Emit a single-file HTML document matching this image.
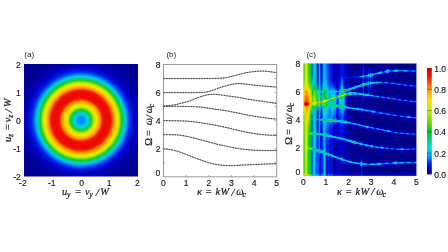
<!DOCTYPE html>
<html><head><meta charset="utf-8"><title>Figure</title>
<style>
html,body{margin:0;padding:0;background:#fff}
#f{position:relative;width:448px;height:252px;overflow:hidden;background:#fff}
#h{position:absolute;left:303px;top:63px;width:114px}
#h i{display:block;height:1px;width:114px}
</style></head><body><div id="f">
<div id="h"><i style="background:linear-gradient(90deg,#e0f9eb,#83e374,#c5ef66,#f4ef66,#e3f266,#97e76c,#7ee275,#6fe07b,#67de7e,#6694f8,#66c7fa,#66e5d9,#66e5d9,#66d2f9,#6666dc,#6666cf,#66e5da,#66a1fa,#6666d0,#666de6,#66c8fa,#66d1f9,#66cafa,#66b7fb,#66a2fa,#668bf6,#6680f4,#6677f2,#6674ee,#666ee8,#6666db,#6666d4,#6666d1,#6666cf,#6666d0,#6666d8,#6667e0,#666ce5,#6670ea,#6674ef,#666fe8,#6669e2,#6666db,#6666d2,#6666ca,#6666c4,#6666c1,#6666bf,#6666bc,#6666bb,#6666bb,#6666bb,#6666bb,#6666bb,#6666bb,#6666ba,#6666ba,#6666ba,#6666bc,#6666cd,#6666db,#6666c1,#6666ba,#6666ba,#6666ba,#6666bc,#6666ba,#6666ba,#6666ba,#6666ba,#6666ba,#6666ba,#6666ba,#6666ba,#6666b9,#6666b9,#6666b9,#6666b9,#6666b9,#6666b9,#6666b9,#6666bb,#6666be,#6666bd,#6666ba,#6666b9,#6666b9,#6666b9,#6666b9,#6666b9,#6666b9,#6666b9,#6666b9,#6666b9,#6666b8,#6666b8,#6666b8,#6666b8,#6666b8,#6666b8,#6666b8,#6666b8,#6666b8,#6666b8,#6666b8,#6666b8,#6666b8,#6666b8,#6666b8,#6666b8,#6666b8,#6666b8,#6666b8,#ffffff)"></i>
<i style="background:linear-gradient(90deg,#ccf5de,#30d116,#9fe400,#ede400,#d0ea00,#52d70a,#29cf19,#0fcb23,#02c827,#004df3,#00a1f7,#00d4c0,#00d4c0,#00b4f5,#0000c6,#0000b0,#00d4c2,#0062f6,#0000b1,#000bd5,#00a3f7,#00b3f5,#00a6f6,#0088f9,#0063f7,#003ef0,#002ced,#001de9,#0017e2,#000ed8,#0000c3,#0000b7,#0000b3,#0000af,#0000b0,#0000be,#0002cb,#000ad3,#0011dc,#0018e4,#000fd9,#0006cf,#0000c3,#0000b5,#0000a7,#00009c,#000098,#000094,#000090,#00008d,#00008d,#00008e,#00008e,#00008e,#00008d,#00008d,#00008d,#00008d,#000090,#0000b8,#0007d1,#00009d,#00008d,#00008c,#00008d,#000092,#00008d,#00008d,#00008c,#00008c,#00008b,#00008b,#00008b,#00008b,#00008b,#00008b,#00008b,#00008b,#00008b,#00008b,#00008b,#00008f,#000099,#000095,#00008e,#00008b,#00008a,#00008a,#00008a,#00008a,#00008a,#00008a,#00008c,#00008b,#000089,#000089,#000089,#000089,#000089,#000089,#000089,#000089,#000089,#000089,#000089,#000089,#000088,#000088,#000088,#000088,#000088,#000088,#000088,#ffffff)"></i>
<i style="background:linear-gradient(90deg,#ccf5de,#30d116,#9fe400,#ede400,#d0ea00,#52d70a,#29cf19,#0fcb23,#02c827,#004df3,#00a1f7,#00d4c0,#00d4c0,#00b5f5,#0000c6,#0000b0,#00d4c2,#0062f6,#0000b1,#000bd5,#00a4f7,#00b3f5,#00a6f6,#0088f9,#0063f7,#003ef0,#002ced,#001de9,#0017e2,#000ed8,#0000c3,#0000b7,#0000b3,#0000af,#0000b0,#0000be,#0002cb,#000ad3,#0011dc,#0018e4,#000fd9,#0006cf,#0000c3,#0000b5,#0000a7,#00009c,#000098,#000094,#000090,#00008d,#00008e,#00008e,#00008f,#00008f,#00008e,#00008d,#00008d,#00008d,#000090,#0000c4,#0010db,#0000a1,#00008d,#00008c,#00008f,#000097,#00008f,#00008e,#00008c,#00008c,#00008b,#00008b,#00008b,#00008b,#00008b,#00008b,#00008b,#00008b,#00008b,#00008b,#00008b,#000091,#0000a1,#00009d,#000093,#00008e,#00008b,#00008a,#00008a,#00008a,#00008a,#00008b,#000091,#00008d,#00008a,#000089,#000089,#000089,#000089,#000089,#000089,#000089,#000089,#000089,#000089,#000089,#000088,#000088,#000088,#000088,#000088,#000088,#000088,#ffffff)"></i>
<i style="background:linear-gradient(90deg,#ccf5de,#30d116,#9fe400,#ede400,#d0ea00,#52d70a,#29cf19,#0fcb23,#02c827,#004ef3,#00a1f7,#00d4c0,#00d4c0,#00b5f5,#0000c6,#0000b0,#00d4c2,#0063f6,#0000b1,#000bd5,#00a4f7,#00b3f5,#00a6f6,#0088f9,#0063f7,#003ef0,#002ced,#001de9,#0017e2,#000ed8,#0000c3,#0000b7,#0000b3,#0000af,#0000b0,#0000be,#0002cb,#000ad3,#0011dc,#0018e4,#000fd9,#0006cf,#0000c3,#0000b5,#0000a7,#00009c,#000098,#000094,#000090,#00008d,#00008e,#00008f,#000090,#000090,#00008f,#00008e,#00008d,#00008d,#000091,#0002ca,#0016e2,#0000a5,#00008d,#00008d,#000091,#0000a0,#000091,#00008f,#00008d,#00008c,#00008c,#00008b,#00008b,#00008b,#00008b,#00008b,#00008b,#00008b,#00008b,#00008b,#00008b,#000094,#0000aa,#0000aa,#0000a3,#000097,#00008e,#00008a,#00008a,#00008a,#00008a,#00008e,#00009d,#000093,#00008a,#00008a,#000089,#000089,#000089,#000089,#000089,#000089,#000089,#000089,#000089,#000089,#000088,#000088,#000088,#000088,#000088,#000088,#000088,#ffffff)"></i>
<i style="background:linear-gradient(90deg,#ccf5de,#31d116,#9fe400,#ede400,#d0e900,#53d70a,#29cf19,#0fcb22,#02c827,#004ef3,#00a2f7,#00d4bf,#00d4bf,#00b5f5,#0000c6,#0000b0,#00d4c2,#0063f6,#0000b1,#000bd5,#00a4f7,#00b3f5,#00a7f6,#0088f9,#0064f7,#003ef0,#002ced,#001de9,#0017e2,#000ed8,#0000c3,#0000b7,#0000b3,#0000af,#0000b0,#0000be,#0002cb,#000ad3,#0011dc,#0018e4,#000fd9,#0006cf,#0000c3,#0000b5,#0000a7,#00009c,#000098,#000094,#000090,#00008e,#00008f,#000091,#000093,#000093,#000091,#00008e,#00008d,#00008d,#000091,#0004cd,#001ae7,#0000a7,#00008d,#00008e,#000094,#0000ae,#000096,#000093,#00008f,#00008d,#00008c,#00008b,#00008b,#00008b,#00008b,#00008b,#00008b,#00008b,#00008b,#00008b,#00008b,#000096,#0000b3,#0000be,#0000c4,#0000ae,#000095,#00008c,#00008b,#00008b,#00008b,#000093,#0000b2,#00009e,#00008c,#00008b,#00008b,#00008b,#00008b,#00008b,#00008b,#00008b,#00008a,#00008a,#000089,#000089,#000089,#000089,#000089,#000089,#000089,#000089,#000089,#ffffff)"></i>
<i style="background:linear-gradient(90deg,#ccf5de,#31d116,#9fe400,#ede400,#d0e900,#53d70a,#29d019,#10cb22,#02c827,#004ff3,#00a2f7,#00d4bf,#00d4bf,#00b5f5,#0000c6,#0000b1,#00d4c1,#0063f7,#0000b1,#000bd5,#00a4f7,#00b4f5,#00a7f6,#0088f9,#0064f7,#003ff0,#002ced,#001de9,#0017e3,#000ed9,#0000c4,#0000b8,#0000b4,#0000af,#0000b0,#0000bf,#0003cb,#000ad4,#0011dc,#0018e4,#000fd9,#0006cf,#0000c3,#0000b5,#0000a7,#00009c,#000098,#000094,#000090,#00008e,#000090,#000094,#000098,#000098,#000094,#000090,#00008d,#00008d,#000092,#0005ce,#001de9,#0000a8,#00008e,#00008f,#000098,#0000c0,#00009b,#000099,#000092,#00008e,#00008c,#00008b,#00008b,#00008b,#00008b,#00008c,#00008e,#00008e,#00008d,#00008c,#00008c,#000099,#0000bc,#0008d2,#0018e3,#0007d1,#0000a4,#000090,#00008f,#000092,#000096,#0000a6,#0008d1,#0000b8,#000099,#000095,#000093,#000092,#000092,#000093,#000093,#000093,#000092,#000090,#00008e,#00008c,#00008c,#00008d,#00008e,#00008f,#00008e,#00008d,#00008c,#ffffff)"></i>
<i style="background:linear-gradient(90deg,#ccf5de,#31d116,#a0e400,#ede400,#d0e900,#53d70a,#2ad019,#10cb22,#03c827,#004ff3,#00a3f7,#00d4bf,#00d4bf,#00b6f5,#0000c7,#0000b1,#00d4c1,#0064f7,#0000b2,#000bd5,#00a4f7,#00b4f5,#00a7f6,#0088f9,#0064f7,#003ff0,#002ced,#001dea,#0017e3,#000ed9,#0000c4,#0000b8,#0000b4,#0000af,#0000b1,#0000bf,#0003cb,#000ad4,#0012dc,#0018e4,#000fda,#0006cf,#0000c3,#0000b5,#0000a7,#00009c,#000098,#000094,#000090,#00008e,#000091,#000097,#00009d,#00009e,#000098,#000091,#00008e,#00008d,#000092,#0006cf,#001eeb,#0000a9,#00008f,#000092,#00009e,#0006cf,#0000a2,#0000a3,#000097,#000090,#00008d,#00008b,#00008c,#00008c,#00008c,#000090,#000099,#00009f,#000097,#000090,#000090,#0000a1,#0002ca,#001de9,#007afa,#0035ef,#0000c6,#0000a7,#0000ab,#0000bf,#0009d3,#001dea,#0086f9,#0047f2,#0012dd,#0007d0,#0000c8,#0000c1,#0000c1,#0000c5,#0001c9,#0001c9,#0000c5,#0000bb,#0000ae,#0000a5,#0000a1,#0000a3,#0000a7,#0000aa,#0000a8,#0000a3,#00009e,#ffffff)"></i>
<i style="background:linear-gradient(90deg,#ccf5de,#32d116,#a0e400,#ede400,#d1e900,#54d709,#2ad019,#10cb22,#03c927,#0050f3,#00a3f7,#00d4be,#00d4be,#00b6f5,#0000c8,#0000b2,#00d4c0,#0064f7,#0000b2,#000bd5,#00a5f7,#00b4f5,#00a8f6,#0089f9,#0065f7,#003ff1,#002ded,#001dea,#0017e3,#000fd9,#0000c4,#0000b9,#0000b4,#0000b0,#0000b1,#0000bf,#0003cb,#000ad4,#0012dd,#0018e5,#000fda,#0006cf,#0000c3,#0000b5,#0000a7,#00009c,#000098,#000094,#000090,#00008f,#000093,#00009b,#0000a4,#0000a4,#00009c,#000093,#00008e,#00008d,#000092,#0006cf,#001feb,#0000a9,#000090,#000097,#0000a3,#000ed8,#0000a9,#0000b3,#00009f,#000095,#00008e,#00008d,#00008d,#00008f,#000092,#00009e,#0000bf,#0004cd,#0000b7,#0000a2,#0000a6,#0001c9,#0038ef,#00bef1,#00d1a2,#00d7df,#0073f9,#0020eb,#002bed,#0076fa,#00c3ee,#00d2ad,#00c939,#00cf82,#00d5e2,#00adf6,#007dfa,#0065f7,#0071f9,#008ff8,#00aff6,#00bdf2,#00b8f5,#0092f8,#0056f4,#001feb,#0018e5,#0023ec,#004af2,#0063f7,#005ef6,#003ff0,#001ce9,#ffffff)"></i>
<i style="background:linear-gradient(90deg,#ccf5de,#33d116,#a1e400,#ede400,#d1e900,#55d709,#2bd018,#11cb22,#04c927,#0052f4,#00a4f7,#00d4bd,#00d4bd,#00b7f5,#0000c8,#0000b3,#00d4c0,#0065f7,#0000b2,#000cd6,#00a6f6,#00b5f5,#00a8f6,#0089f9,#0065f7,#0040f1,#002dee,#001dea,#0017e3,#000fd9,#0000c5,#0000b9,#0000b5,#0000b0,#0000b1,#0000bf,#0003cb,#000ad4,#0012dd,#0019e5,#000fda,#0006cf,#0000c3,#0000b5,#0000a7,#00009c,#000098,#000094,#000090,#00008f,#000094,#00009f,#0000aa,#0000aa,#0000a0,#000094,#00008f,#00008d,#000092,#0007d0,#0021eb,#0000a9,#000093,#0000a0,#0000a8,#0014df,#0000b2,#0002ca,#0000ae,#0000a0,#000094,#000092,#000096,#00009c,#0000a8,#0002ca,#0037ef,#007bfa,#0040f1,#0019e5,#0023ec,#0083f9,#00d7dc,#00cc5e,#1acd1e,#00d093,#0095f8,#0023ec,#0019e5,#0033ef,#0071f9,#00abf6,#00d7dd,#00b9f5,#005ef6,#001eeb,#0011dc,#000cd6,#0010db,#001ce8,#0045f1,#006cf8,#0079fa,#0062f6,#0033ee,#0017e3,#0014df,#001dea,#004af2,#006ff9,#0076fa,#005df5,#0037ef,#ffffff)"></i>
<i style="background:linear-gradient(90deg,#ccf5de,#34d115,#a1e500,#ede400,#d1e900,#56d809,#2cd018,#12cb21,#04c926,#0054f4,#00a6f6,#00d4bc,#00d4bd,#00b8f5,#0001c9,#0000b4,#00d4bf,#0066f7,#0000b3,#000cd6,#00a7f6,#00b6f5,#00a9f6,#008af9,#0066f7,#0040f1,#002eee,#001dea,#0018e3,#000fda,#0000c6,#0000ba,#0000b5,#0000b0,#0000b1,#0000bf,#0003cc,#000bd5,#0013de,#001ae6,#0010da,#0006cf,#0000c4,#0000b5,#0000a7,#00009c,#000098,#000094,#000090,#00008f,#000095,#0000a2,#0000ae,#0000af,#0000a3,#000096,#00008f,#00008d,#000092,#0007d0,#0022ec,#0000aa,#000098,#0000b0,#0000b0,#001be7,#0000c6,#0016e1,#0004cc,#0000bd,#0000a9,#0000ae,#0000c6,#0012dd,#0053f4,#00baf5,#00d2ae,#00d08a,#00cce9,#006af8,#0030ee,#003af0,#0069f7,#0098f8,#00bef2,#0063f7,#0005cd,#0000a6,#00009f,#0000a3,#0000aa,#0000be,#0016e2,#0003cc,#0000a7,#00009e,#000099,#000097,#000099,#00009d,#0000a3,#0000a8,#0000ab,#0000a8,#0000a2,#00009d,#00009c,#0000a0,#0000a7,#0000ad,#0000ae,#0000ab,#0000a6,#ffffff)"></i>
<i style="background:linear-gradient(90deg,#ccf5dd,#35d215,#a2e500,#eee400,#d2e900,#57d808,#2dd017,#13cb21,#05c926,#0057f4,#00a7f6,#00d4bb,#00d4bb,#00b9f5,#0001ca,#0000b5,#00d4be,#0068f7,#0000b3,#000cd6,#00a8f6,#00b8f5,#00aaf6,#008bf9,#0067f7,#0041f1,#002eee,#001dea,#0018e4,#0010da,#0000c7,#0000bc,#0000b6,#0000b1,#0000b1,#0000bf,#0003cc,#000bd5,#0014df,#001be7,#0010db,#0007d0,#0000c4,#0000b5,#0000a7,#00009d,#000098,#000094,#000090,#000090,#000096,#0000a4,#0000b1,#0000b2,#0000a5,#000097,#000090,#00008f,#000094,#0008d2,#0027ec,#0000ae,#0000a2,#0001c9,#0000c1,#003bf0,#0018e4,#0086f9,#0059f5,#0047f2,#003bf0,#006af8,#00a3f7,#00c5ed,#00cee7,#00cce8,#00cfe6,#00bff1,#003af0,#0000c4,#0000a9,#0000ae,#0003cb,#0012dd,#0028ed,#000ad4,#0000a5,#000090,#00008e,#00008e,#00008f,#000098,#0000bf,#0000a5,#00008f,#00008d,#00008c,#00008c,#00008c,#00008d,#00008e,#00008e,#00008e,#00008d,#00008c,#00008b,#00008b,#00008c,#00008e,#00008f,#00008f,#00008f,#00008e,#ffffff)"></i>
<i style="background:linear-gradient(90deg,#ccf5dd,#37d214,#a4e500,#eee400,#d2e900,#59d808,#2fd117,#15cc20,#07c926,#005af5,#00aaf6,#00d3b9,#00d3b9,#00baf4,#0002cb,#0000b8,#00d4bc,#006af8,#0000b4,#000dd7,#00a9f6,#00b9f5,#00acf6,#008cf8,#0069f7,#0042f1,#002fee,#001eea,#0018e4,#0010db,#0000c8,#0000bd,#0000b8,#0000b2,#0000b2,#0000c0,#0004cd,#000cd6,#0016e2,#001ce9,#0011dc,#0007d1,#0000c5,#0000b7,#0000a8,#00009e,#00009a,#000096,#000092,#000092,#000099,#0000a7,#0000b5,#0000b5,#0000a8,#00009b,#000096,#000097,#00009f,#000ed8,#003bf0,#0000c1,#0000c0,#001ae6,#001dea,#00bff1,#00d2e4,#00cb4e,#00ce7c,#00d4be,#00bbf4,#0086f9,#0055f4,#0020eb,#000ed9,#0006cf,#000fd9,#0012dd,#0000c0,#00009a,#000091,#00009b,#0000b7,#0000c8,#0004cd,#0000b1,#000095,#00008c,#00008b,#00008a,#00008a,#00008f,#0000a4,#000096,#00008a,#00008a,#00008a,#00008a,#000089,#00008a,#00008a,#00008a,#00008a,#000089,#000089,#000089,#000089,#000089,#000089,#000089,#000089,#000089,#000089,#ffffff)"></i>
<i style="background:linear-gradient(90deg,#ccf5dd,#39d213,#a5e500,#efe400,#d3e900,#5cd907,#32d116,#17cc20,#08c925,#005ff6,#00adf6,#00d3b7,#00d3b7,#00bcf3,#0004cc,#0000ba,#00d3ba,#006cf8,#0000b5,#000ed8,#00acf6,#00baf4,#00aef6,#008ef8,#006bf8,#0044f1,#0030ee,#001eeb,#0019e5,#0011dc,#0001c9,#0000bf,#0000b9,#0000b3,#0000b2,#0000c0,#0004cd,#000ed8,#0019e5,#0021eb,#0012dd,#0009d2,#0001c9,#0000bb,#0000ad,#0000a4,#0000a0,#00009d,#00009a,#00009a,#0000a2,#0000b0,#0000be,#0000bf,#0000b4,#0000ad,#0000b2,#0000c4,#000bd5,#0062f6,#00b0f6,#0050f3,#0065f7,#00c3ef,#00cce9,#00ce76,#00cf7f,#00c82e,#00d4c0,#009df7,#0010db,#0000b9,#0000a9,#0000a1,#00009c,#00009c,#0000a8,#0000ad,#00009c,#00008f,#00008c,#000094,#0000ab,#0000af,#0000aa,#000099,#00008e,#00008a,#00008a,#00008a,#00008a,#00008c,#000095,#00008f,#00008a,#000089,#000089,#000089,#000089,#000089,#000089,#000089,#000089,#000089,#000089,#000089,#000088,#000088,#000088,#000088,#000088,#000088,#000088,#ffffff)"></i>
<i style="background:linear-gradient(90deg,#ccf5dc,#3cd312,#a8e600,#f0e400,#d4e900,#5fd906,#35d215,#19cd1f,#0aca24,#0065f7,#00b1f6,#00d3b4,#00d3b4,#00bdf2,#0005ce,#0000be,#00d3b7,#006ff9,#0000b7,#000fd9,#00aef6,#00bcf3,#00b1f6,#0090f8,#006df8,#0046f2,#0032ee,#001feb,#001ae6,#0012dd,#0002cb,#0000c2,#0000bc,#0000b4,#0000b3,#0000c1,#0005ce,#000fda,#001eeb,#002ded,#0015e1,#0010da,#000bd5,#0008d1,#0003cc,#0001c9,#0001c9,#0002ca,#0003cc,#0005ce,#0009d2,#000fd9,#0014df,#0013de,#0013de,#001ce9,#0058f5,#0099f7,#00bef2,#00d6d3,#00d4c3,#008ef8,#0065f7,#009ef7,#0059f5,#00a3f7,#0061f6,#00bcf3,#0060f6,#001eeb,#0000b1,#000095,#000092,#000093,#000091,#00008f,#000091,#000092,#00008e,#00008b,#00008b,#000091,#0000a1,#00009f,#000097,#00008f,#00008b,#00008a,#00008a,#00008a,#00008a,#00008a,#00008e,#00008b,#00008a,#000089,#000089,#000089,#000089,#000089,#000089,#000089,#000089,#000089,#000089,#000089,#000088,#000088,#000088,#000088,#000088,#000088,#000088,#ffffff)"></i>
<i style="background:linear-gradient(90deg,#ccf5db,#40d411,#aae600,#f1e400,#d6e900,#63da04,#39d213,#1dcd1e,#0dca23,#006cf8,#00b6f5,#00d3b0,#00d3b1,#00bff1,#0007d0,#0000c2,#00d3b4,#0074f9,#0000b8,#0010db,#00b2f6,#00bdf2,#00b4f5,#0093f8,#0070f9,#0048f2,#0033ef,#0021eb,#001be7,#0013de,#0004cc,#0000c6,#0000be,#0000b6,#0000b4,#0000c2,#0006cf,#0012dd,#002fee,#003cf0,#0019e5,#0017e3,#0016e2,#0015e0,#0011dc,#000fd9,#000fd9,#0010db,#0011dc,#0012dd,#0014e0,#0018e4,#001be7,#0017e3,#0014e0,#0019e6,#002dee,#003cf0,#0030ee,#0060f6,#007bfa,#0006cf,#0001c9,#0026ec,#0005ce,#0035ef,#000ad4,#0060f6,#0017e3,#0012dd,#0000a5,#00008d,#00008d,#000094,#000091,#00008c,#00008c,#00008c,#00008b,#00008b,#00008b,#00008f,#000099,#000096,#00008f,#00008b,#00008a,#00008a,#00008a,#00008a,#00008a,#00008a,#00008b,#00008a,#000089,#000089,#000089,#000089,#000089,#000089,#000089,#000089,#000089,#000089,#000089,#000089,#000088,#000088,#000088,#000088,#000088,#000088,#000088,#ffffff)"></i>
<i style="background:linear-gradient(90deg,#ccf4da,#44d40f,#aee700,#f2e300,#d7e800,#68db02,#3dd312,#21ce1c,#10cb22,#0075fa,#00baf4,#00d2ab,#00d2ac,#00c1ef,#0009d3,#0000c8,#00d2af,#0079fa,#0000ba,#0011dc,#00b6f5,#00c0f1,#00b8f5,#0097f8,#0074f9,#004bf3,#0036ef,#0023ec,#001ce9,#0015e0,#0005ce,#0001c9,#0000c2,#0000b8,#0000b5,#0000c3,#0007d0,#0014e0,#0044f1,#004ef3,#0018e4,#000ed8,#0006cf,#0000c8,#0000ba,#0000b1,#0000ad,#0000a9,#0000a6,#0000a5,#0000ac,#0000b9,#0000c5,#0000c3,#0000b6,#0000aa,#0000a7,#0000a5,#0000a7,#000ed8,#0031ee,#0000b2,#0000b4,#001be8,#0000c5,#001feb,#0000c6,#0039f0,#000dd7,#000fd9,#0000a2,#00008c,#00008e,#00009f,#000099,#00008c,#00008b,#00008b,#00008b,#00008b,#00008b,#00008d,#000093,#000091,#00008c,#00008b,#00008a,#00008a,#00008a,#00008a,#00008a,#00008a,#00008a,#00008a,#000089,#000089,#000089,#000089,#000089,#000089,#000089,#000089,#000089,#000089,#000089,#000089,#000088,#000088,#000088,#000088,#000088,#000088,#000088,#ffffff)"></i>
<i style="background:linear-gradient(90deg,#ccf4d9,#4ad50d,#b2e700,#f3e300,#d9e800,#6edc00,#43d410,#26cf1a,#15cc21,#007efa,#00bef2,#00d2a4,#00d2a6,#00c4ed,#000cd6,#0003cb,#00d2aa,#007dfa,#0000bd,#0013df,#00baf4,#00c2ef,#00bbf4,#009bf7,#0079fa,#004ff3,#0039ef,#0025ec,#001eeb,#0017e3,#0007d1,#0003cc,#0000c6,#0000ba,#0000b7,#0000c4,#0009d2,#0017e3,#0058f5,#0060f6,#001ae6,#000cd6,#0002ca,#0000bb,#0000ac,#0000a1,#00009c,#000098,#000094,#000093,#00009b,#0000a9,#0000b7,#0000b7,#0000a9,#00009b,#000094,#000092,#000096,#0008d2,#0025ec,#0000ac,#0000b1,#001be7,#0000c3,#001dea,#0000c2,#0033ef,#000cd6,#000fd9,#0000a3,#00008e,#000093,#0000b4,#0000a8,#00008f,#00008e,#00008e,#00008d,#00008c,#00008c,#00008e,#000091,#000090,#00008c,#00008b,#00008b,#00008b,#00008b,#00008b,#00008a,#00008a,#00008a,#00008a,#00008a,#000089,#000089,#000089,#000089,#000089,#000089,#000089,#000089,#000089,#000089,#000089,#000088,#000088,#000088,#000088,#000088,#000088,#000088,#ffffff)"></i>
<i style="background:linear-gradient(90deg,#ccf4d7,#51d70b,#b7e800,#f5e300,#dce700,#74dd00,#4bd60d,#2cd018,#1acd1f,#0088f9,#00c2ef,#00d19c,#00d19e,#00c8eb,#0010db,#0006cf,#00d1a3,#0083f9,#0000c0,#0016e1,#00bdf2,#00c6ed,#00bef2,#00a0f7,#007dfa,#0054f4,#003cf0,#0029ed,#0024ec,#0019e5,#000ad4,#0006cf,#0001ca,#0000bd,#0000b8,#0000c6,#000ad4,#001ae6,#0069f8,#0071f9,#001ce9,#000dd7,#0002ca,#0000b9,#0000aa,#00009e,#00009a,#000095,#000091,#000090,#000098,#0000a6,#0000b5,#0000b5,#0000a7,#000098,#000090,#00008e,#000093,#0008d1,#0027ec,#0000ac,#0000b1,#001ce8,#0000c7,#0021eb,#0000c7,#003af0,#000ed9,#0011dc,#0000ad,#000099,#0000a0,#0005ce,#0000c2,#00009c,#00009b,#00009a,#000095,#000092,#000091,#000094,#000098,#000097,#000092,#00008f,#00008e,#00008f,#00008f,#00008f,#00008d,#00008c,#00008b,#00008b,#00008a,#00008a,#00008a,#000089,#000089,#000089,#000089,#000089,#000089,#000089,#000089,#000089,#000088,#000088,#000088,#000088,#000088,#000088,#000088,#ffffff)"></i>
<i style="background:linear-gradient(90deg,#ccf4d6,#59d807,#bee900,#f8e200,#dfe700,#7cde00,#53d70a,#34d115,#20ce1d,#0094f8,#00c7ec,#00d092,#00d094,#00cde8,#0014e0,#000bd4,#00d19a,#0089f9,#0000c4,#0018e4,#00c1f0,#00caea,#00c1f0,#00a7f6,#0082f9,#005af5,#0040f1,#002ced,#002bed,#001ce9,#000dd7,#000ad3,#0004cd,#0000c1,#0000ba,#0000c8,#000cd6,#001dea,#0078fa,#007dfa,#0020eb,#000ed9,#0003cb,#0000ba,#0000aa,#00009e,#000099,#000095,#000090,#000090,#000097,#0000a6,#0000b4,#0000b5,#0000a7,#000098,#000090,#00008e,#000096,#000dd7,#003cf0,#0000b6,#0000ba,#0027ed,#0008d1,#003ef0,#000ad3,#005df6,#001dea,#0030ee,#0010da,#000bd5,#0010db,#0051f3,#0036ef,#0014df,#0015e1,#0010da,#0003cc,#0000b6,#0000b3,#0000c3,#0003cc,#0001c9,#0000b7,#0000a6,#0000a2,#0000a4,#0000a5,#0000a1,#00009a,#000094,#000091,#000090,#00008f,#00008e,#00008d,#00008b,#00008a,#00008a,#00008a,#00008a,#000089,#000089,#000089,#000089,#000089,#000089,#000088,#000088,#000088,#000088,#000088,#ffffff)"></i>
<i style="background:linear-gradient(90deg,#ccf4d4,#63da04,#c5eb00,#fae200,#e2e600,#85e000,#5ed906,#3dd312,#27cf1a,#00a2f7,#00cde8,#00cf86,#00cf89,#00d2e5,#0019e6,#0010da,#00d08f,#0091f8,#0000c8,#001ce8,#00c5ed,#00cee7,#00c5ed,#00aef6,#0088f9,#0060f6,#0045f2,#0031ee,#0034ef,#0023ec,#0011dc,#000ed8,#0007d0,#0000c5,#0000bd,#0001c9,#000fd9,#0025ec,#0082f9,#0087f9,#002aed,#0011db,#0004cc,#0000bb,#0000aa,#00009e,#00009a,#000095,#000090,#000090,#000097,#0000a6,#0000b5,#0000b5,#0000a8,#000099,#000093,#000095,#0000a6,#001feb,#007efa,#0008d1,#000cd6,#0083f9,#0079fa,#00c9eb,#00a0f7,#00d6d9,#00cfe6,#00d5ce,#00d7dc,#00d3e4,#00cde7,#00d5c8,#00d7e0,#00c8eb,#00cce8,#00bff1,#007dfa,#0025ec,#0021ec,#006ef8,#00a6f6,#00a3f7,#0068f7,#001feb,#0019e5,#002eee,#0043f1,#002ced,#0011dc,#0001c9,#0000b4,#0000ab,#0000a7,#0000a2,#00009b,#000093,#00008f,#00008e,#00008f,#00008f,#00008d,#00008b,#00008a,#00008a,#00008a,#00008a,#00008a,#000089,#000089,#000089,#000089,#ffffff)"></i>
<i style="background:linear-gradient(90deg,#cef4d3,#6fdc00,#cbea00,#fde100,#e7e500,#8fe200,#6adb02,#47d50e,#2fd117,#00b2f6,#00d4e3,#00ce78,#00ce7c,#00d7e0,#0022ec,#0015e1,#00cf83,#009af7,#0003cb,#0022ec,#00caea,#00d4e3,#00caea,#00b7f5,#0090f8,#0068f7,#004bf2,#0036ef,#003ef0,#002fee,#0015e1,#0012dd,#000bd5,#0001c9,#0000c0,#0002cb,#0011dc,#002fee,#008cf8,#0092f8,#0035ef,#0013de,#0005ce,#0000bc,#0000ab,#00009f,#00009a,#000095,#000090,#000090,#000097,#0000a7,#0000b7,#0000b9,#0000ac,#0000a0,#0000a1,#0000af,#0008d1,#009df7,#00d6d2,#009ff7,#00d2e4,#00c82b,#00c92f,#05c926,#00d4be,#00d2a9,#00cce9,#00bff1,#008ef8,#0062f6,#0045f1,#007efa,#0055f4,#001be7,#001be7,#0016e2,#000ad4,#0000c6,#0000c8,#000ed9,#001eeb,#002aed,#001ae6,#0010da,#0012dd,#0034ef,#007bfa,#0097f8,#008df8,#0068f7,#0048f2,#0045f1,#0049f2,#0035ef,#0015e0,#0001c9,#0000af,#0000a8,#0000aa,#0000a8,#00009f,#000095,#00008f,#00008e,#000090,#000092,#000090,#00008e,#00008c,#00008c,#00008c,#ffffff)"></i>
<i style="background:linear-gradient(90deg,#d1f5d2,#7ade00,#d1e900,#ffde00,#ebe500,#9be300,#76dd00,#53d70a,#38d213,#00bff1,#00d6d8,#00cd68,#00cd6d,#00d6d3,#0036ef,#001ce9,#00ce74,#00a5f7,#0005ce,#002fee,#00cfe6,#00d7dc,#00cfe6,#00bcf3,#0098f8,#0071f9,#0051f4,#003cf0,#0049f2,#003cf0,#001ae7,#0018e4,#000fda,#0003cc,#0000c3,#0004cc,#0014e0,#003bf0,#0096f8,#009df7,#0041f1,#0016e1,#0007d0,#0000be,#0000ac,#0000a0,#00009b,#000096,#000091,#000091,#00009b,#0000ae,#0000c2,#0000c8,#0000c0,#0000c3,#0011db,#007bfa,#00d6d7,#0ecb23,#4cd60c,#00d08f,#00d2ac,#00d091,#00c3ee,#00bbf3,#002aed,#0076fa,#0017e3,#0008d2,#0000b6,#0000a7,#0000a8,#0008d1,#0000c6,#00009f,#00009d,#00009c,#000098,#000094,#000094,#000099,#00009f,#0000a0,#00009d,#00009a,#00009c,#0000a6,#0000b5,#0000c5,#0004cd,#0008d2,#000fd9,#001eeb,#0062f6,#008ef8,#0089f9,#004ff3,#001be7,#001be8,#0043f1,#0053f4,#0023ec,#0007d0,#0000b3,#0000ae,#0000b9,#0000be,#0000b7,#0000a9,#00009e,#00009b,#00009c,#ffffff)"></i>
<i style="background:linear-gradient(90deg,#d3f5d1,#86e000,#d8e800,#ffd900,#f1e400,#a8e600,#83df00,#60da05,#43d410,#00c8eb,#00d5c7,#00cc56,#00cc5c,#00d4c5,#004df3,#002fee,#00cd65,#00b1f6,#0008d2,#003ef0,#00d6e2,#00d5cf,#00d5e2,#00c2ef,#00a1f7,#007afa,#0059f5,#0043f1,#0056f4,#004cf3,#0025ec,#001eeb,#0014df,#0006cf,#0000c7,#0005ce,#0018e4,#0048f2,#00a1f7,#00a9f6,#004ef3,#0019e5,#0008d2,#0000c0,#0000ae,#0000a1,#00009d,#000099,#000096,#00009a,#0000aa,#0000c8,#0013de,#0031ee,#0061f6,#00a8f6,#00d3b6,#00c93b,#00ca3c,#00cb4c,#00cf7e,#0076fa,#0016e2,#0023ec,#000ad3,#0038ef,#0003cb,#0036ef,#0006cf,#0000af,#000098,#000091,#000094,#0000b5,#0000a9,#000090,#00008f,#00008e,#00008d,#00008d,#00008d,#00008e,#00008f,#00008f,#00008e,#00008d,#00008e,#00008f,#000092,#000094,#000095,#000096,#000099,#0000a0,#0000ae,#0000be,#0001c9,#0000c8,#0000c5,#0008d1,#0023ec,#0070f9,#007bfa,#003bf0,#0012dd,#0016e1,#004ff3,#0085f9,#007dfa,#0043f1,#0018e5,#0014e0,#001ae6,#ffffff)"></i>
<i style="background:linear-gradient(90deg,#d6f6d0,#93e200,#e0e700,#ffd300,#f7e200,#b8e800,#91e200,#6fdc00,#4fd60b,#00d3e4,#00d3b5,#00ca42,#00cb49,#00d3b5,#0067f7,#0048f2,#00cb53,#00bbf4,#000cd6,#004ef3,#00d6d6,#00d4c1,#00d6d7,#00c7eb,#00abf6,#0082f9,#0061f6,#004bf2,#0065f7,#005ef6,#0038ef,#0033ee,#001ae6,#000ad3,#0001c9,#0007d0,#001ce9,#0057f4,#00adf6,#00b7f5,#005ef6,#001de9,#000bd4,#0000c3,#0000b2,#0000a7,#0000a7,#0000a7,#0000ab,#0000be,#0016e1,#0098f8,#00d4bd,#00cf88,#00d3ba,#00d1e5,#00c0f0,#008df8,#0036ef,#0072f9,#009ff7,#0009d2,#0000af,#0002cb,#0000bc,#001feb,#0000c1,#0024ec,#0001c9,#00009e,#000090,#00008c,#00008e,#0000a0,#000099,#00008c,#00008b,#00008b,#00008b,#00008b,#00008b,#00008b,#00008b,#00008b,#00008b,#00008b,#00008b,#00008b,#00008b,#00008c,#00008c,#00008c,#00008d,#00008e,#000090,#000093,#000094,#000093,#000092,#000096,#0000a1,#0000b0,#0000b9,#0000b5,#0000ae,#0000b9,#000ad3,#001ce8,#002eee,#001feb,#0018e4,#001ce8,#0045f2,#ffffff)"></i>
<i style="background:linear-gradient(90deg,#daf6cf,#a2e500,#e8e500,#ffcc00,#fee100,#c8eb00,#a1e400,#7cde00,#5cd907,#00d6d3,#00d19f,#00c82d,#00c934,#00d1a3,#0080f9,#0063f7,#00ca40,#00c2ef,#000fda,#0060f6,#00d5c8,#00d3b1,#00d5ca,#00cee7,#00b7f5,#008bf9,#006af8,#0054f4,#0076fa,#0072f9,#004df3,#004af2,#0023ec,#000dd7,#0003cc,#0009d3,#0025ec,#0067f7,#00baf4,#00bff1,#0071f9,#0029ed,#000fd9,#0002cb,#0000c1,#0000bf,#0003cc,#0011db,#0040f1,#00b8f5,#00d093,#07c926,#00cb4c,#00d2e4,#004df3,#000bd5,#0000c2,#0000b1,#0000ad,#0015e0,#004ff3,#0000b9,#00009b,#0000b1,#0000b1,#001ce9,#0000bd,#001be7,#0000c3,#000096,#00008e,#00008b,#00008c,#000094,#000091,#00008b,#00008b,#00008b,#00008b,#00008b,#00008b,#00008b,#00008a,#00008a,#00008a,#00008a,#00008a,#00008a,#00008a,#00008a,#00008a,#00008a,#00008a,#00008a,#00008b,#00008b,#00008b,#00008b,#00008b,#00008c,#00008e,#000090,#000091,#000090,#00008e,#000090,#000096,#00009c,#0000a0,#00009f,#00009e,#0000a1,#0000aa,#ffffff)"></i>
<i style="background:linear-gradient(90deg,#ddf7ce,#b3e700,#f1e300,#ffc400,#ffd800,#d3e900,#b2e700,#8be100,#6adb01,#00d4bb,#00cf86,#10cb22,#09ca25,#00d08d,#0096f8,#007ff9,#00c82a,#00c9ea,#0014df,#0076fa,#00d3b7,#00d19c,#00d3ba,#00d5e2,#00bef2,#0096f8,#0077fa,#005ff6,#0084f9,#0084f9,#0066f7,#0065f7,#0039f0,#0012dd,#0006cf,#000cd6,#0035ef,#007afa,#00c2ef,#00caea,#0089f9,#0046f2,#0019e5,#0012dc,#001be8,#0072f9,#00cce8,#00d2aa,#00d092,#00d2a4,#00d6d6,#00abf6,#0043f1,#000ed8,#0000be,#0000a5,#00009a,#000095,#000098,#000ad3,#002bed,#0000ad,#000095,#0000a2,#0000ad,#001ce9,#0000bb,#0014df,#0000bb,#000091,#00008d,#00008b,#00008c,#00008e,#00008d,#00008b,#00008b,#00008b,#00008b,#00008b,#00008b,#00008b,#00008a,#00008a,#00008a,#00008a,#00008a,#00008a,#00008a,#00008a,#00008a,#00008a,#00008a,#00008a,#00008a,#00008a,#00008a,#000089,#000089,#000089,#00008a,#00008a,#00008a,#00008a,#00008a,#00008a,#00008b,#00008c,#00008d,#00008d,#00008c,#00008d,#00008e,#ffffff)"></i>
<i style="background:linear-gradient(90deg,#e1f8cc,#c6eb00,#fce200,#ffbb00,#ffcc00,#e0e700,#c7eb00,#9ce400,#79de00,#00d19f,#00cd69,#27cf1a,#1fce1d,#00ce72,#00b0f6,#0098f8,#14cc21,#00d3e4,#001be7,#008cf8,#00d19f,#00cf80,#00d1a3,#00d6d1,#00c7ec,#00a8f6,#0086f9,#0073f9,#0099f7,#009af7,#0083f9,#0084f9,#0058f5,#0019e6,#000bd5,#0011dc,#004cf3,#0091f8,#00d2e5,#00d6d1,#00bff1,#00a1f7,#00a2f7,#00cce8,#00cf89,#00c931,#00ca45,#00d4c4,#0084f9,#0019e5,#0007d0,#0002ca,#0001c9,#0000c0,#0000ac,#00009a,#000091,#00008e,#000093,#0007d0,#0023ec,#0000aa,#000096,#00009d,#0000ab,#001ce8,#0000b8,#000bd4,#0000b1,#00008f,#00008c,#00008b,#00008b,#00008c,#00008c,#00008b,#00008b,#00008b,#00008b,#00008b,#00008b,#00008b,#00008a,#00008a,#00008a,#00008a,#00008a,#00008a,#00008a,#00008a,#00008a,#00008a,#00008a,#00008a,#000089,#000089,#000089,#000089,#000089,#000089,#000089,#000089,#000089,#000089,#000089,#000089,#000089,#000089,#000089,#000089,#000089,#000089,#000089,#ffffff)"></i>
<i style="background:linear-gradient(90deg,#e7f9cc,#d9e800,#ffcd00,#ffa900,#ffb800,#f4e300,#dbe800,#bae900,#94e200,#00cd6d,#00ca3c,#4ad60d,#43d40f,#00ca44,#00cbe9,#00c0f0,#3ed312,#00d4c0,#0057f5,#00c2ef,#00cc58,#00c938,#00cc62,#00d19c,#00d5cd,#00cce8,#00bdf3,#00aff6,#00c6ec,#00c6ed,#00bbf4,#00bef2,#00a3f7,#0064f7,#002eee,#0037ef,#008ff8,#00cbe9,#00cd68,#27cf1a,#1ccd1e,#00c829,#00ca43,#00cc5f,#00d1a3,#00c1f0,#006df8,#001ae6,#0000bd,#0000aa,#0000ab,#0000b6,#0000bf,#0000bb,#0000aa,#00009a,#000092,#00008f,#000093,#0007d0,#0022ec,#0000ab,#00009d,#00009f,#0000aa,#001be7,#0000b4,#0000c8,#0000a6,#00008d,#00008c,#00008b,#00008b,#00008b,#00008b,#00008b,#00008b,#00008b,#00008b,#00008b,#00008b,#00008b,#00008a,#00008a,#00008a,#00008a,#00008a,#00008a,#00008a,#00008a,#00008a,#00008a,#00008a,#00008a,#000089,#000089,#000089,#000089,#000089,#000089,#000089,#000089,#000089,#000089,#000089,#000089,#000088,#000088,#000088,#000088,#000088,#000088,#000088,#ffffff)"></i>
<i style="background:linear-gradient(90deg,#effacc,#f3e300,#ffab00,#ff8800,#ff9900,#ffcc00,#f6e300,#dbe800,#bee900,#01c828,#25cf1b,#7bde00,#77de00,#25cf1b,#00d3b8,#00d5ce,#7cde00,#00ce74,#00b9f5,#00d2a7,#40d411,#5ad807,#2fd117,#00c932,#00cd6a,#00d096,#00d3b3,#00d4c4,#00d2a4,#00d2ac,#00d4c0,#00d3b1,#00d5c7,#00c8eb,#00a2f7,#0099f7,#00caea,#00d2a5,#3ed311,#92e200,#43d410,#00cf7e,#00c8eb,#0074f9,#0021ec,#0010da,#001be7,#001ae6,#0000c7,#0000bd,#0000c5,#0005cd,#0008d1,#0003cc,#0000b8,#0000a5,#00009c,#000098,#00009a,#0009d2,#0026ec,#0000b0,#0000ae,#0000ac,#0000ab,#001ae6,#0000b1,#0000b4,#00009d,#00008d,#00008c,#00008b,#00008b,#00008b,#00008b,#00008b,#00008b,#00008b,#00008b,#00008b,#00008b,#00008b,#00008a,#00008a,#00008a,#00008a,#00008a,#00008a,#00008a,#00008a,#00008a,#00008a,#00008a,#00008a,#000089,#000089,#000089,#000089,#000089,#000089,#000089,#000089,#000089,#000089,#000089,#000089,#000088,#000088,#000088,#000088,#000088,#000088,#000088,#ffffff)"></i>
<i style="background:linear-gradient(90deg,#edfacc,#efe400,#ffb200,#ff9800,#ffa100,#ffce00,#f3e300,#d3e900,#ace600,#00c932,#1dcd1d,#73dd00,#6bdc01,#10cb22,#00d5d0,#00d5e2,#63da04,#00d1a3,#0071f9,#00d0e6,#00c930,#17cc1f,#00c93b,#00ce7b,#00d3b5,#00d6e2,#00c4ee,#00bbf3,#00d4e3,#00d6e2,#00cde8,#00d1e5,#00bef1,#007dfa,#003af0,#003ff1,#009af7,#00cbe9,#00d096,#00ce72,#00d6d4,#00aef6,#0062f6,#002ced,#002dee,#0057f4,#00bbf4,#00cce9,#009ef7,#0092f8,#00a5f7,#00baf5,#00aaf6,#006cf8,#001be8,#000bd5,#0005ce,#0000c5,#0000b9,#0011dc,#0038ef,#0000bf,#0003cc,#0000c7,#0000b3,#001ae6,#0000b1,#0000a7,#000099,#00008e,#00008d,#00008c,#00008c,#00008c,#00008c,#00008b,#00008b,#00008b,#00008b,#00008b,#00008b,#00008b,#00008a,#00008a,#00008a,#00008a,#00008a,#00008a,#00008a,#00008a,#00008a,#00008a,#00008a,#00008a,#000089,#000089,#000089,#000089,#000089,#000089,#000089,#000089,#000089,#000089,#000089,#000089,#000088,#000088,#000088,#000088,#000088,#000088,#000088,#ffffff)"></i>
<i style="background:linear-gradient(90deg,#eefacc,#f2e300,#ffaf00,#ff9a00,#ff9f00,#ffc600,#f7e200,#d3e900,#a9e600,#00c82b,#24cf1b,#78de00,#6ddc00,#0fcb23,#00d6d3,#00d3e3,#5ed906,#00d3b1,#0047f2,#00c0f0,#00cb50,#00c829,#00cc57,#00d198,#00d5d0,#00c5ed,#00a6f6,#0093f8,#00c6ed,#00cce9,#00c3ee,#00c6ec,#00a4f7,#0048f2,#0017e2,#001dea,#008ef8,#00c4ee,#00d3b3,#00d08c,#00d5cd,#00d1e5,#00cde8,#00d6db,#00d08c,#14cc21,#8fe100,#96e300,#1bcd1e,#00cb4d,#00c932,#28cf19,#1bcd1e,#00ce79,#00d5e2,#00c6ec,#00d0e5,#00cae9,#009ef7,#0095f8,#00a7f6,#0034ef,#0057f4,#002fee,#0009d3,#0029ed,#0000c0,#0000ac,#0000a2,#000098,#000093,#000090,#000090,#00008f,#00008f,#00008d,#00008c,#00008c,#00008c,#00008b,#00008b,#00008b,#00008b,#00008a,#00008a,#00008a,#00008a,#00008a,#00008a,#00008a,#00008a,#00008a,#00008a,#00008a,#000089,#000089,#000089,#000089,#000089,#000089,#000089,#000089,#000089,#000089,#000089,#000089,#000088,#000088,#000088,#000088,#000088,#000088,#000088,#ffffff)"></i>
<i style="background:linear-gradient(90deg,#f1facc,#fbe200,#ffa400,#ff9200,#ff9500,#ffb700,#ffde00,#dbe800,#b1e700,#11cb22,#36d214,#85e000,#7ade00,#1dcd1d,#00d4c5,#00d6da,#6bdb01,#00d2a9,#004bf3,#00c4ee,#00ca45,#0aca24,#00cb4d,#00d08f,#00d5cb,#00c6ec,#00a7f6,#0094f8,#00c9ea,#00d1e5,#00caea,#00cee7,#00b1f6,#0055f4,#001ce9,#003bf0,#00b4f5,#00d6d5,#00cc59,#42d410,#6cdc01,#8ae100,#6cdc01,#1acd1f,#00cb52,#00cf7d,#00ce71,#00d2a7,#00b1f6,#0080f9,#0088f9,#00a7f6,#00b4f5,#0097f8,#006cf8,#007afa,#00bcf3,#00d6db,#00d6d8,#00d4c4,#00d096,#00d3b3,#00cc5b,#00cf81,#00cce9,#00c1f0,#0054f4,#0020eb,#0013de,#0004cd,#0000b4,#0000a4,#0000a0,#0000a0,#00009c,#000096,#000090,#00008f,#000090,#000090,#00008e,#00008d,#00008c,#00008b,#00008b,#00008b,#00008b,#00008a,#00008a,#00008a,#00008a,#00008a,#00008a,#00008a,#000089,#000089,#000089,#000089,#000089,#000089,#000089,#000089,#000089,#000089,#000089,#000089,#000088,#000088,#000088,#000088,#000088,#000088,#000088,#ffffff)"></i>
<i style="background:linear-gradient(90deg,#f3fbcc,#ffdb00,#ff9900,#ff8800,#ff8700,#ffa700,#ffcf00,#e2e600,#bae900,#24ce1b,#47d50e,#92e200,#86e000,#2cd018,#00d3b6,#00d5cc,#77de00,#00d19d,#0054f4,#00c9ea,#00c936,#18cc1f,#00ca3e,#00cf83,#00d4c2,#00caea,#00adf6,#009bf7,#00d1e5,#00d6d9,#00d6e2,#00d6d8,#00c4ee,#0086f9,#007afa,#00c6ec,#00cc56,#53d70a,#cbea00,#fbe200,#d3e900,#4ed60c,#00d2ac,#0094f8,#0032ee,#0013de,#001eeb,#001be7,#0000bf,#0000b1,#0000b9,#0001c9,#0007d0,#0004cd,#0000c0,#0000b6,#0000bf,#0004cd,#000bd5,#0045f2,#009df7,#007efa,#00d0e6,#00d6d2,#00c9eb,#00d6e2,#00c2ef,#00cce8,#00d4e3,#00c1f0,#0079fa,#0029ed,#001dea,#0020eb,#0014e0,#0001c9,#0000aa,#0000a1,#0000a3,#0000a2,#00009c,#000094,#000091,#000091,#000091,#000090,#00008e,#00008c,#00008c,#00008b,#00008b,#00008b,#00008a,#00008a,#00008a,#00008a,#000089,#000089,#000089,#000089,#000089,#000089,#000089,#000089,#000089,#000089,#000088,#000088,#000088,#000088,#000088,#000088,#000088,#ffffff)"></i>
<i style="background:linear-gradient(90deg,#f5fbcc,#ffd000,#ff8c00,#fe7e00,#fe7900,#ff9900,#ffc100,#e9e500,#c2ea00,#34d115,#56d809,#9de400,#91e200,#39d213,#00d2a9,#00d4bf,#81df00,#00d092,#005df6,#00cee7,#00c828,#25cf1a,#00c930,#00ce76,#00d3b9,#00cfe6,#00b7f5,#00a8f6,#00d6d6,#00d3b7,#00d3b0,#00d08b,#00d197,#00d090,#04c927,#74dd00,#a2e500,#7bde00,#63da04,#3ad313,#00cf80,#00c9ea,#0065f7,#0013de,#0003cc,#0000ba,#0002ca,#0000c8,#00009c,#000095,#00009b,#0000aa,#0000b7,#0000b7,#0000a9,#00009c,#000098,#00009a,#0000a0,#000bd5,#002fee,#0000c7,#0011dc,#0012dc,#0003cc,#0015e1,#000cd6,#0017e2,#003ff1,#005ff6,#0052f4,#0043f1,#0077fa,#00baf4,#00c4ee,#008df8,#0022ec,#0017e3,#0030ee,#0037ef,#0015e0,#0000c8,#0000b0,#0000ac,#0000ab,#0000a4,#00009c,#000095,#000093,#000092,#000091,#00008f,#00008d,#00008c,#00008b,#00008b,#00008b,#00008a,#00008a,#000089,#000089,#000089,#000089,#000089,#000089,#000089,#000089,#000088,#000088,#000088,#000088,#000088,#000088,#ffffff)"></i>
<i style="background:linear-gradient(90deg,#f6fbcc,#ffc600,#fe8000,#fe7600,#fe6e00,#ff8800,#ffb500,#efe400,#c8eb00,#41d410,#62da04,#a6e500,#99e300,#43d410,#00d19e,#00d3b5,#89e000,#00d08a,#0065f7,#00d3e4,#0bca24,#31d116,#05c926,#00cd68,#00d2ab,#00d7e0,#00c3ef,#00c2ef,#00cf88,#1ccd1e,#73dd00,#9ee400,#77dd00,#32d116,#00ca3c,#00d090,#00d1a3,#00d3b2,#00d095,#00cf81,#00d6d5,#00a9f6,#003ef0,#000bd5,#0000c3,#0000ae,#0000b4,#0000af,#000095,#000090,#000096,#0000a2,#0000af,#0000af,#0000a3,#000097,#000090,#00008f,#000094,#0005ce,#001ce8,#0000b0,#0000bd,#0000b9,#0000a0,#0000b8,#0000a1,#00009e,#0000a4,#0000a8,#0000a9,#0000ab,#0000bb,#0009d3,#0017e3,#0017e3,#000ed8,#0014df,#0063f7,#00aef6,#00a7f6,#0062f6,#002fee,#0043f1,#005df5,#0043f1,#0016e1,#0004cd,#0000be,#0000b7,#0000b1,#0000a6,#00009a,#000093,#000092,#000093,#000092,#00008f,#00008c,#00008b,#00008c,#00008c,#00008b,#00008a,#000089,#000089,#000089,#000089,#000089,#000089,#000088,#000088,#000088,#ffffff)"></i>
<i style="background:linear-gradient(90deg,#f7facc,#ffbf00,#fe7600,#fe6f00,#fe6300,#fe7800,#ffab00,#f3e300,#cbeb00,#49d50d,#6adb01,#ace600,#9fe400,#4ad60d,#00d095,#00d2ae,#8fe100,#00cf83,#006df8,#00d7e1,#16cc20,#3fd311,#14cc21,#00cb4f,#00cf87,#00d2ac,#00d2ac,#00cc5a,#a2e500,#eee400,#d2e900,#71dd00,#00cc5b,#00cbe9,#007afa,#006df8,#00c0f1,#00d5e2,#00d3b9,#00d199,#00d7de,#00a3f7,#0039ef,#000ad3,#0000c1,#0000ac,#0000a9,#0000a2,#000093,#00008f,#000094,#00009f,#0000aa,#0000aa,#0000a0,#000095,#00008f,#00008d,#000091,#0002ca,#0016e2,#0000a8,#0000a4,#0000a1,#000094,#0000a2,#000094,#000090,#000091,#000092,#000091,#000091,#000094,#000099,#00009d,#00009d,#00009a,#00009e,#0000b2,#0003cb,#0009d3,#0008d1,#0009d3,#001be8,#006bf8,#0094f8,#0088f9,#0064f7,#0057f5,#006ef8,#0076fa,#0049f2,#0013de,#0000c8,#0000bf,#0000c2,#0000bc,#0000a9,#000098,#000093,#000095,#000097,#000094,#000090,#00008d,#00008d,#00008d,#00008d,#00008c,#00008b,#00008a,#00008a,#00008a,#ffffff)"></i>
<i style="background:linear-gradient(90deg,#f8facc,#ffba00,#fe6f00,#fe6a00,#fd5b00,#fe6c00,#ffa300,#f6e300,#ccea00,#4ed60c,#6edc00,#b0e700,#a3e500,#4fd60b,#00d08f,#00d2a8,#94e200,#00ce7a,#007bfa,#00d6d3,#29cf19,#59d808,#40d411,#34d215,#51d70a,#75dd00,#6cdc01,#4cd60c,#75dd00,#3bd313,#00cb53,#00cf84,#00d6d6,#008df8,#002eee,#0041f1,#00b8f5,#00d1e5,#00d4c0,#00d19e,#00d7dc,#00a5f7,#003af0,#000ad4,#0000c1,#0000ac,#0000a5,#00009d,#000092,#00008f,#000093,#00009b,#0000a4,#0000a4,#00009c,#000093,#00008e,#00008d,#000090,#0000c4,#0010db,#0000a3,#000097,#000095,#00008f,#000097,#00008f,#00008c,#00008c,#00008c,#00008c,#00008c,#00008d,#00008e,#00008f,#00008f,#00008e,#00008f,#000092,#000096,#000098,#000097,#000098,#00009f,#0000af,#0000bf,#0000c8,#0003cb,#000bd4,#001dea,#005ef6,#007bfa,#0059f5,#002aed,#003af0,#007cfa,#008bf9,#0047f2,#000bd4,#0000c6,#0007d0,#000cd6,#0004cd,#0000b2,#0000a1,#00009f,#0000a2,#0000a0,#00009a,#000094,#000091,#000091,#000091,#ffffff)"></i>
<i style="background:linear-gradient(90deg,#f8facc,#ffb700,#fe6a00,#fe6400,#fd5400,#fe6200,#ff9d00,#f7e200,#cdea00,#4fd60b,#70dc00,#b2e700,#a7e500,#56d809,#00cf85,#00d19d,#9fe400,#00cd63,#00a0f7,#00d19d,#7bde00,#cbeb00,#e2e600,#f8e200,#ece400,#89e100,#00cb55,#00d5c6,#00d08f,#00d08c,#00d2a7,#00d2a6,#00d6e1,#0082f9,#001feb,#0039f0,#00b6f5,#00d1e5,#00d4c3,#00d19f,#00d6da,#00a8f6,#003cf0,#000ad4,#0000c2,#0000ac,#0000a3,#00009a,#000092,#00008e,#000091,#000097,#00009d,#00009e,#000098,#000091,#00008e,#00008d,#000090,#0000b8,#0007d1,#00009e,#000090,#00008f,#00008e,#000092,#00008d,#00008c,#00008c,#00008c,#00008c,#00008b,#00008b,#00008c,#00008c,#00008c,#00008b,#00008b,#00008c,#00008d,#00008d,#00008d,#00008d,#00008f,#000091,#000094,#000094,#000095,#000097,#00009f,#0000aa,#0000b4,#0000b7,#0000b7,#0000c9,#0014e0,#0039f0,#0032ee,#0011dc,#000dd7,#003ef0,#0094f8,#0091f8,#0043f1,#0015e0,#0018e4,#0030ee,#002eee,#0015e1,#0006cf,#0000c4,#0000c1,#0000c0,#ffffff)"></i>
<i style="background:linear-gradient(90deg,#f8facc,#ffb400,#fd5a00,#fd4c00,#fd4200,#fd5a00,#ff9900,#f8e200,#cdea00,#4ed60c,#71dd00,#b9e800,#b5e800,#73dd00,#00cb53,#00cc58,#d9e800,#50d70b,#00cd63,#84e000,#ffd000,#ffbc00,#f3e300,#a9e600,#23ce1b,#00d19a,#00cee7,#00bff1,#00d3b8,#00d2a4,#00d3b4,#00d2ad,#00d5e2,#0080f9,#001dea,#0039f0,#00b6f5,#00d1e5,#00d5c6,#00d1a2,#00d6da,#00a8f6,#003cf0,#000ad4,#0000c2,#0000ac,#0000a2,#000099,#000092,#00008e,#000090,#000094,#000098,#000098,#000094,#000090,#00008d,#00008d,#00008f,#0000ac,#0000c4,#000098,#00008e,#00008d,#00008d,#00008f,#00008d,#00008c,#00008c,#00008c,#00008b,#00008b,#00008b,#00008b,#00008b,#00008b,#00008b,#00008b,#00008b,#00008b,#00008b,#00008b,#00008b,#00008b,#00008b,#00008c,#00008c,#00008c,#00008d,#00008e,#000090,#000092,#000091,#000091,#000093,#00009b,#0000a2,#0000a3,#00009e,#00009f,#0000b6,#0009d2,#0012dd,#000dd7,#0009d2,#0016e1,#0055f4,#0086f9,#007efa,#0057f4,#0048f2,#0066f7,#0085f9,#ffffff)"></i>
<i style="background:linear-gradient(90deg,#f8facc,#ffa100,#f41800,#e90600,#ee0c00,#fd4100,#ff8f00,#ffe100,#dce700,#71dd00,#9ce400,#ece500,#ffda00,#f0e400,#97e300,#90e200,#ff9800,#d5e900,#30d117,#65da03,#b3e800,#96e300,#49d50d,#00c933,#00d08c,#00d6d4,#00c2ef,#00b8f5,#00d4c0,#00d2ab,#00d3b8,#00d3b1,#00d5e2,#0080f9,#001dea,#003bf0,#00b3f5,#00cfe7,#00d5cc,#00d2aa,#00d7de,#00a5f7,#003af0,#000ad3,#0000c1,#0000ac,#0000a2,#000099,#000092,#00008e,#00008f,#000091,#000093,#000094,#000093,#00008f,#00008d,#00008d,#00008f,#0000a1,#0000b0,#000094,#00008d,#00008c,#00008c,#00008d,#00008c,#00008c,#00008c,#00008c,#00008b,#00008b,#00008b,#00008b,#00008b,#00008b,#00008b,#00008b,#00008b,#00008b,#00008b,#00008b,#00008a,#00008a,#00008a,#00008a,#00008a,#00008a,#00008a,#00008b,#00008b,#00008b,#00008b,#00008b,#00008b,#00008d,#00008e,#00008e,#00008d,#00008d,#000090,#000096,#000099,#000097,#000096,#00009d,#0000ac,#0000bb,#0000c1,#0000c2,#0001c9,#000bd5,#0019e5,#ffffff)"></i>
<i style="background:linear-gradient(90deg,#f9facc,#fe7a00,#be0000,#be0000,#be0000,#f21200,#fd5500,#ffa200,#ffc100,#c9eb00,#dce700,#ffc300,#ffb900,#e8e500,#4bd60d,#0cca24,#d7e800,#0dca23,#00c4ee,#00d3b1,#2cd018,#45d40f,#17cc20,#00cb54,#00d19d,#00d6da,#00c1f0,#00baf5,#00d4be,#00d2a8,#00d3b7,#00d3b2,#00d6e2,#0083f9,#0021ec,#0041f1,#00b2f6,#00cce8,#00d6d3,#00d3b3,#00d5e2,#00a1f7,#0037ef,#0009d3,#0000c1,#0000ab,#0000a2,#000099,#000091,#00008d,#00008e,#00008f,#000090,#000093,#000096,#00008f,#00008d,#00008d,#000091,#00009a,#0000a1,#000091,#00008c,#00008c,#00008c,#00008d,#00008c,#00008c,#00008c,#00008c,#00008b,#00008b,#00008b,#00008b,#00008b,#00008b,#00008b,#00008b,#00008b,#00008b,#00008b,#00008b,#00008a,#00008a,#00008a,#00008a,#00008a,#00008a,#00008a,#00008a,#00008a,#00008a,#00008a,#00008a,#00008a,#00008a,#00008a,#00008a,#00008a,#00008a,#00008a,#00008c,#00008c,#00008c,#00008b,#00008c,#00008f,#000091,#000092,#000091,#000092,#000096,#00009b,#ffffff)"></i>
<i style="background:linear-gradient(90deg,#fafacc,#fe7400,#be0000,#be0000,#be0000,#f31700,#fd5d00,#ffb900,#f9e200,#7edf00,#95e200,#d3e900,#caeb00,#79de00,#00cc5f,#00ce78,#b6e800,#00c93b,#00c3ee,#00d1a1,#49d50e,#6fdc00,#51d70b,#1ccd1e,#00cb52,#00d1a1,#00d6d7,#00d5e2,#00cf82,#00cd68,#00cf82,#00d08a,#00d5c6,#00a3f7,#0048f2,#0064f7,#00bcf3,#00cfe6,#00d6d4,#00d3b8,#00d4e3,#009ff7,#0038ef,#000ad4,#0000c3,#0000ad,#0000a2,#000099,#000092,#00008e,#00008e,#00008f,#00008f,#000095,#00009f,#000091,#00008d,#00008e,#000096,#000097,#000098,#00008f,#00008c,#00008c,#00008c,#00008c,#00008c,#00008c,#00008c,#00008d,#00008c,#00008b,#00008b,#00008b,#00008b,#00008b,#00008b,#00008b,#00008b,#00008b,#00008b,#00008b,#00008a,#00008a,#00008a,#00008a,#00008a,#00008a,#00008a,#00008a,#00008a,#00008a,#00008a,#00008a,#000089,#000089,#000089,#000089,#000089,#000089,#000089,#000089,#000089,#000089,#000089,#000089,#00008a,#00008a,#00008a,#00008a,#00008a,#00008b,#00008c,#ffffff)"></i>
<i style="background:linear-gradient(90deg,#f6fbcc,#ffbb00,#fc3b00,#ee0c00,#f41a00,#fd5f00,#ff9e00,#f2e300,#d2e900,#36d214,#65da03,#b0e700,#a5e500,#55d709,#00cf80,#00d091,#a7e500,#00cb49,#00c2ef,#00d2a6,#43d410,#6bdc01,#53d70a,#24cf1b,#00ca41,#00cf87,#00d3b5,#00d2ae,#09ca25,#40d411,#3ed311,#38d213,#02c827,#00d199,#00d6da,#00d5cb,#00d198,#00d094,#00d198,#00d093,#00d5d0,#00b4f5,#0052f4,#0012dd,#0004cc,#0000b7,#0000a9,#00009e,#000097,#000093,#000092,#000091,#000090,#00009c,#0000b1,#000097,#00008e,#000091,#0000a3,#00009b,#000093,#00008e,#00008c,#00008c,#00008c,#00008c,#00008c,#00008c,#00008d,#00008f,#00008c,#00008b,#00008b,#00008b,#00008b,#00008b,#00008b,#00008b,#00008b,#00008b,#00008b,#00008b,#00008a,#00008a,#00008a,#00008a,#00008a,#00008a,#00008a,#00008a,#00008a,#00008a,#00008a,#00008a,#000089,#000089,#000089,#000089,#000089,#000089,#000089,#000089,#000089,#000089,#000089,#000089,#000089,#000089,#000088,#000088,#000088,#000088,#000088,#ffffff)"></i>
<i style="background:linear-gradient(90deg,#eefacc,#f1e300,#ffa600,#fe7700,#fe7300,#ff9e00,#ffc900,#cdea00,#93e200,#00cd69,#00c934,#51d70a,#47d50e,#00ca44,#00cbe9,#00c0f0,#3cd312,#00d5c6,#0053f4,#00c2ef,#00cb53,#00c92f,#00cb52,#00cf89,#00d4be,#00d1e5,#00bff1,#00bef1,#00d2ae,#00cf81,#00cf7d,#00cd6a,#00cf82,#00d5c7,#00d7dd,#00d094,#0bca24,#37d214,#43d410,#41d410,#01c828,#00cf89,#00d5e2,#009cf7,#004df3,#0013df,#0003cc,#0000ba,#0000af,#0000a8,#0000a4,#00009e,#000099,#0000ab,#0003cc,#0000a2,#000092,#000099,#0000bb,#0000a4,#000092,#00008e,#00008d,#00008d,#00008c,#00008c,#00008c,#00008c,#00008f,#000095,#00008e,#00008b,#00008b,#00008b,#00008b,#00008b,#00008b,#00008b,#00008b,#00008b,#00008b,#00008b,#00008a,#00008a,#00008a,#00008a,#00008a,#00008a,#00008a,#00008a,#00008a,#00008a,#00008a,#00008a,#000089,#000089,#000089,#000089,#000089,#000089,#000089,#000089,#000089,#000089,#000089,#000089,#000088,#000088,#000088,#000088,#000088,#000088,#000088,#ffffff)"></i>
<i style="background:linear-gradient(90deg,#e9f9cc,#dee700,#ffc400,#ff9800,#ff9300,#ffb500,#ffdf00,#b2e700,#75dd00,#00d2a8,#00ce71,#21ce1c,#18cc1f,#00ce7a,#00a8f6,#0091f8,#0eca23,#00d1e5,#0027ec,#00a7f6,#00cf7f,#00cc60,#00cf82,#00d3b4,#00d7e0,#00c1f0,#00a4f7,#009cf7,#00d5e2,#00d6d5,#00d4e3,#00d5e2,#00c7ec,#007dfa,#0035ef,#0076fa,#00c6ec,#00d5c9,#00d094,#00cc5b,#00cc60,#00ce75,#00cf87,#00d096,#00d3b3,#00d0e6,#00a6f6,#007bfa,#0066f7,#0057f4,#0034ef,#0014df,#0005ce,#0009d3,#001eeb,#0000c7,#0000ab,#0000b0,#000bd5,#0000b9,#000098,#000094,#000092,#000091,#00008f,#00008e,#00008d,#00008d,#000095,#0000a3,#000091,#00008c,#00008b,#00008b,#00008b,#00008b,#00008b,#00008b,#00008b,#00008b,#00008b,#00008b,#00008a,#00008a,#00008a,#00008a,#00008a,#00008a,#00008a,#00008a,#00008a,#00008a,#00008a,#00008a,#000089,#000089,#000089,#000089,#000089,#000089,#000089,#000089,#000089,#000089,#000089,#000089,#000088,#000088,#000088,#000088,#000088,#000088,#000088,#ffffff)"></i>
<i style="background:linear-gradient(90deg,#e5f9cc,#d1e900,#ffd500,#ffa200,#ffa000,#ffc600,#f4e300,#9ee400,#5fd905,#00d5cd,#00d199,#01c828,#00c92f,#00d19e,#0085f9,#006bf8,#00c93a,#00c5ed,#001ae6,#0091f8,#00d19b,#00cf7f,#00d19d,#00d5c7,#00cfe6,#00baf4,#0098f8,#0090f8,#00cbe9,#00d1e5,#00c5ed,#00c5ed,#00b6f5,#0053f4,#0014e0,#002fee,#0086f9,#00abf6,#00c2ef,#00d1e5,#00c4ed,#00a0f7,#0075f9,#0061f6,#0071f9,#0077fa,#0079fa,#0086f9,#00aff6,#00cee7,#00d7dc,#00cfe6,#00baf4,#00bcf3,#00d5e2,#00a5f7,#0073f9,#0059f5,#0084f9,#001eeb,#0001c9,#0000b4,#0000aa,#0000a3,#00009d,#000097,#000093,#000091,#0000a0,#0000bb,#000098,#00008d,#00008c,#00008c,#00008b,#00008b,#00008b,#00008b,#00008b,#00008b,#00008b,#00008b,#00008a,#00008a,#00008a,#00008a,#00008a,#00008a,#00008a,#00008a,#00008a,#00008a,#00008a,#00008a,#000089,#000089,#000089,#000089,#000089,#000089,#000089,#000089,#000089,#000089,#000089,#000089,#000088,#000088,#000088,#000088,#000088,#000088,#000088,#ffffff)"></i>
<i style="background:linear-gradient(90deg,#e2f8cc,#c3ea00,#fde100,#ffaa00,#ffaa00,#ffd500,#eae500,#8ce100,#4cd60c,#00d1e5,#00d3b9,#00ca47,#00cb4d,#00d3b9,#0061f6,#0042f1,#00cc57,#00bbf4,#0015e0,#0080f9,#00d3b0,#00d198,#00d3b1,#00d6d7,#00c8eb,#00b0f6,#008ff8,#0088f9,#00c5ed,#00c9ea,#00bcf3,#00bbf4,#00a5f7,#0041f1,#000fda,#001eeb,#006df8,#0090f8,#00acf6,#00bff1,#00a8f6,#006bf8,#001ce9,#000ad4,#0003cb,#0000c1,#0000bc,#0000bd,#0000c9,#000bd5,#0019e5,#002eee,#0045f2,#0089f9,#00cfe7,#00c5ed,#00d0e5,#00d5c6,#00cf87,#00d7dc,#00a0f7,#0078fa,#0056f4,#0030ee,#0013de,#0002cb,#0000b1,#0000a3,#0000b8,#000bd5,#0000a9,#000095,#000091,#00008e,#00008d,#00008d,#00008d,#00008c,#00008c,#00008b,#00008b,#00008b,#00008b,#00008a,#00008a,#00008a,#00008a,#00008a,#00008a,#00008a,#00008a,#00008a,#00008a,#00008a,#000089,#000089,#000089,#000089,#000089,#000089,#000089,#000089,#000089,#000089,#000089,#000089,#000089,#000088,#000088,#000088,#000088,#000088,#000088,#ffffff)"></i>
<i style="background:linear-gradient(90deg,#def7cd,#b2e700,#f4e300,#ffb100,#ffb300,#fee100,#e0e700,#7cde00,#3cd312,#00c2ef,#00d6d2,#00cc62,#00cd67,#00d5cf,#003ef0,#0020eb,#00cd6f,#00acf6,#0011db,#006ef8,#00d4c1,#00d2ad,#00d4c1,#00d5e2,#00c2ef,#00a6f6,#0088f9,#0082f9,#00c0f0,#00c3ee,#00b1f6,#00abf6,#0098f8,#0036ef,#000dd7,#001be8,#005cf5,#0080f9,#009af7,#00b2f6,#0096f8,#0054f4,#0015e1,#0003cb,#0000ba,#0000ab,#0000a3,#00009d,#00009a,#00009c,#0000a0,#0000a3,#0000a6,#0000c6,#0019e6,#0007d0,#000ad4,#0022ec,#0096f8,#0071f9,#0048f2,#0066f7,#0095f8,#00bbf4,#00c0f1,#00a4f7,#0064f7,#002aed,#0043f1,#007ff9,#0017e2,#0000c7,#0000aa,#00009a,#000094,#000093,#000094,#000093,#000091,#00008e,#00008d,#00008c,#00008c,#00008c,#00008b,#00008b,#00008a,#00008a,#00008a,#00008a,#00008a,#00008a,#00008a,#00008a,#000089,#000089,#000089,#000089,#000089,#000089,#000089,#000089,#000089,#000089,#000089,#00008a,#000089,#000088,#000088,#000088,#000088,#000088,#000088,#ffffff)"></i>
<i style="background:linear-gradient(90deg,#dbf7ce,#a3e500,#ebe500,#ffb700,#ffbb00,#f4e300,#d7e800,#6edc00,#2ed017,#00b1f6,#00d3e3,#00ce7a,#00cf7d,#00d7e1,#0020eb,#0015e0,#00cf84,#009cf7,#000dd7,#005cf5,#00d5cf,#00d4bd,#00d5cf,#00cfe6,#00bdf2,#009df7,#0082f9,#007dfa,#00bbf4,#00bdf2,#00a3f7,#009cf7,#008df8,#002ced,#000bd5,#001ae6,#0050f3,#0074f9,#008df8,#00a3f7,#008af9,#0047f2,#0012dd,#0000c8,#0000b5,#0000a5,#00009d,#000096,#000092,#000090,#000091,#000091,#000092,#0000a5,#0001c9,#0000a3,#00009a,#0000aa,#000cd6,#0000c2,#0000a7,#0000ae,#0000bf,#0008d1,#0017e3,#0030ee,#004af2,#006ef8,#00bff1,#00d2ad,#00d7e1,#00aff6,#004af2,#000cd6,#0000c4,#0000be,#0000bd,#0000b4,#0000a8,#00009d,#000096,#000093,#000092,#000091,#000090,#00008e,#00008d,#00008c,#00008b,#00008b,#00008b,#00008a,#00008a,#00008a,#00008a,#000089,#000089,#000089,#000089,#000089,#000089,#000089,#000089,#000089,#00008a,#00008d,#00008a,#000088,#000088,#000088,#000088,#000088,#000088,#ffffff)"></i>
<i style="background:linear-gradient(90deg,#d8f6d0,#96e300,#e4e600,#ffbd00,#ffc300,#ece400,#cfea00,#60da05,#23ce1b,#009af7,#00caea,#00d08d,#00d08f,#00cfe7,#0017e2,#000dd7,#00d095,#0090f8,#000ad3,#004df3,#00d6db,#00d5ca,#00d6da,#00caea,#00b8f5,#0096f8,#007dfa,#0078fa,#00b4f5,#00b7f5,#0097f8,#008ff8,#0082f9,#0024ec,#0009d3,#0018e4,#0045f1,#0066f7,#0082f9,#0097f8,#0080f9,#003ef0,#0010db,#0000c7,#0000b3,#0000a4,#00009c,#000095,#000090,#00008d,#00008e,#00008e,#00008e,#000099,#0000ac,#000096,#00008f,#000098,#0000bb,#0000a5,#000092,#000093,#000095,#000099,#00009e,#0000a4,#0000ab,#0000bb,#0015e0,#0080f9,#0065f7,#0073f9,#0066f7,#0036ef,#0022ec,#004af2,#0080f9,#0084f9,#0051f4,#0016e2,#0004cd,#0000be,#0000b5,#0000ae,#0000a7,#00009e,#000097,#000093,#000090,#000090,#00008f,#00008e,#00008d,#00008b,#00008a,#00008a,#00008a,#00008a,#00008a,#000089,#000089,#000089,#000089,#000089,#00008c,#000096,#00008d,#000089,#000088,#000088,#000088,#000088,#000088,#ffffff)"></i>
<i style="background:linear-gradient(90deg,#d6f6d0,#8be100,#dee700,#ffc200,#ffc900,#e5e600,#c8eb00,#55d709,#1acd1f,#0088f9,#00c2ef,#00d19c,#00d19e,#00c8eb,#0010db,#0007d0,#00d1a3,#0085f9,#0007d1,#0040f1,#00d5e3,#00d6d6,#00d5e2,#00c5ed,#00b0f6,#0090f8,#0078fa,#0073f9,#00acf6,#00acf6,#008cf8,#0083f9,#0079fa,#001eeb,#0008d1,#0017e2,#003cf0,#005bf5,#0078fa,#008cf8,#0077fa,#0035ef,#000fd9,#0000c5,#0000b2,#0000a3,#00009b,#000094,#000090,#00008d,#00008d,#00008d,#00008d,#000092,#00009b,#000090,#00008d,#000091,#0000a3,#000097,#00008e,#00008d,#00008e,#00008f,#000090,#000091,#000091,#000093,#0000b1,#000bd5,#0000b4,#0000ac,#0000b1,#0000b2,#0000b9,#0007d1,#0026ec,#0074f9,#008cf8,#007dfa,#005cf5,#0054f4,#0063f7,#0069f8,#004ff3,#001dea,#000ad3,#0000be,#0000ad,#0000a8,#0000a5,#0000a0,#000099,#000092,#00008e,#00008d,#00008e,#00008e,#00008e,#00008c,#00008b,#00008a,#00008a,#00008a,#000091,#0000a6,#000093,#000089,#000089,#000088,#000088,#000088,#000088,#ffffff)"></i>
<i style="background:linear-gradient(90deg,#d4f5d1,#82df00,#d9e800,#ffc700,#ffd000,#dee700,#bde900,#4bd60d,#12cb21,#007afa,#00bcf3,#00d2a8,#00d2a9,#00c3ee,#000bd5,#0002ca,#00d2ae,#007dfa,#0005ce,#0036ef,#00d0e6,#00d7df,#00d1e5,#00c1f0,#00a9f6,#008af9,#0073f9,#0070f9,#00a5f7,#00a3f7,#0081f9,#0078fa,#006ef8,#001ce8,#0007d0,#0015e1,#0033ef,#0051f3,#006df8,#0083f9,#006cf8,#002dee,#000ed8,#0000c4,#0000b1,#0000a3,#00009b,#000094,#000090,#00008d,#00008d,#00008d,#00008d,#00008f,#000092,#00008e,#00008d,#00008e,#000096,#000091,#00008d,#00008c,#00008c,#00008c,#00008c,#00008d,#00008d,#00008d,#00009f,#0000bb,#00009a,#000092,#000092,#000092,#000092,#000097,#0000a1,#0000af,#0000bb,#0000c3,#0002ca,#000bd4,#001de9,#0062f6,#0092f8,#009cf7,#0083f9,#0053f4,#0036ef,#003af0,#0040f1,#0027ed,#000ed9,#0000bd,#0000a4,#00009e,#0000a1,#0000a2,#00009f,#000098,#000092,#00008f,#00008f,#00008f,#00009c,#0000c2,#00009f,#00008c,#00008a,#00008a,#00008a,#00008a,#000089,#ffffff)"></i>
<i style="background:linear-gradient(90deg,#d2f5d2,#7bde00,#d5e900,#ffcb00,#ffd500,#d8e800,#b4e800,#43d410,#0dca23,#006df8,#00b7f5,#00d3b0,#00d3b1,#00bff1,#0008d1,#0000c4,#00d3b5,#0077fa,#0004cd,#002eee,#00cce8,#00d4e3,#00cde7,#00bef2,#00a3f7,#0085f9,#0070f9,#0073f9,#00a0f7,#009af7,#0078fa,#006af8,#0065f7,#001be7,#0006cf,#0014df,#002bed,#0048f2,#0063f6,#007bfa,#0062f6,#0027ec,#000dd7,#0000c3,#0000b0,#0000a2,#00009a,#000094,#000090,#00008d,#00008d,#00008d,#00008d,#00008d,#00008e,#00008d,#00008d,#00008d,#000090,#00008e,#00008c,#00008c,#00008c,#00008c,#00008c,#00008c,#00008c,#00008c,#000095,#0000a3,#000091,#00008d,#00008d,#00008c,#00008d,#00008e,#000090,#000092,#000094,#000094,#000095,#000098,#00009f,#0000ac,#0000bd,#0002ca,#0007d0,#000ad3,#0010db,#002bed,#0079fa,#00a1f7,#0091f8,#0046f2,#0012dd,#000fd9,#001de9,#0037ef,#0024ec,#000ed9,#0000c2,#0000af,#0000ab,#0000ac,#0000bf,#0013df,#0000bb,#000098,#000093,#000091,#000091,#000091,#00008f,#ffffff)"></i>
<i style="background:linear-gradient(90deg,#d1f5d2,#74dd00,#d2e900,#ffce00,#ffdb00,#d2e900,#abe600,#3dd312,#09ca25,#0062f6,#00b0f6,#00d3b5,#00d3b6,#00bcf3,#0006cf,#0000c0,#00d3ba,#0072f9,#0003cc,#0029ed,#00c9ea,#00d1e5,#00cbe9,#00bbf4,#009ef7,#0081f9,#0071f9,#007efa,#009df7,#0092f8,#006bf8,#005ef6,#0060f6,#001ce9,#0005ce,#0012de,#0024ec,#003ff1,#005af5,#0072f9,#0059f5,#0020eb,#000cd6,#0000c5,#0000b0,#0000a2,#00009a,#000094,#000090,#00008d,#00008d,#00008d,#00008d,#00008d,#00008d,#00008d,#00008d,#00008d,#00008d,#00008d,#00008c,#00008c,#00008c,#00008c,#00008c,#00008c,#00008c,#00008c,#00008f,#000095,#00008e,#00008b,#00008b,#00008b,#00008b,#00008b,#00008c,#00008c,#00008c,#00008d,#00008d,#00008d,#00008f,#000091,#000093,#000095,#000096,#000097,#00009a,#0000a3,#0000b5,#0001c9,#0007d0,#0005ce,#0000c8,#0006cf,#0020eb,#007bfa,#009cf7,#0085f9,#0047f2,#0022ec,#0036ef,#0066f7,#0097f8,#00c4ee,#0069f8,#0013de,#0004cc,#0000c1,#0000bc,#0000b8,#0000b0,#ffffff)"></i>
<i style="background:linear-gradient(90deg,#d0f5d3,#6fdc00,#cfea00,#ffd100,#ffdf00,#cdea00,#a2e500,#38d214,#08c925,#005df5,#00adf6,#00d3b8,#00d3b9,#00bbf4,#0006cf,#0000c3,#00d3b8,#0077fa,#0006cf,#002ded,#00caea,#00d2e4,#00cbe9,#00bbf4,#009df7,#0081f9,#0079fa,#0092f8,#00a1f7,#008df8,#0062f6,#0054f4,#0063f6,#0029ed,#0006cf,#0011dc,#001eeb,#0038ef,#0052f4,#0069f8,#0051f3,#001dea,#000dd8,#0001c9,#0000b0,#0000a1,#00009a,#000094,#000090,#00008d,#00008d,#00008d,#00008d,#00008d,#00008d,#00008d,#00008d,#00008d,#00008d,#00008c,#00008c,#00008c,#00008c,#00008c,#00008c,#00008c,#00008c,#00008c,#00008d,#00008f,#00008c,#00008b,#00008b,#00008b,#00008b,#00008b,#00008b,#00008b,#00008b,#00008b,#00008b,#00008b,#00008b,#00008b,#00008c,#00008c,#00008d,#00008d,#00008d,#00008f,#000092,#000095,#000096,#000095,#000093,#000096,#0000a2,#0000b6,#0000c8,#0003cb,#0002ca,#0004cc,#0013de,#0055f4,#00baf4,#00d4bb,#00c7ec,#008af9,#0061f6,#005df6,#0077fa,#0085f9,#0077fa,#ffffff)"></i>
<i style="background:linear-gradient(90deg,#d0f5d3,#6fdc00,#cfea00,#ffd000,#ffdf00,#cbea00,#9fe400,#3ad313,#0dca23,#0064f7,#00b4f5,#00d3b3,#00d3b4,#00c1ef,#0012dd,#000ed9,#00d091,#00a3f7,#001ae6,#0060f6,#00d7dd,#00d5cd,#00d6db,#00c6ec,#00aef6,#0091f8,#0090f8,#00baf4,#00b3f5,#0092f8,#0064f7,#0055f4,#0074f9,#004af2,#0009d3,#0012dd,#001eeb,#0035ef,#004ef3,#0064f7,#004bf2,#001ce8,#0011dc,#0007d0,#0000b1,#0000a1,#00009a,#000094,#000090,#00008d,#00008d,#00008d,#00008d,#00008d,#00008d,#00008d,#00008d,#00008d,#00008c,#00008c,#00008c,#00008c,#00008c,#00008c,#00008c,#00008c,#00008c,#00008c,#00008c,#00008d,#00008c,#00008b,#00008b,#00008b,#00008b,#00008b,#00008b,#00008b,#00008b,#00008b,#00008b,#00008b,#00008a,#00008a,#00008a,#00008a,#00008a,#00008a,#00008a,#00008b,#00008b,#00008c,#00008c,#00008c,#00008b,#00008c,#00008e,#000091,#000094,#000094,#000093,#000094,#00009a,#0000a8,#0003cc,#0035ef,#000fda,#0001ca,#0002ca,#0009d2,#0017e2,#0037ef,#004df3,#ffffff)"></i>
<i style="background:linear-gradient(90deg,#d1f5d2,#74dd00,#d3e900,#ffc900,#ffd800,#ceea00,#a4e500,#46d50e,#1dcd1d,#0080f9,#00c2ef,#00d19d,#00d19c,#00d7df,#0067f7,#0088f9,#20ce1c,#00d2a6,#00c0f0,#00d6db,#00ca44,#0aca24,#00c82a,#00cd6f,#00d3b2,#00d5d0,#00d4c0,#00cf83,#00d2ae,#00d0e6,#00a7f6,#0090f8,#00b0f6,#0098f8,#001be8,#001dea,#0031ee,#0043f1,#0058f5,#006bf8,#0050f3,#001dea,#0018e4,#0010db,#0000b6,#0000a4,#00009c,#000095,#000090,#00008e,#00008d,#00008d,#00008d,#00008d,#00008d,#00008d,#00008d,#00008d,#00008c,#00008c,#00008c,#00008c,#00008c,#00008c,#00008c,#00008c,#00008c,#00008c,#00008c,#00008c,#00008b,#00008b,#00008b,#00008b,#00008b,#00008b,#00008b,#00008b,#00008b,#00008b,#00008b,#00008b,#00008a,#00008a,#00008a,#00008a,#00008a,#00008a,#00008a,#00008a,#00008a,#00008a,#00008a,#00008a,#00008a,#00008a,#00008a,#00008b,#00008b,#00008b,#00008b,#00008b,#00008c,#00008e,#0000a0,#0004cd,#0000a9,#000093,#000093,#000095,#00009a,#0000a1,#0000a5,#ffffff)"></i>
<i style="background:linear-gradient(90deg,#cef4d3,#64da04,#caeb00,#ffd700,#fae200,#bce900,#8fe200,#34d115,#0dca23,#0065f7,#00b7f5,#00d3b2,#00d3b2,#00c6ed,#001ce9,#0022ec,#00cd67,#00c8eb,#006bf8,#00b1f6,#00d08b,#00cb54,#00cb4a,#00ce74,#00d19d,#00d19f,#00cc58,#3fd311,#2ad019,#00cb49,#00d093,#00d198,#00cb50,#00cb53,#00d6d6,#00c8eb,#00bcf3,#00b3f5,#00b4f5,#00b5f5,#008ff8,#004ef3,#0043f1,#002ced,#0001c9,#0000b1,#0000a4,#00009a,#000094,#000090,#000090,#00008f,#00008e,#00008e,#00008d,#00008d,#00008d,#00008d,#00008c,#00008c,#00008c,#00008c,#00008c,#00008d,#00008e,#00008c,#00008c,#00008c,#00008c,#00008c,#00008b,#00008b,#00008b,#00008b,#00008b,#00008b,#00008b,#00008b,#00008b,#00008b,#00008b,#00008b,#00008a,#00008a,#00008a,#00008a,#00008a,#00008a,#00008a,#00008a,#00008a,#00008a,#00008a,#00008a,#000089,#000089,#000089,#000089,#000089,#000089,#000089,#000089,#000089,#00008a,#000093,#0000af,#000098,#00008b,#00008a,#00008b,#00008c,#00008d,#00008e,#ffffff)"></i>
<i style="background:linear-gradient(90deg,#ccf4d4,#59d808,#c3ea00,#ffe000,#f1e300,#abe600,#7fdf00,#27cf1a,#03c827,#0050f3,#00a7f6,#00d4c0,#00d4c2,#00b4f5,#0007d0,#0000c8,#00d4c0,#0073f9,#0008d2,#002dee,#00c7ec,#00d3e4,#00d0e6,#00bff1,#00aaf6,#009df7,#00b7f5,#00d6d9,#00d7e1,#00c7ec,#00baf4,#00c6ed,#00d2ae,#00cf87,#00d6d2,#00d6d1,#00d5c7,#00d3b4,#00d08c,#00cd6a,#00cf86,#00d5c7,#00d6db,#00caea,#0069f7,#001ce8,#0007d0,#0000b6,#0000a3,#00009d,#00009b,#000098,#000094,#000091,#000090,#00008f,#00008e,#00008d,#00008d,#00008d,#00008c,#00008c,#00008c,#00008f,#000092,#00008d,#00008c,#00008c,#00008c,#00008c,#00008b,#00008b,#00008b,#00008b,#00008b,#00008b,#00008b,#00008b,#00008b,#00008b,#00008b,#00008b,#00008a,#00008a,#00008a,#00008a,#00008a,#00008a,#00008a,#00008a,#00008a,#00008a,#00008a,#00008a,#000089,#000089,#000089,#000089,#000089,#000089,#000089,#000089,#000089,#000089,#00008d,#00009b,#00008f,#000089,#000089,#000089,#000089,#000089,#000089,#ffffff)"></i>
<i style="background:linear-gradient(90deg,#ccf4d6,#53d70a,#bfe900,#fde100,#ede400,#a1e400,#76dd00,#22ce1c,#01c828,#004df3,#00a5f7,#00d4c3,#00d4c5,#00adf6,#0004cd,#0000bf,#00d5cd,#005df5,#0001ca,#001be7,#00bcf3,#00c6ec,#00c1f0,#00a2f7,#0085f9,#006ef8,#0072f9,#0098f8,#008ef8,#006ef8,#003bf0,#0036ef,#0075f9,#0078fa,#001ae6,#002aed,#0051f3,#007afa,#00a5f7,#00c8eb,#00d2e4,#00d6e2,#00d3b5,#00d199,#00d5c7,#00d6d6,#00c1f0,#006ef8,#001ce9,#0011dc,#000bd4,#0001c9,#0000b2,#0000a2,#00009a,#000097,#000095,#000093,#000090,#00008f,#00008e,#00008d,#00008d,#000093,#00009b,#00008f,#00008c,#00008c,#00008c,#00008c,#00008b,#00008b,#00008b,#00008b,#00008b,#00008b,#00008b,#00008b,#00008b,#00008b,#00008b,#00008b,#00008a,#00008a,#00008a,#00008a,#00008a,#00008a,#00008a,#00008a,#00008a,#00008a,#00008a,#00008a,#000089,#000089,#000089,#000089,#000089,#000089,#000089,#000089,#000089,#000089,#00008a,#000090,#00008b,#000088,#000088,#000088,#000088,#000088,#000088,#ffffff)"></i>
<i style="background:linear-gradient(90deg,#ccf4d7,#4ed60c,#bbe900,#fae200,#e9e500,#98e300,#6ddc00,#1ece1d,#00c828,#004bf3,#00a5f7,#00d4c5,#00d5c7,#00abf6,#0004cd,#0000bf,#00d6d3,#0055f4,#0000c8,#0018e4,#00b7f5,#00c2ef,#00bcf3,#0097f8,#007bfa,#0061f6,#0059f5,#006df8,#0070f9,#0050f3,#001dea,#0019e5,#0032ee,#0024ec,#0005ce,#000cd7,#0016e2,#001eeb,#0038ef,#0054f4,#0047f2,#002fee,#0059f5,#006ff9,#0039f0,#0065f7,#0088f9,#0085f9,#007efa,#009bf7,#00bff1,#00bcf3,#0081f9,#0022ec,#000bd5,#0000c8,#0000b7,#0000a9,#00009e,#000097,#000093,#000092,#000091,#00009d,#0000ae,#000093,#00008c,#00008c,#00008c,#00008c,#00008b,#00008b,#00008b,#00008b,#00008b,#00008b,#00008b,#00008b,#00008b,#00008b,#00008b,#00008b,#00008a,#00008a,#00008b,#00008a,#00008a,#00008a,#00008a,#00008a,#00008a,#00008a,#00008a,#00008a,#000089,#000089,#000089,#000089,#000089,#000089,#000089,#000089,#000089,#000089,#000089,#00008b,#000089,#000088,#000088,#000088,#000088,#000088,#000088,#ffffff)"></i>
<i style="background:linear-gradient(90deg,#ccf4d8,#4ad50d,#b8e800,#f7e200,#e6e600,#8fe200,#62da04,#1bcd1e,#00c829,#004af2,#00a5f7,#00d5c6,#00d5c9,#00a8f6,#0005ce,#0000c1,#00d6d6,#0052f4,#0000c7,#0017e3,#00b1f6,#00c0f0,#00baf4,#0090f8,#0074f9,#005af5,#004cf3,#0049f2,#005af5,#0042f1,#0018e4,#0013de,#0019e5,#0011dc,#0000c8,#0008d1,#0010db,#0017e3,#0020eb,#0034ef,#001eeb,#0013de,#0017e2,#0015e0,#0000c0,#0000b8,#0000bb,#0000bd,#0000c4,#000bd5,#0032ee,#0084f9,#00a5f7,#00a2f7,#009bf7,#009df7,#008ff8,#0058f5,#0016e2,#0002ca,#0000b1,#0000a6,#0000a1,#0000b4,#0002cb,#00009c,#00008f,#00008e,#00008e,#00008d,#00008c,#00008c,#00008b,#00008b,#00008b,#00008b,#00008b,#00008b,#00008b,#00008b,#00008b,#00008b,#00008a,#00008b,#00008c,#00008b,#00008a,#00008a,#00008a,#00008a,#00008a,#00008a,#00008a,#00008a,#000089,#000089,#000089,#000089,#000089,#000089,#000089,#000089,#000089,#000089,#000089,#000089,#000089,#000088,#000088,#000088,#000088,#000088,#000088,#ffffff)"></i>
<i style="background:linear-gradient(90deg,#ccf4d9,#45d50f,#b5e800,#f5e300,#e2e600,#87e000,#59d808,#18cc1f,#00c82a,#004af2,#00a5f7,#00d5c7,#00d5ca,#00a7f6,#0006cf,#0000c3,#00d6d9,#004ef3,#0000c7,#0016e2,#00adf6,#00bef1,#00b9f5,#008bf9,#006ef8,#0056f4,#0044f1,#0033ee,#004bf2,#0037ef,#0014e0,#000fda,#0011dc,#0008d1,#0000c3,#0006ce,#000ed8,#0014e0,#001be7,#0027ec,#0019e6,#000ed8,#000cd6,#0007d0,#0000b0,#0000a3,#00009f,#00009b,#000099,#00009b,#0000a4,#0000b1,#0000c1,#0004cd,#0012dc,#0042f1,#0097f8,#00c1f0,#00bff1,#009af7,#0067f7,#003ff0,#001eeb,#001eeb,#0028ed,#0000ba,#00009e,#00009a,#000098,#000094,#000090,#00008e,#00008d,#00008d,#00008c,#00008c,#00008b,#00008b,#00008b,#00008b,#00008b,#00008b,#00008a,#00008b,#000090,#00008d,#00008a,#00008a,#00008a,#00008a,#00008a,#00008a,#00008a,#00008a,#000089,#000089,#000089,#000089,#000089,#000089,#000089,#000089,#000089,#000089,#000089,#000089,#000088,#000088,#000088,#000088,#000088,#000088,#000088,#ffffff)"></i>
<i style="background:linear-gradient(90deg,#ccf4da,#41d410,#b2e700,#f2e300,#dfe700,#7fdf00,#50d60b,#14cc21,#00c82a,#0049f2,#00a6f6,#00d5c8,#00d5cc,#00a5f7,#0007d0,#0000c6,#00d7dc,#004bf3,#0000c8,#0016e1,#00a9f6,#00bdf2,#00b5f5,#0086f9,#0067f7,#0051f4,#003ef0,#0025ec,#0040f1,#002eee,#0011dc,#000cd6,#000cd6,#0002cb,#0000c0,#0004cd,#000cd6,#0012dd,#0018e5,#001feb,#0017e2,#000cd5,#0005ce,#0000c5,#0000aa,#00009e,#000099,#000095,#000091,#000090,#000092,#000094,#000097,#000099,#00009d,#0000a7,#0000ba,#0007d0,#0015e1,#002aed,#0059f5,#009af7,#00cbe9,#00d4c3,#00d5c7,#0075fa,#0017e3,#000cd6,#0005cd,#0000ba,#0000a4,#000097,#000094,#000094,#000093,#000091,#00008e,#00008d,#00008c,#00008c,#00008b,#00008b,#00008b,#00008d,#000099,#000092,#00008b,#00008a,#00008a,#00008a,#00008a,#00008a,#00008a,#00008a,#000089,#000089,#000089,#000089,#000089,#000089,#000089,#000089,#000089,#000089,#000089,#000089,#000088,#000088,#000088,#000088,#000088,#000088,#000088,#ffffff)"></i>
<i style="background:linear-gradient(90deg,#ccf5db,#3dd312,#b0e700,#f0e400,#dce700,#78de00,#47d50e,#11cb22,#00c82b,#0048f2,#00a7f6,#00d5c9,#00d5cd,#00a3f7,#0008d1,#0000c8,#00d7e0,#0048f2,#0000c8,#0015e1,#00a5f7,#00bbf3,#00b3f5,#0081f9,#0061f6,#004df3,#003af0,#001dea,#0037ef,#0026ec,#000ed8,#0009d2,#0008d1,#0000c6,#0000be,#0003cc,#000ad4,#0010db,#0016e2,#001ce9,#0014e0,#000ad3,#0001c9,#0000ba,#0000a8,#00009d,#000098,#000094,#000090,#00008e,#00008e,#00008e,#00008f,#00008f,#000090,#000092,#000095,#00009a,#00009e,#0000a3,#0000af,#0002cb,#001ce8,#0098f8,#00cfe7,#008bf9,#0063f7,#008af9,#00aff6,#0092f8,#002dee,#0006cf,#0000c0,#0000bc,#0000b3,#0000a6,#00009b,#000095,#000092,#000092,#000090,#00008e,#00008d,#000091,#0000aa,#00009c,#00008c,#00008a,#00008a,#00008a,#00008a,#00008a,#00008a,#00008a,#000089,#000089,#000089,#000089,#000089,#000089,#000089,#000089,#000089,#000089,#000089,#000089,#000088,#000088,#000088,#000088,#000088,#000088,#000088,#ffffff)"></i>
<i style="background:linear-gradient(90deg,#ccf5db,#39d213,#ade700,#eee400,#d9e800,#71dd00,#3fd311,#0ecb23,#00c82b,#0048f2,#00a7f6,#00d5ca,#00d5cf,#00a0f7,#0009d3,#0001ca,#00d6e2,#0044f1,#0001c9,#0015e0,#00a1f7,#00baf4,#00b0f6,#007cfa,#005bf5,#004af2,#0037ef,#001be8,#0030ee,#001eeb,#000bd5,#0006cf,#0004cd,#0000c0,#0000bd,#0002ca,#0009d2,#000fd9,#0014e0,#001ae6,#0012dd,#0008d1,#0000c5,#0000b5,#0000a6,#00009d,#000098,#000093,#00008f,#00008d,#00008d,#00008d,#00008d,#00008d,#00008d,#00008e,#00008e,#00008f,#000090,#000091,#000093,#000097,#0000a1,#0002cb,#0019e5,#0000c3,#0000bb,#000ad4,#0037ef,#0078fa,#006cf8,#003af0,#003ef0,#0075fa,#0081f9,#0048f2,#0011dc,#0000c7,#0000b6,#0000ae,#0000a6,#00009d,#000096,#00009a,#0000c6,#0000ad,#000090,#00008d,#00008b,#00008b,#00008a,#00008a,#00008a,#00008a,#00008a,#000089,#000089,#000089,#000089,#000089,#000089,#000089,#000089,#000089,#000089,#000089,#000088,#000088,#000088,#000088,#000088,#000088,#000088,#ffffff)"></i>
<i style="background:linear-gradient(90deg,#ccf5dc,#36d214,#abe600,#ece400,#d7e800,#6bdb01,#37d214,#0bca24,#00c82c,#0048f2,#00a8f6,#00d5cb,#00d5d0,#009ff7,#000ad4,#0003cb,#00d4e3,#0041f1,#0001c9,#0015e0,#009df7,#00b9f5,#00aef6,#0077fa,#0056f4,#0046f2,#0034ef,#0019e6,#002aed,#001ce8,#0009d2,#0003cc,#0002ca,#0000bc,#0000bc,#0001c9,#0007d0,#000dd7,#0013de,#0018e4,#0010db,#0007d0,#0000c2,#0000b3,#0000a6,#00009c,#000098,#000093,#00008f,#00008d,#00008d,#00008d,#00008d,#00008d,#00008d,#00008d,#00008d,#00008d,#00008d,#00008d,#00008d,#00008e,#000090,#0000aa,#0001c9,#00009d,#000094,#000099,#0000a4,#0000b0,#0000b7,#0000ba,#0003cc,#001eea,#007cfa,#009af7,#0085f9,#0060f6,#005cf5,#0062f6,#0047f2,#0018e4,#0004cd,#0000c4,#0016e2,#0005ce,#0000a5,#000099,#000092,#00008e,#00008d,#00008e,#00008d,#00008c,#00008b,#00008a,#00008a,#00008a,#00008a,#00008a,#000089,#000089,#000089,#000089,#000089,#000089,#000089,#000088,#000088,#000088,#000088,#000088,#000088,#ffffff)"></i>
<i style="background:linear-gradient(90deg,#ccf5dd,#33d115,#aae600,#eae500,#d4e900,#64da04,#31d116,#0aca24,#00c82b,#004af2,#00abf6,#00d5ca,#00d5d0,#009ef7,#000cd6,#0005cd,#00d2e4,#003ef0,#0002ca,#0015e0,#009af7,#00b7f5,#00abf6,#0071f9,#0050f3,#0043f1,#0031ee,#0018e4,#0024ec,#001ae6,#0006d0,#0001c9,#0000c7,#0000b9,#0000bb,#0000c8,#0006cf,#000bd5,#0011dc,#0016e1,#000ed9,#0005ce,#0000c0,#0000b1,#0000a5,#00009c,#000097,#000093,#00008f,#00008d,#00008d,#00008d,#00008d,#00008d,#00008d,#00008d,#00008d,#00008d,#00008c,#00008c,#00008c,#00008c,#00008d,#00009b,#0000ad,#000093,#00008d,#00008e,#000091,#000093,#000093,#000093,#000096,#0000a0,#0000b2,#0000c3,#0003cb,#0009d2,#0018e4,#005cf5,#009af7,#00a9f6,#0092f8,#0088f9,#00c3ef,#00a3f7,#0044f1,#0010da,#0000b8,#0000a0,#00009c,#00009e,#00009b,#000095,#00008f,#00008d,#00008e,#00008f,#00008e,#00008d,#00008b,#00008b,#00008b,#00008a,#00008a,#00008a,#000089,#000089,#000089,#000089,#000089,#000089,#000088,#ffffff)"></i>
<i style="background:linear-gradient(90deg,#ccf5dd,#31d116,#a9e600,#e9e500,#d3e900,#60d905,#2cd018,#0cca24,#04c927,#0058f5,#00b6f5,#00d4c2,#00d5ca,#00a3f7,#0010db,#0009d2,#00d3e4,#0041f1,#0004cc,#0016e1,#0098f8,#00b7f5,#00abf6,#006bf8,#004cf3,#0041f1,#002fee,#0016e2,#001feb,#0018e4,#0004cd,#0000c5,#0000c2,#0000b6,#0000bb,#0000c7,#0005ce,#000ad4,#000fda,#0014df,#000dd7,#0004cc,#0000be,#0000b0,#0000a4,#00009c,#000097,#000093,#00008f,#00008d,#00008d,#00008d,#00008d,#00008d,#00008d,#00008d,#00008d,#00008d,#00008c,#00008c,#00008c,#00008c,#00008c,#000093,#00009b,#00008f,#00008c,#00008c,#00008c,#00008d,#00008d,#00008d,#00008e,#000090,#000093,#000095,#000096,#000098,#00009e,#0000ac,#0000c4,#000ad4,#0016e2,#0043f1,#00bff1,#00c5ed,#00bdf2,#009ff7,#0040f1,#0010da,#0012dd,#001be7,#0015e1,#0003cb,#0000ab,#00009f,#0000a1,#0000a4,#0000a1,#00009a,#000094,#000092,#000092,#000092,#000091,#00008f,#00008d,#00008c,#00008d,#00008e,#00008d,#00008c,#00008a,#ffffff)"></i>
<i style="background:linear-gradient(90deg,#ccf5dc,#36d214,#aee700,#ebe500,#d5e900,#63da04,#31d116,#26cf1a,#2fd117,#00a3f7,#00d7df,#00cf84,#00d198,#00c2ef,#0025ec,#0018e4,#00d6d6,#005cf5,#000bd5,#001be7,#009ef7,#00bbf4,#00aff6,#006bf8,#004af2,#0041f1,#002fee,#0015e1,#001dea,#0017e3,#0003cb,#0000c1,#0000be,#0000b4,#0000ba,#0000c6,#0004cd,#0009d2,#000ed8,#0012dd,#000bd5,#0003cb,#0000bc,#0000af,#0000a4,#00009b,#000097,#000093,#00008f,#00008d,#00008d,#00008d,#00008d,#00008d,#00008d,#00008d,#00008d,#00008c,#00008c,#00008c,#00008c,#00008c,#00008c,#00008f,#000092,#00008d,#00008c,#00008c,#00008c,#00008c,#00008c,#00008c,#00008c,#00008c,#00008c,#00008d,#00008d,#00008e,#00008f,#000091,#000095,#000098,#00009c,#0000ad,#0015e0,#000ed8,#0007d0,#000dd7,#000ad3,#0006cf,#0017e2,#0075f9,#00a5f7,#007ff9,#001dea,#0010da,#001ce8,#0040f1,#0034ef,#0014e0,#0005cd,#0000c3,#0000c1,#0000bf,#0000b7,#0000ab,#0000a2,#00009e,#0000a1,#0000a4,#0000a2,#00009a,#000093,#ffffff)"></i>
<i style="background:linear-gradient(90deg,#ccf4d9,#44d40f,#bae900,#f1e400,#dbe700,#72dd00,#46d50f,#6adb01,#92e200,#00d198,#00c930,#5bd907,#49d50e,#00cd6a,#00caea,#00c3ef,#00ca3c,#00d4e3,#0077fa,#0075fa,#00c4ed,#00cee7,#00c2ef,#007dfa,#0056f4,#004cf3,#0039ef,#0017e2,#001feb,#0017e3,#0002cb,#0000bf,#0000bb,#0000b2,#0000ba,#0000c5,#0003cc,#0008d1,#000cd7,#0011db,#000ad3,#0002ca,#0000bb,#0000ae,#0000a3,#00009b,#000097,#000093,#000090,#00008d,#00008d,#00008d,#00008d,#00008d,#00008d,#00008d,#00008d,#00008c,#00008c,#00008c,#00008c,#00008c,#00008c,#00008d,#00008e,#00008c,#00008c,#00008c,#00008c,#00008c,#00008b,#00008b,#00008b,#00008b,#00008b,#00008b,#00008b,#00008b,#00008b,#00008c,#00008d,#00008d,#00008e,#000097,#0000c5,#0000b0,#000098,#000098,#000097,#000097,#0000a1,#0000bb,#0008d2,#000dd7,#0006cf,#0005ce,#0019e5,#0066f7,#008cf8,#007afa,#004ff3,#0048f2,#006cf8,#0087f9,#0081f9,#0054f4,#001feb,#0018e4,#0024ec,#0045f1,#003cf0,#0015e1,#0003cb,#ffffff)"></i>
<i style="background:linear-gradient(90deg,#ccf5dd,#32d116,#ade600,#e8e500,#d2e900,#5cd907,#2ad019,#2bd018,#3dd312,#00bcf3,#00d4be,#00cb4f,#00cb4a,#00d3b5,#00bbf4,#00c4ed,#11cb22,#00d19a,#00d2e4,#00d7de,#00cd6d,#00c93a,#00cd6b,#00d3e4,#00abf6,#0091f8,#0075fa,#002eee,#0036ef,#001ce8,#0005ce,#0000c4,#0000bf,#0000b5,#0000bd,#0000c6,#0003cc,#0007d0,#000bd5,#000fda,#0008d2,#0001c9,#0000b9,#0000ad,#0000a3,#00009b,#000097,#000093,#000090,#00008e,#00008d,#00008d,#00008d,#00008d,#00008d,#00008d,#00008d,#00008c,#00008c,#00008c,#00008c,#00008c,#00008c,#00008c,#00008c,#00008c,#00008c,#00008c,#00008c,#00008c,#00008b,#00008b,#00008b,#00008b,#00008b,#00008b,#00008b,#00008b,#00008b,#00008b,#00008b,#00008b,#00008b,#000090,#0000aa,#00009d,#00008d,#00008d,#00008d,#00008c,#00008e,#000092,#000097,#000098,#000095,#000096,#00009f,#0000af,#0000bd,#0000c1,#0000c1,#0001c9,#000ed8,#001eea,#0039ef,#002eee,#001ae6,#0018e4,#0032ee,#0067f7,#006ff8,#0036ef,#000fda,#ffffff)"></i>
<i style="background:linear-gradient(90deg,#ccf5df,#28cf19,#a5e500,#e3e600,#ccea00,#4ed60c,#19cc1f,#04c927,#04c927,#005bf5,#00bcf3,#00d4c1,#00d5c8,#00a9f6,#001feb,#001ce9,#00d6d5,#007dfa,#0032ee,#0077fa,#00d6d5,#00ce71,#00cb49,#00d090,#00d3b1,#00d2a6,#00d2a8,#00d3e3,#00bff1,#0083f9,#001feb,#0010da,#0007d1,#0000c6,#0000c8,#0002cb,#0005ce,#0009d2,#000cd6,#000fd9,#0008d1,#0000c8,#0000b8,#0000ad,#0000a2,#00009b,#000097,#000093,#000092,#00008f,#00008d,#00008e,#00008d,#00008d,#00008d,#00008d,#00008d,#00008c,#00008c,#00008c,#00008c,#00008c,#00008c,#00008c,#00008c,#00008c,#00008c,#00008c,#00008c,#00008c,#00008b,#00008b,#00008b,#00008b,#00008b,#00008b,#00008b,#00008b,#00008b,#00008b,#00008b,#00008b,#00008a,#00008d,#000099,#000092,#00008b,#00008a,#00008a,#00008a,#00008b,#00008b,#00008c,#00008d,#00008c,#00008c,#00008d,#000090,#000092,#000092,#000092,#000093,#000097,#00009d,#0000a2,#0000a1,#00009e,#00009e,#0000a4,#0000ad,#0000b0,#0000a8,#00009e,#ffffff)"></i>
<i style="background:linear-gradient(90deg,#ccf5e0,#25cf1a,#a4e500,#e1e600,#caeb00,#49d50d,#13cb21,#00c82c,#00c82e,#0048f2,#00b1f6,#00d5d0,#00d6d9,#0093f8,#0015e1,#0010db,#00c8eb,#0034ef,#000bd5,#001ce9,#009bf7,#00c3ee,#00c6ec,#009bf7,#009bf7,#00c1f0,#00d6d8,#00d5c7,#00d2a6,#00d4bb,#00d4e3,#00c8eb,#00acf6,#0060f6,#0025ec,#0016e1,#0012dd,#0011dc,#0011db,#0011dc,#0009d2,#0001c9,#0000bb,#0000ae,#0000a3,#00009c,#000098,#000095,#000098,#000092,#00008e,#000090,#00008e,#00008d,#00008d,#00008d,#00008d,#00008c,#00008c,#00008c,#00008c,#00008c,#00008c,#00008c,#00008c,#00008c,#00008c,#00008c,#00008c,#00008c,#00008b,#00008b,#00008b,#00008b,#00008b,#00008b,#00008b,#00008b,#00008b,#00008b,#00008b,#00008b,#00008a,#00008b,#000090,#00008d,#00008a,#00008a,#00008a,#00008a,#00008a,#00008a,#00008a,#00008a,#00008a,#00008a,#00008a,#00008a,#00008b,#00008b,#00008b,#00008b,#00008c,#00008d,#00008e,#00008d,#00008d,#00008c,#00008e,#00008f,#00008f,#00008e,#00008c,#ffffff)"></i>
<i style="background:linear-gradient(90deg,#ccf5e0,#23ce1b,#a3e500,#dfe700,#c9eb00,#46d50f,#0fcb23,#00c92f,#00c931,#0043f1,#00aff6,#00d6d5,#00d7df,#008cf8,#0015e0,#000fda,#00c3ef,#0024ec,#0008d1,#0018e3,#0089f9,#00b3f5,#00abf6,#0058f5,#0043f1,#0051f3,#0055f4,#0038ef,#0078fa,#0086f9,#0087f9,#00bbf4,#00d6e2,#00d7dc,#00d3e4,#00c7eb,#00bff1,#00a2f7,#0069f7,#0030ee,#0014df,#0009d3,#0000c8,#0000b7,#0000ab,#0000a8,#0000a2,#00009a,#0000a4,#000099,#000090,#000096,#000091,#00008d,#00008d,#00008d,#00008d,#00008d,#00008c,#00008c,#00008c,#00008c,#00008c,#00008c,#00008c,#00008c,#00008c,#00008c,#00008c,#00008c,#00008b,#00008b,#00008b,#00008b,#00008b,#00008b,#00008b,#00008b,#00008b,#00008b,#00008b,#00008b,#00008a,#00008b,#00008c,#00008b,#00008a,#00008a,#00008a,#00008a,#00008a,#00008a,#00008a,#00008a,#000089,#000089,#000089,#000089,#000089,#000089,#000089,#000089,#000089,#000089,#000089,#000089,#000089,#000089,#000089,#000089,#000089,#000089,#000089,#ffffff)"></i>
<i style="background:linear-gradient(90deg,#ccf5e0,#22ce1c,#a3e500,#dee700,#c8eb00,#44d40f,#0cca24,#00c932,#00c932,#0042f1,#00aff6,#00d6d7,#00d7e1,#0088f9,#0016e1,#0010db,#00bff1,#001eeb,#0008d1,#0017e3,#0083f9,#00adf6,#00a2f7,#0047f2,#0030ee,#0039ef,#002eee,#0011dc,#001feb,#001ae6,#0008d1,#0008d2,#0013de,#0020eb,#0064f7,#00a1f7,#00d3e4,#00d3b0,#00d3b5,#00d1e5,#00acf6,#0083f9,#003ef0,#000fd9,#0002ca,#0006cf,#0001c9,#0000ac,#0000bd,#0000a7,#000096,#0000a5,#000097,#00008e,#00008d,#00008d,#00008d,#00008d,#00008c,#00008c,#00008c,#00008c,#00008c,#00008c,#00008c,#00008c,#00008c,#00008c,#00008c,#00008c,#00008b,#00008b,#00008b,#00008b,#00008b,#00008b,#00008b,#00008b,#00008b,#00008b,#00008b,#00008b,#00008a,#00008a,#00008b,#00008a,#00008a,#00008a,#00008a,#00008a,#00008a,#00008a,#00008a,#00008a,#000089,#000089,#000089,#000089,#000089,#000089,#000089,#000089,#000089,#000089,#000089,#000089,#000088,#000088,#000088,#000088,#000088,#000088,#000088,#ffffff)"></i>
<i style="background:linear-gradient(90deg,#ccf5e0,#20ce1c,#a3e500,#dde700,#c7eb00,#41d410,#09ca25,#00c934,#00c932,#0041f1,#00b0f6,#00d6d8,#00d6e2,#0086f9,#0017e3,#0012dd,#00bdf2,#001ce9,#0009d2,#0017e3,#0080f9,#00abf6,#00a0f7,#003ff1,#0028ed,#0032ee,#0025ec,#000cd6,#0019e6,#0013df,#0000c3,#0000b8,#0000b9,#0000ba,#0004cc,#000bd5,#0019e5,#004cf3,#0086f9,#00a6f6,#00bcf3,#00d7de,#00d4bf,#00cde8,#008ef8,#0087f9,#0052f4,#000cd6,#0010db,#0000c4,#0000ad,#0002ca,#0000aa,#000091,#00008e,#00008e,#00008d,#00008d,#00008d,#00008c,#00008c,#00008c,#00008c,#00008c,#00008c,#00008c,#00008c,#00008c,#00008d,#00008c,#00008b,#00008b,#00008b,#00008b,#00008b,#00008b,#00008b,#00008b,#00008b,#00008b,#00008b,#00008b,#00008a,#00008a,#00008a,#00008a,#00008a,#00008a,#00008a,#00008a,#00008a,#00008a,#00008a,#00008a,#000089,#000089,#000089,#000089,#000089,#000089,#000089,#000089,#000089,#000089,#000089,#000089,#000088,#000088,#000088,#000088,#000088,#000088,#000088,#ffffff)"></i>
<i style="background:linear-gradient(90deg,#ccf5e1,#1fce1d,#a2e500,#dce700,#c5eb00,#3fd411,#06c926,#00c936,#00c933,#0040f1,#00b1f6,#00d6d9,#00d5e3,#0083f9,#0018e4,#0013df,#00baf4,#001be7,#000ad3,#0018e4,#007dfa,#00aaf6,#009ff7,#003af0,#0024ec,#0030ee,#0022ec,#000ad4,#0018e4,#0012dd,#0000be,#0000af,#0000ae,#0000ac,#0000c0,#0000c8,#0004cd,#000ad3,#000fda,#0014df,#0015e0,#0026ec,#0078fa,#00b1f6,#00c7ec,#00d4bb,#00d2ae,#00cfe7,#00bff1,#004ff3,#001ae6,#0048f2,#0007d0,#0000a0,#000096,#000093,#000092,#000093,#000090,#00008e,#00008d,#00008c,#00008c,#00008c,#00008c,#00008c,#00008c,#00008c,#00008f,#00008e,#00008c,#00008b,#00008b,#00008b,#00008b,#00008b,#00008b,#00008b,#00008c,#00008b,#00008b,#00008b,#00008a,#00008a,#00008a,#00008a,#00008a,#00008a,#00008a,#00008a,#00008a,#00008a,#00008a,#00008a,#000089,#000089,#000089,#000089,#000089,#000089,#000089,#000089,#000089,#000089,#000089,#000089,#000088,#000088,#000088,#000088,#000088,#000088,#000088,#ffffff)"></i>
<i style="background:linear-gradient(90deg,#ccf5e1,#1ecd1d,#a2e500,#dbe800,#c4ea00,#3dd312,#04c927,#00c938,#00c934,#0040f1,#00b2f6,#00d6db,#00d4e3,#0080f9,#001ae6,#0015e0,#00b7f5,#001ae6,#000bd4,#0019e5,#007bfa,#00a9f6,#009ff7,#0035ef,#0020eb,#002fee,#0021ec,#0009d3,#0018e4,#0012dd,#0000bc,#0000ad,#0000ab,#0000a8,#0000bc,#0000c2,#0000c8,#0003cc,#0007d0,#0009d3,#0005cd,#0001ca,#0001ca,#0005ce,#0015e1,#007bfa,#00c2ef,#00d4c1,#00cb51,#00d096,#00d4bb,#00d197,#00a3f7,#0013de,#0000c0,#0000aa,#0000a9,#0000af,#0000a3,#000094,#00008f,#00008e,#00008e,#00008d,#00008d,#00008c,#00008c,#00008d,#000096,#000093,#00008c,#00008b,#00008b,#00008b,#00008b,#00008b,#00008b,#00008c,#00008e,#00008c,#00008b,#00008b,#00008a,#00008a,#00008a,#00008a,#00008a,#00008a,#00008a,#00008a,#00008a,#00008a,#00008a,#00008a,#000089,#000089,#000089,#000089,#000089,#000089,#000089,#000089,#000089,#000089,#000089,#000089,#000088,#000088,#000088,#000088,#000088,#000088,#000088,#ffffff)"></i>
<i style="background:linear-gradient(90deg,#ccf5e1,#1dcd1e,#a2e500,#dae800,#c3ea00,#3cd312,#01c828,#00c93a,#00c935,#003ff0,#00b2f6,#00d7dc,#00d2e4,#007efa,#001be8,#0017e2,#00b2f6,#0018e4,#000cd5,#0019e5,#0079fa,#00a9f6,#009ef7,#0030ee,#001eea,#002eee,#0020eb,#0008d1,#0018e4,#0012dc,#0000bb,#0000ab,#0000a9,#0000a7,#0000bc,#0000c1,#0000c6,#0002ca,#0004cd,#0006cf,#0001c9,#0000be,#0000b6,#0000b1,#0000b6,#0003cb,#0009d3,#0017e3,#009bf7,#00bbf4,#00d3ba,#20ce1d,#00cb55,#00d5cb,#00acf6,#0050f3,#002fee,#002fee,#000cd6,#0000ae,#00009b,#000096,#000095,#000094,#000091,#00008f,#00008e,#000090,#0000a3,#00009d,#00008d,#00008c,#00008b,#00008b,#00008b,#00008b,#00008b,#00008d,#000094,#00008d,#00008b,#00008b,#00008a,#00008a,#00008a,#00008a,#00008a,#00008a,#00008a,#00008a,#00008a,#00008a,#00008a,#00008a,#000089,#000089,#000089,#00008a,#00008b,#000089,#000089,#000089,#000089,#000089,#000089,#000089,#000088,#000088,#000088,#000088,#000088,#000088,#000088,#ffffff)"></i>
<i style="background:linear-gradient(90deg,#ccf5e1,#1ccd1e,#a2e500,#d9e800,#c2ea00,#3ad313,#00c829,#00c93b,#00c935,#003ef0,#00b3f5,#00d7de,#00d1e5,#007bfa,#001ce9,#0018e4,#00acf6,#0017e3,#000dd7,#001ae6,#0076fa,#00a9f6,#009ef7,#002bed,#001ce9,#002dee,#0020eb,#0007d0,#0018e3,#0012dd,#0000ba,#0000aa,#0000a9,#0000a6,#0000bc,#0000c1,#0000c5,#0001c9,#0003cc,#0005ce,#0000c7,#0000ba,#0000b0,#0000a9,#0000a4,#0000a4,#0000a4,#0000ad,#000fda,#000dd8,#0031ee,#00bdf2,#0095f8,#008bf9,#00a5f7,#00baf4,#00d7dd,#00d1a3,#00d1e5,#0059f5,#000cd6,#0000c6,#0000bd,#0000b8,#0000ae,#0000a1,#000097,#000099,#0000bc,#0000b0,#000090,#00008d,#00008d,#00008c,#00008c,#00008b,#00008b,#000091,#0000a0,#000091,#00008b,#00008b,#00008a,#00008a,#00008a,#00008a,#00008a,#00008a,#00008a,#00008a,#00008a,#00008a,#00008a,#00008a,#000089,#000089,#000089,#00008b,#00008e,#00008a,#000089,#000089,#000089,#000089,#000089,#000089,#000088,#000088,#000088,#000088,#000088,#000088,#000088,#ffffff)"></i>
<i style="background:linear-gradient(90deg,#ccf5e1,#1bcd1e,#a2e500,#d8e800,#c1ea00,#39d213,#00c82c,#00ca3d,#00c936,#003ef0,#00b4f5,#00d7df,#00d0e5,#0078fa,#001eeb,#001ae6,#00a7f6,#0016e2,#000ed8,#001be7,#0073f9,#00a9f6,#009ef7,#0027ec,#001be8,#002ced,#001feb,#0006cf,#0017e3,#0012dd,#0000b9,#0000aa,#0000a8,#0000a6,#0000bd,#0000c1,#0000c5,#0001c9,#0002cb,#0004cd,#0000c5,#0000b8,#0000ae,#0000a6,#00009f,#00009b,#000098,#00009c,#0000bf,#0000b1,#0000bb,#0018e4,#0003cb,#0000b1,#0000bc,#0007d0,#004bf2,#00c5ed,#00d4e3,#00c2ef,#009af7,#0093f8,#00acf6,#00a7f6,#006bf8,#0015e1,#0000c8,#0000c1,#0011dc,#0005ce,#00009b,#000094,#000093,#000092,#000090,#00008e,#00008e,#00009a,#0000b7,#00009a,#00008c,#00008b,#00008b,#00008b,#00008b,#00008b,#00008a,#00008a,#00008a,#00008a,#00008a,#00008a,#00008a,#00008a,#00008a,#000089,#00008a,#00008f,#000096,#00008c,#000089,#000089,#000089,#000089,#000089,#000089,#000088,#000088,#000088,#000088,#000088,#000088,#000088,#ffffff)"></i>
<i style="background:linear-gradient(90deg,#ccf5e1,#1acd1e,#a3e500,#d7e800,#c0ea00,#3ad213,#00c82c,#00ca3c,#00c934,#003ff1,#00b6f5,#00d7e0,#00cfe6,#0075fa,#0022ec,#001be8,#00a3f7,#0016e2,#000fda,#001be8,#0070f9,#00abf6,#009ff7,#0022ec,#001ae6,#002bed,#001eeb,#0005ce,#0017e3,#0012dd,#0000b9,#0000a9,#0000a7,#0000a5,#0000bd,#0000c1,#0000c4,#0000c8,#0002ca,#0003cc,#0000c3,#0000b7,#0000ad,#0000a5,#00009e,#00009a,#000097,#000096,#0000a6,#00009c,#00009d,#0000c3,#0000a7,#000095,#000096,#00009c,#0000b8,#000bd5,#000bd5,#0009d3,#0010db,#0038ef,#00b8f5,#00d3b8,#00d3ba,#00bcf3,#008df8,#00b0f6,#00d0e6,#0090f8,#000ed8,#0000c2,#0000b7,#0000ae,#0000a4,#00009b,#000098,#0000ac,#0009d2,#0000aa,#000092,#00008f,#00008f,#000090,#00008f,#00008d,#00008c,#00008c,#00008c,#00008c,#00008b,#00008a,#00008a,#00008a,#00008a,#00008a,#00008a,#000096,#0000a6,#00008f,#00008a,#000089,#000089,#000089,#000089,#000089,#000089,#000089,#000089,#000089,#000089,#000089,#000089,#ffffff)"></i>
<i style="background:linear-gradient(90deg,#ccf5e0,#1ecd1d,#a7e500,#d9e800,#c2ea00,#41d411,#05c926,#00c932,#00c82b,#0049f2,#00bbf4,#00d7de,#00cfe6,#0073f9,#0027ec,#001dea,#009ff7,#0018e4,#0012dd,#001ce9,#006ef8,#00aef6,#00a0f7,#001eeb,#0019e5,#002bed,#001eeb,#0004cc,#0017e3,#0012dd,#0000b8,#0000a8,#0000a6,#0000a5,#0000be,#0000c1,#0000c4,#0000c7,#0001c9,#0002ca,#0000c1,#0000b6,#0000ac,#0000a5,#00009e,#00009b,#000099,#000094,#000099,#000093,#000093,#0000a6,#000098,#00008e,#00008e,#000090,#000098,#0000a3,#0000a0,#00009b,#00009c,#0000a7,#0001c9,#001be8,#0047f2,#0033ef,#004af2,#00bff1,#00ce7a,#00d2a8,#00a7f6,#007cfa,#0086f9,#007bfa,#003df0,#0014e0,#000dd7,#001ae6,#0066f7,#0011dc,#0000b9,#0000a7,#0000a3,#0000a4,#00009f,#000097,#000091,#000092,#000095,#000095,#000090,#00008d,#00008e,#00008f,#00008f,#00008e,#00008e,#0000a4,#0000c1,#000098,#00008d,#00008c,#00008c,#00008c,#00008d,#00008d,#00008b,#00008b,#00008d,#00008f,#00008e,#00008c,#00008b,#ffffff)"></i>
<i style="background:linear-gradient(90deg,#ccf5dd,#2ed017,#b7e800,#e2e600,#cfea00,#72dd00,#46d50f,#3bd313,#2ed017,#007ff9,#00c8eb,#00d5d0,#00d3e4,#0078fa,#0031ee,#0024ec,#009ff7,#001eeb,#0016e2,#001dea,#006cf8,#00b4f5,#00a4f7,#001ce9,#0018e4,#002aed,#001eeb,#0003cb,#0017e3,#0012dd,#0000b8,#0000a7,#0000a6,#0000a4,#0000bf,#0000c1,#0000c3,#0000c6,#0000c8,#0001c9,#0000c0,#0000b4,#0000ab,#0000a4,#00009e,#00009d,#00009b,#000094,#000093,#00008f,#00008f,#000098,#000092,#00008d,#00008d,#00008d,#00008e,#000090,#000090,#00008f,#000090,#000092,#000099,#0000a4,#0000aa,#0000a7,#0000aa,#0001ca,#004cf3,#004bf2,#0014e0,#001dea,#0075f9,#00adf6,#00abf6,#0090f8,#0098f8,#00cfe7,#00d094,#00d0e5,#007efa,#002fee,#002dee,#0041f1,#0023ec,#0008d2,#0000b8,#0000c0,#0004cd,#0001c9,#0000af,#00009f,#0000a1,#0000a8,#0000a8,#0000a1,#00009e,#0000c2,#0012dd,#0000b4,#0000a0,#00009a,#000098,#00009b,#00009e,#00009c,#000097,#000096,#00009f,#0000aa,#0000aa,#00009f,#00009b,#ffffff)"></i>
<i style="background:linear-gradient(90deg,#ccf5df,#25cf1b,#b2e700,#e0e700,#cfea00,#85e000,#85e000,#b0e700,#bae900,#00d2a8,#00cd65,#00cd64,#00d3b2,#0097f8,#004ef3,#003af0,#00a7f6,#0040f1,#001dea,#0020eb,#006cf8,#00bbf4,#00a9f6,#001be8,#0017e2,#0029ed,#001eea,#0002ca,#0017e3,#0012dd,#0000b7,#0000a7,#0000a5,#0000a4,#0000bf,#0000c1,#0000c3,#0000c5,#0000c7,#0000c8,#0000be,#0000b3,#0000aa,#0000a4,#00009f,#0000a1,#00009f,#000094,#000090,#00008e,#00008e,#000091,#00008f,#00008d,#00008d,#00008d,#00008d,#00008d,#00008d,#00008d,#00008d,#00008d,#00008e,#000090,#000090,#000090,#000091,#00009b,#0004cc,#0000c6,#00009e,#0000a0,#0000af,#0000c2,#0001c9,#0003cb,#000ad4,#0039f0,#00b0f6,#007bfa,#0038ef,#0021ec,#004ef3,#0093f8,#009af7,#004ef3,#0016e2,#003cf0,#0099f7,#009df7,#0043f1,#0010db,#001ae6,#0053f4,#005df5,#0033ee,#001eea,#0070f9,#00bef2,#007bfa,#0034ef,#0014e0,#0010da,#0018e4,#0025ec,#001be7,#000cd6,#0009d2,#001eea,#0064f7,#0056f4,#0015e1,#000bd5,#ffffff)"></i>
<i style="background:linear-gradient(90deg,#ccf5e2,#18cc1f,#a5e500,#d5e900,#c0ea00,#46d50f,#1ccd1e,#39d213,#6adb01,#00d5cc,#00c932,#3dd312,#16cc20,#00d3b8,#00c2ef,#009bf7,#00c8eb,#0084f9,#0045f2,#0030ee,#0072f9,#00c2ef,#00b2f6,#001ae6,#0016e1,#0028ed,#001dea,#0001c9,#0017e3,#0012dd,#0000b7,#0000a6,#0000a5,#0000a3,#0000c0,#0000c1,#0000c2,#0000c4,#0000c6,#0000c7,#0000bc,#0000b2,#0000a9,#0000a3,#00009f,#0000a5,#0000a4,#000096,#00008f,#00008d,#00008d,#00008e,#00008d,#00008d,#00008d,#00008d,#00008d,#00008d,#00008d,#00008d,#00008c,#00008c,#00008c,#00008c,#00008c,#00008c,#00008c,#000091,#0000af,#0000a8,#000090,#000090,#000092,#000095,#000096,#000096,#000097,#0000b1,#000fda,#0000bb,#0000a3,#0000a2,#0000ac,#0000be,#0000c8,#0000bc,#0000b1,#0000c8,#0015e1,#0020eb,#0013de,#0007d0,#0016e2,#0064f7,#0087f9,#006cf8,#005cf5,#00b0f6,#00d5c8,#00c5ed,#0095f8,#0059f5,#004cf3,#007dfa,#0099f7,#007bfa,#0021ec,#0014e0,#0039ef,#006bf8,#0041f1,#000cd6,#0001c9,#ffffff)"></i>
<i style="background:linear-gradient(90deg,#ccf5e2,#15cc20,#a3e500,#d3e900,#bce900,#35d215,#00c932,#00c938,#04c927,#006af8,#00d2e4,#00d19f,#00d08d,#00d5cf,#00d4c2,#00d19c,#00c935,#00d090,#00c9ea,#0084f9,#008ef8,#00cfe7,#00bdf2,#001be7,#0016e1,#0029ed,#001dea,#0000c8,#0018e3,#0012dd,#0000b6,#0000a5,#0000a4,#0000a3,#0000c0,#0000c1,#0000c2,#0000c3,#0000c5,#0000c5,#0000bb,#0000b1,#0000a8,#0000a2,#0000a0,#0000aa,#0000aa,#000097,#00008f,#00008d,#00008d,#00008d,#00008d,#00008d,#00008d,#00008d,#00008d,#00008d,#00008d,#00008d,#00008c,#00008c,#00008c,#00008c,#00008c,#00008c,#00008c,#00008e,#00009c,#000099,#00008d,#00008c,#00008c,#00008d,#00008d,#00008d,#00008e,#00009c,#0000be,#00009e,#000090,#00008f,#000091,#000094,#000095,#000092,#000090,#000094,#00009b,#00009f,#00009b,#000097,#00009e,#0000ad,#0000b5,#0000b1,#0000b0,#0009d3,#002fee,#0007d1,#0000bf,#0000b4,#0000b3,#0000bd,#0000c5,#0000ba,#0000a7,#0000a0,#0000a6,#0000ac,#0000a4,#000097,#000093,#ffffff)"></i>
<i style="background:linear-gradient(90deg,#ccf5e2,#14cc21,#a3e500,#d2e900,#bae900,#31d116,#00c93b,#00ca46,#00c936,#0043f1,#00bef2,#00d7dc,#00d2e4,#0088f9,#008bf9,#00c0f0,#00cc62,#00c82d,#00ca45,#00d2a8,#00d6d9,#00d3b1,#00cfe6,#0028ed,#0019e6,#0031ee,#0020eb,#0000c8,#0018e4,#0013de,#0000b6,#0000a5,#0000a4,#0000a3,#0000c1,#0000c1,#0000c2,#0000c3,#0000c4,#0000c3,#0000b9,#0000b0,#0000a7,#0000a2,#0000a0,#0000af,#0000b0,#000098,#00008f,#00008d,#00008d,#00008d,#00008d,#00008d,#00008d,#00008d,#00008d,#00008d,#00008e,#00008d,#00008c,#00008c,#00008c,#00008c,#00008c,#00008c,#00008c,#00008c,#000092,#000091,#00008c,#00008b,#00008b,#00008b,#00008b,#00008b,#00008b,#000093,#0000a4,#000093,#00008c,#00008b,#00008c,#00008c,#00008c,#00008c,#00008b,#00008c,#00008d,#00008e,#00008d,#00008c,#00008d,#000090,#000091,#000090,#000090,#0000ab,#0003cc,#00009f,#000092,#000090,#000090,#000092,#000093,#000091,#00008e,#00008d,#00008e,#00008f,#00008e,#00008b,#00008a,#ffffff)"></i>
<i style="background:linear-gradient(90deg,#ccf5e2,#13cb21,#a3e500,#d1e900,#b9e800,#2fd117,#00ca3e,#00cb4a,#00c93b,#003af0,#00bbf4,#00d4e3,#00caea,#0066f7,#004df3,#0055f4,#00baf4,#00aef6,#00c2ef,#00d7e0,#00d095,#15cc20,#00cc5d,#00a7f6,#005bf5,#0055f4,#0032ee,#0002cb,#001ae6,#0014df,#0000b7,#0000a5,#0000a4,#0000a2,#0000c1,#0000c1,#0000c1,#0000c2,#0000c4,#0000c3,#0000b8,#0000ae,#0000a6,#0000a1,#0000a0,#0000b2,#0000b4,#000099,#00008f,#00008d,#00008d,#00008d,#00008d,#00008d,#00008d,#00008d,#00008d,#00008d,#00008f,#00008e,#00008c,#00008c,#00008c,#00008c,#00008c,#00008c,#00008c,#00008c,#00008e,#00008d,#00008c,#00008b,#00008b,#00008b,#00008b,#00008b,#00008b,#00008e,#000096,#00008e,#00008b,#00008b,#00008b,#00008b,#00008a,#00008a,#00008a,#00008a,#00008a,#00008a,#00008a,#00008a,#00008a,#00008b,#00008b,#00008b,#00008b,#00009b,#0000af,#000092,#00008b,#00008a,#00008a,#00008a,#00008b,#00008a,#000089,#000089,#000089,#000089,#000089,#000088,#000088,#ffffff)"></i>
<i style="background:linear-gradient(90deg,#ccf5e2,#12cb21,#a3e500,#d0ea00,#b8e800,#2ed017,#00ca41,#00cb4c,#00ca3c,#0038ef,#00baf4,#00d2e4,#00c7eb,#005bf5,#0043f1,#0040f1,#008ef8,#0042f1,#0046f2,#0058f5,#00adf6,#00ce72,#00ca46,#00d2a6,#00d3b6,#00d6e2,#0096f8,#0012dd,#0029ed,#0018e4,#0000bd,#0000a8,#0000a5,#0000a3,#0000c2,#0000c1,#0000c1,#0000c2,#0000c6,#0000c4,#0000b7,#0000ad,#0000a6,#0000a1,#0000a1,#0000b4,#0000b6,#00009a,#00008f,#00008d,#00008d,#00008d,#00008d,#00008d,#00008d,#00008d,#00008d,#00008e,#000092,#00008f,#00008c,#00008c,#00008c,#00008c,#00008c,#00008c,#00008c,#00008c,#00008c,#00008c,#00008b,#00008b,#00008b,#00008b,#00008b,#00008b,#00008b,#00008c,#00008f,#00008c,#00008b,#00008b,#00008a,#00008a,#00008a,#00008a,#00008a,#00008a,#00008a,#00008a,#00008a,#00008a,#00008a,#00008a,#00008a,#000089,#00008a,#000091,#00009b,#00008d,#000089,#000089,#000089,#000089,#000089,#000089,#000089,#000088,#000088,#000088,#000088,#000088,#000088,#ffffff)"></i>
<i style="background:linear-gradient(90deg,#ccf5e3,#11cb22,#a3e500,#cfea00,#b7e800,#2dd017,#00ca43,#00cb4e,#00ca3d,#0037ef,#00baf4,#00d1e5,#00c6ec,#0056f4,#0044f1,#003ff1,#007efa,#0019e6,#0024ec,#0032ee,#0074f9,#00d5d0,#00d7e0,#008df8,#00cee7,#00d08c,#00d092,#00bef2,#00a7f6,#0056f4,#0007d0,#0000b7,#0000ae,#0000a8,#0000c5,#0000c3,#0000c1,#0000c2,#0002cb,#0000c8,#0000b6,#0000ac,#0000a5,#0000a0,#0000a0,#0000b5,#0000b8,#00009a,#00008f,#00008d,#00008d,#00008d,#00008d,#00008d,#00008d,#00008d,#00008d,#00008f,#000097,#000092,#00008d,#00008c,#00008c,#00008c,#00008c,#00008c,#00008c,#00008c,#00008c,#00008c,#00008b,#00008b,#00008b,#00008b,#00008b,#00008b,#00008b,#00008b,#00008c,#00008b,#00008b,#00008b,#00008a,#00008a,#00008a,#00008a,#00008a,#00008a,#00008a,#00008a,#00008a,#00008a,#00008a,#00008a,#000089,#000089,#000089,#00008c,#000090,#00008a,#000089,#000089,#000089,#000089,#000089,#000089,#000088,#000088,#000088,#000088,#000088,#000088,#000088,#ffffff)"></i>
<i style="background:linear-gradient(90deg,#ccf5e3,#10cb22,#a4e500,#cfea00,#b7e800,#2cd018,#00ca45,#00cb4f,#00ca3d,#0037ef,#00bbf4,#00d1e5,#00c5ed,#0053f4,#0047f2,#0042f1,#0074f9,#000fda,#001ce8,#002bed,#0065f7,#00d7dd,#00c6ec,#001be7,#0027ed,#008bf9,#00c0f0,#00c2ef,#00d3b2,#00d5ca,#0099f7,#0027ec,#0008d2,#0000bd,#0004cc,#0000c9,#0000c5,#0000c6,#0009d3,#0005cd,#0000b5,#0000ab,#0000a4,#0000a0,#0000a0,#0000b6,#0000b8,#00009a,#00008f,#00008d,#00008d,#00008d,#00008d,#00008d,#00008d,#00008d,#00008d,#000091,#0000a0,#000096,#00008d,#00008c,#00008c,#00008c,#00008c,#00008c,#00008c,#00008c,#00008c,#00008c,#00008b,#00008b,#00008b,#00008b,#00008b,#00008b,#00008b,#00008b,#00008b,#00008b,#00008b,#00008b,#00008a,#00008a,#00008a,#00008a,#00008a,#00008a,#00008a,#00008a,#00008a,#00008a,#00008a,#00008a,#000089,#000089,#000089,#00008a,#00008b,#000089,#000089,#000089,#000089,#000089,#000089,#000089,#000088,#000088,#000088,#000088,#000088,#000088,#000088,#ffffff)"></i>
<i style="background:linear-gradient(90deg,#ccf5e3,#10cb22,#a4e500,#ceea00,#b6e800,#2cd018,#00ca46,#00cb50,#00ca3e,#0036ef,#00bbf4,#00d0e6,#00c4ed,#0050f3,#004bf2,#0046f2,#006bf8,#0009d3,#001ae7,#002aed,#0060f6,#00d7e0,#00c3ee,#0013de,#0012dd,#0038ef,#003cf0,#0011dc,#008bf9,#00c5ed,#00d2e4,#00d6da,#00c2ef,#0066f7,#0026ec,#000dd8,#0005ce,#0004cd,#0016e1,#000dd7,#0000b8,#0000ac,#0000a4,#0000a0,#0000a0,#0000b6,#0000b9,#00009a,#00008f,#00008d,#00008d,#00008d,#00008d,#00008d,#00008d,#00008d,#00008d,#000094,#0000ad,#00009d,#00008d,#00008c,#00008c,#00008c,#00008c,#00008c,#00008c,#00008c,#00008c,#00008c,#00008b,#00008b,#00008b,#00008b,#00008b,#00008b,#00008b,#00008b,#00008b,#00008b,#00008b,#00008b,#00008a,#00008a,#00008a,#00008a,#00008a,#00008a,#00008a,#00008a,#00008a,#00008a,#00008a,#00008a,#000089,#000089,#000089,#000089,#00008a,#000089,#000089,#000089,#000089,#000089,#000089,#000089,#000088,#000088,#000088,#000088,#000088,#000088,#000088,#ffffff)"></i>
<i style="background:linear-gradient(90deg,#ccf5e3,#0fcb23,#a4e500,#cdea00,#b5e800,#2bd018,#00ca48,#00cb52,#00ca3e,#0036ef,#00bbf3,#00cfe6,#00c3ee,#004ef3,#004ef3,#004af2,#0064f7,#0006cf,#001ae6,#002ced,#005df6,#00d7e0,#00c2ef,#0010db,#000ed9,#0027ed,#0020eb,#0000c5,#0022ec,#002ced,#0019e5,#0066f7,#00c1f0,#00d6e2,#00d4e3,#00a5f7,#0059f5,#002bed,#0059f5,#0022ec,#0000c9,#0000b4,#0000a8,#0000a1,#0000a1,#0000b7,#0000b9,#00009a,#00008f,#00008d,#00008d,#00008d,#00008d,#00008d,#00008d,#00008d,#00008d,#000099,#0000bf,#0000a7,#00008e,#00008c,#00008c,#00008c,#00008c,#00008c,#00008c,#00008c,#00008c,#00008c,#00008b,#00008b,#00008b,#00008b,#00008b,#00008b,#00008b,#00008b,#00008b,#00008b,#00008b,#00008b,#00008a,#00008a,#00008a,#00008a,#00008a,#00008a,#00008a,#00008a,#00008a,#00008b,#00008b,#00008b,#00008a,#000089,#000089,#000089,#000089,#000089,#000089,#000089,#000089,#000089,#000089,#000089,#000088,#000088,#000088,#000088,#000088,#000088,#000088,#ffffff)"></i>
<i style="background:linear-gradient(90deg,#ccf5e3,#0ecb23,#a4e500,#ccea00,#b4e800,#2ad019,#00cb4a,#00cb53,#00ca3f,#0035ef,#00bcf3,#00cfe6,#00c3ef,#004bf2,#0051f3,#004df3,#005ef6,#0004cd,#001ae7,#002ded,#005bf5,#00d7e1,#00c2ef,#000fd9,#000dd7,#0023ec,#001ce9,#0000ba,#0019e6,#0017e2,#0000c2,#0000bd,#0007d0,#001ce8,#008bf9,#00bbf3,#00d0e6,#00d5cb,#00d19c,#00cee7,#0041f1,#0009d3,#0000b9,#0000aa,#0000a7,#0000bb,#0000bc,#00009c,#000090,#00008e,#00008d,#00008d,#00008d,#00008d,#00008d,#00008d,#00008d,#00009e,#0005ce,#0000b1,#00008f,#00008c,#00008c,#00008c,#00008c,#00008c,#00008c,#00008c,#00008c,#00008c,#00008b,#00008b,#00008b,#00008b,#00008b,#00008c,#00008b,#00008b,#00008b,#00008b,#00008b,#00008b,#00008a,#00008a,#00008a,#00008a,#00008a,#00008a,#00008a,#00008a,#00008b,#00008f,#000092,#00008f,#00008b,#00008a,#000089,#000089,#000089,#000089,#000089,#000089,#000089,#000089,#000089,#000089,#000089,#000089,#000088,#000088,#000088,#000088,#000088,#ffffff)"></i>
<i style="background:linear-gradient(90deg,#ccf5e3,#0eca23,#a4e500,#ccea00,#b4e800,#29cf19,#00cb4b,#00cb54,#00ca3f,#0035ef,#00bcf3,#00cee7,#00c2ef,#0048f2,#0053f4,#0050f3,#0059f5,#0003cc,#001be8,#002eee,#0059f5,#00d7e1,#00c2ef,#000ed8,#000cd6,#0022ec,#001ce8,#0000b7,#0018e4,#0014df,#0000b6,#0000a7,#0000ac,#0000b2,#000bd5,#0014df,#003ef0,#00b0f6,#00cf81,#00cc5d,#00d4c3,#00a4f7,#002bed,#0009d2,#0000c3,#0002cb,#0000c8,#0000a4,#000096,#000092,#000090,#00008f,#00008e,#00008e,#00008e,#00008d,#00008f,#0000a8,#000fda,#0000bd,#000090,#00008c,#00008c,#00008c,#00008c,#00008c,#00008c,#00008c,#00008c,#00008c,#00008b,#00008b,#00008b,#00008b,#00008d,#00008f,#00008d,#00008b,#00008b,#00008b,#00008b,#00008b,#00008b,#00008b,#00008b,#00008b,#00008b,#00008b,#00008b,#00008b,#00008f,#00009d,#0000a9,#00009c,#00008e,#00008b,#00008b,#00008b,#00008b,#00008b,#00008b,#00008a,#00008a,#00008b,#00008b,#00008c,#00008b,#00008b,#00008a,#00008a,#00008a,#00008b,#00008c,#ffffff)"></i>
<i style="background:linear-gradient(90deg,#ccf5e3,#0dca23,#a4e500,#cbea00,#b3e800,#28cf19,#00cb4d,#00cb55,#00ca40,#0034ef,#00bcf3,#00cee7,#00c1f0,#0046f2,#0056f4,#0053f4,#0054f4,#0002cb,#001ce8,#0030ee,#0057f5,#00d7e1,#00c2ef,#000dd7,#000bd5,#0021ec,#001ce8,#0000b5,#0018e4,#0014df,#0000b3,#0000a2,#0000a2,#0000a4,#0001c9,#0001ca,#0003cc,#000dd7,#0061f6,#008cf8,#00a3f7,#00c0f0,#00bff1,#00abf6,#0085f9,#0061f6,#0022ec,#0003cc,#0000b0,#0000a2,#00009b,#000098,#000096,#000094,#000093,#000092,#000096,#0000bf,#0020eb,#0002ca,#000092,#00008e,#00008d,#00008d,#00008d,#00008c,#00008c,#00008c,#00008c,#00008c,#00008c,#00008c,#00008c,#00008d,#000094,#00009e,#000098,#00008f,#00008d,#00008c,#00008c,#00008d,#00008e,#00008f,#00008f,#00008e,#00008d,#00008d,#00008f,#000092,#00009d,#0000c1,#0009d2,#0000bd,#00009a,#000092,#000093,#000095,#000096,#000095,#000093,#000091,#000091,#000093,#000096,#000098,#000097,#000094,#000090,#00008f,#000092,#000097,#00009a,#ffffff)"></i>
<i style="background:linear-gradient(90deg,#ccf5e3,#0cca24,#a4e500,#cbeb00,#b3e700,#28cf1a,#00cb4e,#00cc56,#00ca40,#0034ef,#00bcf3,#00cde7,#00c1f0,#0044f1,#0059f5,#0056f4,#0050f3,#0002ca,#001ce9,#0031ee,#0056f4,#00d7e1,#00c2ef,#000cd6,#000bd4,#0021eb,#001be8,#0000b4,#0018e4,#0014df,#0000b2,#0000a0,#0000a0,#0000a0,#0000c6,#0000c3,#0000c2,#0000c8,#0012dd,#000fd9,#0005ce,#000bd5,#001ae6,#005df5,#00b7f5,#00d5ce,#00d4c5,#00c1f0,#0078fa,#0021ec,#000cd6,#0001c9,#0000bb,#0000b2,#0000aa,#0000a4,#0000af,#0015e1,#0078fa,#000ed8,#00009c,#000096,#000094,#000092,#000091,#000090,#000090,#000091,#000092,#000092,#000091,#000091,#000091,#000095,#0000ac,#0002ca,#0000b9,#00009c,#000094,#000093,#000093,#000096,#00009c,#0000a1,#0000a2,#00009f,#00009a,#00009b,#0000a3,#0000b1,#0002ca,#0022ec,#0062f6,#001ae7,#0000c4,#0000b9,#0000c1,#0002ca,#0004cd,#0003cc,#0000c5,#0000bb,#0000b9,#0000c6,#0008d1,#000ed8,#000cd6,#0004cc,#0000bb,#0000b6,#0000c8,#000dd8,#0017e3,#ffffff)"></i>
<i style="background:linear-gradient(90deg,#ccf5e3,#0cca24,#a4e500,#caeb00,#b2e700,#27cf1a,#00cb50,#00cc57,#00ca41,#0034ef,#00bdf3,#00cde8,#00c0f0,#0042f1,#005bf5,#0059f5,#004cf3,#0001c9,#001dea,#0032ee,#0054f4,#00d7e1,#00c1ef,#000bd5,#000ad4,#0020eb,#001be8,#0000b2,#0018e4,#0014df,#0000b2,#0000a0,#00009f,#00009f,#0000c5,#0000c2,#0000bf,#0000bf,#0005ce,#0001c9,#0000b5,#0000b1,#0000b0,#0000b9,#0007d1,#0046f2,#00a4f7,#00c0f0,#00c9ea,#00c7ec,#00c0f1,#00b5f5,#00a4f7,#008ef8,#0067f7,#002dee,#0020eb,#0099f7,#00d2e5,#0044f1,#0000c7,#0000be,#0000b7,#0000ac,#0000a3,#00009f,#0000a1,#0000a5,#0000a8,#0000aa,#0000a8,#0000a7,#0000a7,#0000b1,#000ed8,#0051f3,#0020eb,#0004cd,#0000c2,#0000bd,#0000c0,#0006cf,#0015e1,#002fee,#0039f0,#001dea,#0010db,#0010da,#002bed,#0080f9,#00bef2,#00d4c4,#00d19d,#00cce8,#0087f9,#0084f9,#00a6f6,#00c1f0,#00c7ec,#00bef1,#0098f8,#0068f7,#0059f5,#0087f9,#00bef2,#00d0e6,#00c7ec,#0092f8,#003df0,#0024ec,#0065f7,#00b6f5,#00d0e6,#ffffff)"></i>
<i style="background:linear-gradient(90deg,#ccf5e3,#0bca24,#a4e500,#caeb00,#b2e700,#26cf1a,#00cb51,#00cc58,#00ca41,#0033ef,#00bdf2,#00cde8,#00bff1,#0040f1,#005df5,#005bf5,#0048f2,#0000c8,#001dea,#0033ef,#0052f4,#00d7e1,#00c1ef,#000ad4,#0009d3,#0020eb,#001be8,#0000b1,#0018e4,#0014df,#0000b2,#00009f,#00009f,#00009f,#0000c5,#0000c2,#0000be,#0000bc,#0000c2,#0000bb,#0000ad,#0000a7,#0000a3,#0000a2,#0000aa,#0001c9,#0008d1,#0003cb,#0008d1,#0013de,#002bed,#0068f7,#00a2f7,#00c6ec,#00d4e3,#00d3e4,#00d4e3,#00cf7e,#00c828,#00d6d2,#00b8f5,#00b9f5,#009ff7,#0068f7,#002aed,#001be7,#0026ec,#0049f2,#0065f7,#006df8,#0061f6,#0050f3,#004df3,#006ef8,#00c4ee,#00d095,#00d4bb,#00c0f0,#0094f8,#0069f7,#005ef6,#008bf9,#00bff1,#00cfe6,#00c2ef,#0085f9,#002aed,#0019e5,#0039f0,#007dfa,#00b0f6,#00d7de,#00d4be,#00baf4,#0050f3,#003cf0,#0053f4,#0069f7,#006af8,#004ff3,#0021ec,#0012dd,#000dd8,#0015e0,#0026ec,#0039f0,#0026ec,#0011dc,#0002ca,#0000c2,#0005ce,#0012dd,#001ae6,#ffffff)"></i>
<i style="background:linear-gradient(90deg,#ccf5e3,#0bca24,#a4e500,#c9eb00,#b1e700,#26cf1a,#00cb52,#00cc59,#00ca41,#0033ee,#00bdf2,#00cce8,#00bff1,#003ef0,#005ff6,#005ef6,#0045f1,#0000c7,#001eeb,#0034ef,#0051f4,#00d7e1,#00c1ef,#0009d3,#0009d2,#001feb,#001be8,#0000b0,#0018e4,#0014df,#0000b2,#00009f,#00009f,#00009f,#0000c6,#0000c2,#0000be,#0000ba,#0000ba,#0000b4,#0000aa,#0000a4,#00009f,#00009d,#0000a1,#0000b9,#0000bf,#0000a4,#00009c,#00009e,#0000a3,#0000ac,#0000ba,#0003cb,#000dd7,#0017e2,#004ff3,#00d6e2,#00ce79,#00c6ec,#0095f8,#00aef6,#00adf6,#008cf8,#0063f7,#005ef6,#0089f9,#00bbf3,#00cbe9,#00c9ea,#00baf4,#0097f8,#0084f9,#008ff8,#00cce8,#00d199,#00d6d9,#0089f9,#0034ef,#0012dd,#000ad4,#000cd7,#0011dc,#0011db,#0008d1,#0000bf,#0000a9,#0000a2,#0000a7,#0000b0,#0000c6,#001ae7,#0051f3,#0014df,#0000b3,#0000a4,#0000a5,#0000a7,#0000a7,#0000a4,#00009e,#000099,#000097,#00009a,#00009e,#0000a0,#00009e,#000098,#000093,#000091,#000094,#000098,#00009b,#ffffff)"></i>
<i style="background:linear-gradient(90deg,#ccf5e3,#0aca24,#a4e500,#c9eb00,#b1e700,#25cf1a,#00cb53,#00cc5a,#00ca41,#0033ee,#00bdf2,#00cce8,#00bef1,#003df0,#0061f6,#0060f6,#0042f1,#0000c5,#001feb,#0035ef,#0050f3,#00d6e1,#00c1f0,#0009d2,#0008d2,#001feb,#001be8,#0000af,#0018e4,#0014df,#0000b1,#00009f,#00009f,#00009f,#0000c6,#0000c2,#0000be,#0000ba,#0000b6,#0000b1,#0000a9,#0000a3,#00009e,#00009c,#00009e,#0000b5,#0000b8,#00009b,#000092,#000091,#000092,#000093,#000096,#000099,#00009c,#0000a0,#0000bd,#004af2,#00baf4,#0021ec,#0000ba,#0000ba,#0000bc,#0000b8,#0000b2,#0000b4,#0000c0,#0003cc,#0007d0,#0005ce,#0000c9,#0000be,#0000b7,#0000bd,#0011db,#004ff3,#0019e5,#0000ba,#0000a3,#00009b,#000098,#000098,#00009a,#00009a,#000098,#000093,#000090,#00008e,#00008f,#000092,#00009c,#0000bf,#0008d1,#0000bb,#000098,#00008f,#00008f,#00008f,#00008f,#00008e,#00008d,#00008c,#00008c,#00008c,#00008d,#00008d,#00008d,#00008c,#00008a,#00008a,#00008a,#00008b,#00008c,#ffffff)"></i>
<i style="background:linear-gradient(90deg,#ccf5e3,#0aca24,#a4e500,#c9eb00,#b1e700,#25cf1b,#00cb54,#00cc5a,#00ca42,#0032ee,#00bdf2,#00cce9,#00bef2,#003bf0,#0062f6,#0061f6,#003ff1,#0000c4,#0020eb,#0036ef,#004ff3,#00d6e1,#00c1f0,#0008d2,#0008d1,#001feb,#001be8,#0000ae,#0018e4,#0014df,#0000b1,#00009f,#00009e,#00009e,#0000c6,#0000c2,#0000be,#0000b9,#0000b4,#0000af,#0000a9,#0000a3,#00009e,#00009b,#00009e,#0000b3,#0000b5,#000099,#00008f,#00008e,#00008e,#00008e,#00008e,#00008f,#000090,#000091,#00009e,#000ad3,#005ff6,#000bd5,#000099,#000095,#000095,#000094,#000093,#000093,#000095,#000097,#000099,#000098,#000096,#000094,#000093,#000096,#0000ad,#0002ca,#0000b7,#000098,#000090,#00008e,#00008d,#00008d,#00008e,#00008e,#00008d,#00008c,#00008b,#00008b,#00008b,#00008b,#00008f,#00009d,#0000a8,#00009c,#00008e,#00008a,#00008a,#00008a,#00008a,#00008a,#00008a,#000089,#000089,#000089,#000089,#000089,#000089,#000089,#000089,#000088,#000088,#000088,#000088,#ffffff)"></i>
<i style="background:linear-gradient(90deg,#ccf5e4,#0aca24,#a5e500,#c8eb00,#b0e700,#25cf1b,#00cb54,#00cc5b,#00ca42,#0032ee,#00bdf2,#00cbe9,#00bef2,#003af0,#0063f7,#0063f6,#003df0,#0000c3,#0021ec,#0036ef,#004ef3,#00d6e2,#00c1f0,#0008d1,#0007d1,#001feb,#001be7,#0000ae,#0018e4,#0014df,#0000b1,#00009e,#00009e,#00009e,#0000c6,#0000c2,#0000bd,#0000b9,#0000b4,#0000ae,#0000a8,#0000a2,#00009e,#00009b,#00009d,#0000b1,#0000b3,#000098,#00008f,#00008d,#00008d,#00008d,#00008d,#00008d,#00008d,#00008d,#000092,#0000b8,#0028ed,#0004cd,#000092,#00008e,#00008e,#00008d,#00008d,#00008d,#00008d,#00008e,#00008e,#00008e,#00008d,#00008d,#00008d,#00008e,#000094,#00009e,#000097,#00008e,#00008c,#00008b,#00008b,#00008b,#00008b,#00008b,#00008b,#00008a,#00008a,#00008a,#00008a,#00008a,#00008b,#00008f,#000092,#00008f,#00008b,#000089,#000089,#000089,#000089,#000089,#000089,#000089,#000089,#000089,#000089,#000089,#000088,#000088,#000088,#000088,#000088,#000088,#000088,#ffffff)"></i>
<i style="background:linear-gradient(90deg,#ccf5e4,#0aca25,#a5e500,#c8eb00,#b0e700,#24cf1b,#00cb55,#00cc5b,#00ca42,#0032ee,#00bdf2,#00cbe9,#00bdf2,#0039f0,#0064f7,#0064f7,#003bf0,#0000c2,#0022ec,#0037ef,#004df3,#00d6e2,#00c1f0,#0007d1,#0007d0,#001eeb,#001be7,#0000ad,#0018e4,#0014df,#0000b1,#00009e,#00009e,#00009e,#0000c6,#0000c2,#0000bd,#0000b9,#0000b3,#0000ae,#0000a8,#0000a2,#00009d,#00009b,#00009c,#0000ad,#0000ae,#000097,#00008f,#00008d,#00008d,#00008d,#00008d,#00008d,#00008d,#00008d,#00008e,#0000ac,#001ce8,#0002ca,#000091,#00008c,#00008c,#00008c,#00008c,#00008c,#00008c,#00008c,#00008c,#00008c,#00008c,#00008c,#00008b,#00008c,#00008d,#00008f,#00008d,#00008b,#00008b,#00008b,#00008b,#00008b,#00008a,#00008a,#00008a,#00008a,#00008a,#00008a,#00008a,#00008a,#00008a,#00008b,#00008b,#00008b,#00008a,#000089,#000089,#000089,#000089,#000089,#000089,#000089,#000089,#000089,#000089,#000089,#000088,#000088,#000088,#000088,#000088,#000088,#000088,#ffffff)"></i>
<i style="background:linear-gradient(90deg,#ccf5e4,#09ca25,#a5e500,#c8eb00,#b0e700,#24cf1b,#00cb55,#00cc5b,#00ca42,#0032ee,#00bef2,#00cbe9,#00bdf2,#0039ef,#0065f7,#0065f7,#003af0,#0000c2,#0023ec,#0037ef,#004df3,#00d6e2,#00c1f0,#0007d0,#0007d0,#001eeb,#001be7,#0000ac,#0018e4,#0014df,#0000b1,#00009e,#00009e,#00009e,#0000c6,#0000c2,#0000bd,#0000b8,#0000b3,#0000ad,#0000a8,#0000a2,#00009d,#00009b,#00009c,#0000a8,#0000a9,#000096,#00008f,#00008d,#00008d,#00008d,#00008d,#00008d,#00008d,#00008d,#00008e,#0000aa,#001ae6,#0001c9,#000090,#00008c,#00008c,#00008c,#00008c,#00008c,#00008c,#00008c,#00008c,#00008c,#00008b,#00008b,#00008b,#00008b,#00008b,#00008c,#00008b,#00008b,#00008b,#00008b,#00008b,#00008b,#00008a,#00008a,#00008a,#00008a,#00008a,#00008a,#00008a,#00008a,#00008a,#00008a,#00008a,#00008a,#000089,#000089,#000089,#000089,#000089,#000089,#000089,#000089,#000089,#000089,#000089,#000089,#000088,#000088,#000088,#000088,#000088,#000088,#000088,#ffffff)"></i>
<i style="background:linear-gradient(90deg,#ccf5e4,#09ca25,#a5e500,#c8eb00,#b0e700,#24cf1b,#00cc56,#00cc5c,#00ca42,#0032ee,#00bef2,#00cbe9,#00bdf2,#0038ef,#0066f7,#0066f7,#0039ef,#0000c1,#0023ec,#0037ef,#004cf3,#00d5e2,#00c0f0,#0007d0,#0007d0,#001eeb,#001be7,#0000ac,#0018e4,#0014df,#0000b1,#00009e,#00009e,#00009e,#0000c7,#0000c2,#0000bd,#0000b8,#0000b3,#0000ad,#0000a7,#0000a2,#00009d,#00009b,#00009b,#0000a3,#0000a3,#000095,#00008f,#00008d,#00008d,#00008d,#00008d,#00008d,#00008d,#00008d,#00008d,#0000a9,#0019e5,#0001c9,#000090,#00008c,#00008c,#00008c,#00008c,#00008c,#00008c,#00008c,#00008c,#00008c,#00008b,#00008b,#00008b,#00008b,#00008b,#00008b,#00008b,#00008b,#00008b,#00008b,#00008b,#00008b,#00008a,#00008a,#00008a,#00008a,#00008a,#00008a,#00008a,#00008a,#00008a,#00008a,#00008a,#00008a,#000089,#000089,#000089,#000089,#000089,#000089,#000089,#000089,#000089,#000089,#000089,#000089,#000088,#000088,#000088,#000088,#000088,#000088,#000088,#ffffff)"></i>
<i style="background:linear-gradient(90deg,#ccf5e4,#09ca25,#a5e500,#c8eb00,#b0e700,#24cf1b,#00cc56,#00cc5c,#00ca42,#0032ee,#00bef2,#00cbe9,#00bdf2,#0038ef,#0066f7,#0066f7,#0038ef,#0000c1,#0023ec,#0038ef,#004cf3,#00d4e3,#00c0f0,#0007d0,#0007d0,#001eeb,#001be7,#0000ac,#0018e4,#0014df,#0000b1,#00009e,#00009e,#00009e,#0000c7,#0000c2,#0000bd,#0000b8,#0000b3,#0000ad,#0000a7,#0000a2,#00009d,#00009b,#00009a,#00009e,#00009d,#000093,#00008f,#00008d,#00008d,#00008d,#00008d,#00008d,#00008d,#00008d,#00008d,#0000a8,#0018e4,#0000c8,#000090,#00008c,#00008c,#00008c,#00008c,#00008c,#00008c,#00008c,#00008c,#00008c,#00008b,#00008b,#00008b,#00008b,#00008b,#00008b,#00008b,#00008b,#00008b,#00008b,#00008b,#00008b,#00008a,#00008a,#00008a,#00008a,#00008a,#00008a,#00008a,#00008a,#00008a,#00008a,#00008a,#00008a,#000089,#000089,#000089,#000089,#000089,#000089,#000089,#000089,#000089,#000089,#000089,#000089,#000088,#000088,#000088,#000088,#000088,#000088,#000088,#ffffff)"></i>
<i style="background:linear-gradient(90deg,#ccf5e3,#0aca24,#a5e500,#c8eb00,#b0e700,#25cf1b,#00cb55,#00cc5b,#00ca42,#0032ee,#00bef2,#00cbe9,#00bdf2,#0038ef,#0066f7,#0066f7,#0038ef,#0000c1,#0024ec,#0038ef,#004bf3,#00d3e4,#00bff1,#0007d0,#0007d0,#001eeb,#001be7,#0000ac,#0018e4,#0014e0,#0000b1,#00009e,#00009e,#00009e,#0000c7,#0000c2,#0000bd,#0000b8,#0000b3,#0000ad,#0000a8,#0000a2,#00009d,#00009b,#000099,#00009b,#00009a,#000093,#00008f,#00008d,#00008d,#00008d,#00008d,#00008d,#00008d,#00008d,#00008e,#0000a7,#0016e2,#0000c6,#000090,#00008c,#00008c,#00008c,#00008c,#00008c,#00008c,#00008c,#00008c,#00008c,#00008c,#00008c,#00008c,#00008b,#00008b,#00008b,#00008b,#00008b,#00008b,#00008b,#00008b,#00008b,#00008b,#00008b,#00008b,#00008a,#00008a,#00008a,#00008a,#00008a,#00008a,#00008a,#00008a,#00008a,#00008a,#00008a,#00008a,#000089,#000089,#000089,#000089,#000089,#000089,#000089,#000089,#000089,#000089,#000089,#000089,#000088,#000088,#000088,#000088,#ffffff)"></i>
<i style="background:linear-gradient(90deg,#ccf5df,#1ecd1d,#b6e800,#d2e900,#c1ea00,#39d213,#00ca3d,#00ca43,#00c82a,#003df0,#00c1ef,#00cfe6,#00c1f0,#0043f1,#0071f9,#0071f9,#0043f1,#0001c9,#002eee,#0043f1,#0055f4,#00d3e4,#00c1f0,#000ad4,#000bd4,#0029ed,#0020eb,#0000b5,#001ce8,#0018e4,#0000ba,#0000a7,#0000a7,#0000a7,#0003cc,#0001c9,#0000c6,#0000c1,#0000bb,#0000b6,#0000b0,#0000aa,#0000a6,#0000a3,#0000a2,#0000a1,#00009f,#00009b,#000097,#000096,#000096,#000096,#000096,#000096,#000096,#000095,#000096,#0000ae,#0016e2,#0001c9,#000098,#000095,#000095,#000095,#000095,#000095,#000095,#000094,#000094,#000094,#000094,#000094,#000094,#000094,#000094,#000094,#000094,#000094,#000094,#000093,#000093,#000093,#000093,#000093,#000093,#000093,#000093,#000093,#000093,#000093,#000093,#000092,#000092,#000092,#000092,#000092,#000092,#000092,#000092,#000092,#000092,#000092,#000092,#000091,#000091,#000091,#000091,#000091,#000091,#000091,#000091,#000091,#000091,#ffffff)"></i>
<i style="background:linear-gradient(90deg,#daf7cf,#8ae100,#f6e300,#ffd000,#fde100,#a0e400,#60d905,#5bd907,#70dc00,#007bfa,#00d6e2,#00d5ca,#00d6e2,#007ff9,#00a0f7,#00a0f7,#007ff9,#0016e1,#006df8,#007ff9,#008bf9,#00d5ca,#00d3e4,#0022ec,#0022ec,#0068f7,#005ef6,#000dd7,#0055f4,#004af2,#000fd9,#0007d0,#0007d0,#0007d0,#0018e4,#0016e2,#0014df,#0012dd,#000fda,#000dd7,#000bd4,#0008d1,#0006cf,#0005ce,#0004cd,#0004cc,#0003cb,#0001c9,#0000c8,#0000c6,#0000c6,#0000c6,#0000c6,#0000c6,#0000c6,#0000c6,#0000c7,#0008d2,#0033ef,#0013de,#0000c8,#0000c5,#0000c5,#0000c5,#0000c5,#0000c5,#0000c5,#0000c5,#0000c5,#0000c5,#0000c5,#0000c5,#0000c5,#0000c4,#0000c4,#0000c4,#0000c4,#0000c4,#0000c4,#0000c4,#0000c4,#0000c4,#0000c4,#0000c4,#0000c4,#0000c3,#0000c3,#0000c3,#0000c3,#0000c3,#0000c3,#0000c3,#0000c3,#0000c3,#0000c3,#0000c3,#0000c3,#0000c2,#0000c2,#0000c2,#0000c2,#0000c2,#0000c2,#0000c2,#0000c2,#0000c2,#0000c2,#0000c2,#0000c2,#0000c1,#0000c1,#0000c1,#0000c1,#ffffff)"></i>
<i style="background:linear-gradient(90deg,#e3f8cc,#b3e700,#ffcc00,#ffaf00,#ffc200,#c8eb00,#8be100,#87e000,#99e300,#008ef8,#00d6d2,#00d3b9,#00d6d3,#0092f8,#00b4f5,#00b4f5,#0093f8,#0020eb,#0083f9,#0092f8,#009df7,#00d4c5,#00d7df,#003cf0,#003df0,#0080f9,#0079fa,#0016e1,#0070f9,#0065f7,#0018e4,#0010da,#0010da,#0010da,#0027ec,#0021eb,#001dea,#001be7,#0018e4,#0016e2,#0014df,#0011dc,#000fda,#000ed8,#000dd7,#000cd6,#000bd5,#000ad4,#0009d2,#0008d2,#0008d2,#0008d2,#0008d2,#0008d2,#0008d2,#0008d1,#0008d2,#000fda,#0037ef,#0018e4,#0009d2,#0008d1,#0008d1,#0008d1,#0008d1,#0008d1,#0008d1,#0008d1,#0008d1,#0008d1,#0008d1,#0008d1,#0008d1,#0007d1,#0007d1,#0007d1,#0007d1,#0007d1,#0007d1,#0007d0,#0007d0,#0007d0,#0007d0,#0007d0,#0007d0,#0007d0,#0007d0,#0007d0,#0007d0,#0007d0,#0007d0,#0007d0,#0007d0,#0007d0,#0007d0,#0007d0,#0007d0,#0007d0,#0007d0,#0007d0,#0007d0,#0006d0,#0006d0,#0006cf,#0006cf,#0006cf,#0006cf,#0006cf,#0006cf,#0006cf,#0006cf,#0006cf,#0006cf,#ffffff)"></i></div>
<svg width="448" height="252" viewBox="0 0 448 252" style="position:absolute;left:0;top:0">
<defs><radialGradient id="rg" gradientUnits="userSpaceOnUse" cx="0" cy="0" r="82"><stop offset="0.0000" stop-color="#008cf8"/><stop offset="0.0427" stop-color="#0098f8"/><stop offset="0.0671" stop-color="#00bff1"/><stop offset="0.0854" stop-color="#00d7e1"/><stop offset="0.1049" stop-color="#00d090"/><stop offset="0.1280" stop-color="#21ce1c"/><stop offset="0.1622" stop-color="#c8eb00"/><stop offset="0.1927" stop-color="#ffe100"/><stop offset="0.2317" stop-color="#ff9600"/><stop offset="0.2585" stop-color="#fc2d00"/><stop offset="0.2744" stop-color="#ef0d00"/><stop offset="0.3146" stop-color="#e90600"/><stop offset="0.3561" stop-color="#ef0d00"/><stop offset="0.3732" stop-color="#fc2d00"/><stop offset="0.4000" stop-color="#ff9600"/><stop offset="0.4354" stop-color="#ffe100"/><stop offset="0.4610" stop-color="#c8eb00"/><stop offset="0.4963" stop-color="#16cc20"/><stop offset="0.5207" stop-color="#00d19d"/><stop offset="0.5427" stop-color="#00cbe9"/><stop offset="0.5646" stop-color="#0085f9"/><stop offset="0.5951" stop-color="#0030ee"/><stop offset="0.6305" stop-color="#000bd5"/><stop offset="0.6817" stop-color="#0000ba"/><stop offset="0.7317" stop-color="#0000a6"/><stop offset="0.8293" stop-color="#000096"/><stop offset="1.0000" stop-color="#00008a"/></radialGradient>
<linearGradient id="cb" x1="0" y1="0" x2="0" y2="1"><stop offset="0.000" stop-color="#be0000"/><stop offset="0.035" stop-color="#e80500"/><stop offset="0.065" stop-color="#f00e00"/><stop offset="0.100" stop-color="#fc2d00"/><stop offset="0.200" stop-color="#ff9600"/><stop offset="0.300" stop-color="#ffe100"/><stop offset="0.400" stop-color="#c8eb00"/><stop offset="0.500" stop-color="#6edc00"/><stop offset="0.600" stop-color="#00c828"/><stop offset="0.700" stop-color="#00d2aa"/><stop offset="0.750" stop-color="#00d7e1"/><stop offset="0.800" stop-color="#00b9f5"/><stop offset="0.850" stop-color="#0078fa"/><stop offset="0.900" stop-color="#001eeb"/><stop offset="0.950" stop-color="#0000c8"/><stop offset="1.000" stop-color="#000082"/></linearGradient>
<clipPath id="ca"><rect x="24" y="64" width="114" height="112.4"/></clipPath>
<filter id="bl" x="-5%" y="-5%" width="110%" height="110%"><feGaussianBlur stdDeviation="0.35"/></filter>
</defs>
<g filter="url(#bl)"><g clip-path="url(#ca)"><g transform="translate(81 120.2) scale(1 0.985965)"><rect x="-60" y="-60" width="120" height="120" fill="url(#rg)"/></g></g></g>
<g filter="url(#bl)">
<rect x="163.5" y="64.5" width="113.2" height="112.3" fill="none" stroke="#999" stroke-width="1"/>
<path d="M186.1 176.8v-1.6" stroke="#888" stroke-width=".8"/>
<path d="M208.8 176.8v-1.6" stroke="#888" stroke-width=".8"/>
<path d="M231.4 176.8v-1.6" stroke="#888" stroke-width=".8"/>
<path d="M254.1 176.8v-1.6" stroke="#888" stroke-width=".8"/>
<path d="M163.5 162.8h1.6M276.7 162.8h-2.2" stroke="#999" stroke-width=".8"/>
<path d="M163.5 148.7h1.6M276.7 148.7h-2.2" stroke="#999" stroke-width=".8"/>
<path d="M163.5 134.7h1.6M276.7 134.7h-2.2" stroke="#999" stroke-width=".8"/>
<path d="M163.5 120.7h1.6M276.7 120.7h-2.2" stroke="#999" stroke-width=".8"/>
<path d="M163.5 106.6h1.6M276.7 106.6h-2.2" stroke="#999" stroke-width=".8"/>
<path d="M163.5 92.6h1.6M276.7 92.6h-2.2" stroke="#999" stroke-width=".8"/>
<path d="M163.5 78.5h1.6M276.7 78.5h-2.2" stroke="#999" stroke-width=".8"/>
<path d="M163.5 78.6C169.6 78.6 192.8 78.6 200.0 78.6C207.2 78.6 204.5 78.5 207.0 78.5C209.5 78.5 212.2 78.5 215.0 78.4C217.8 78.3 221.3 78.3 224.0 78.0C226.7 77.7 228.6 77.0 231.0 76.5C233.4 76.0 236.0 75.3 238.3 74.7C240.6 74.1 242.6 73.5 245.0 73.0C247.4 72.5 250.2 72.0 252.6 71.7C255.0 71.4 257.5 71.2 259.7 71.1C261.9 71.0 263.2 71.0 266.0 71.3C268.8 71.5 274.9 72.4 276.7 72.6" fill="none" stroke="#9a9a9a" stroke-width=".85"/>
<path d="M163.5 78.6C169.6 78.6 192.8 78.6 200.0 78.6C207.2 78.6 204.5 78.5 207.0 78.5C209.5 78.5 212.2 78.5 215.0 78.4C217.8 78.3 221.3 78.3 224.0 78.0C226.7 77.7 228.6 77.0 231.0 76.5C233.4 76.0 236.0 75.3 238.3 74.7C240.6 74.1 242.6 73.5 245.0 73.0C247.4 72.5 250.2 72.0 252.6 71.7C255.0 71.4 257.5 71.2 259.7 71.1C261.9 71.0 263.2 71.0 266.0 71.3C268.8 71.5 274.9 72.4 276.7 72.6" fill="none" stroke="#2a2a2a" stroke-width=".85" stroke-dasharray="1.6 1.1"/>
<path d="M163.5 92.6C169.2 92.6 191.0 92.7 198.0 92.6C205.0 92.5 203.4 92.5 205.7 92.2C208.0 91.9 209.9 91.2 212.0 90.5C214.1 89.8 216.0 89.0 218.0 88.3C220.0 87.6 221.8 87.1 224.0 86.4C226.2 85.8 228.6 84.9 231.0 84.4C233.4 83.9 236.0 83.7 238.3 83.6C240.6 83.5 242.6 83.8 245.0 84.0C247.4 84.2 249.8 84.7 252.6 85.0C255.4 85.3 258.0 85.6 262.0 85.9C266.0 86.2 274.2 86.9 276.7 87.1" fill="none" stroke="#9a9a9a" stroke-width=".85"/>
<path d="M163.5 92.6C169.2 92.6 191.0 92.7 198.0 92.6C205.0 92.5 203.4 92.5 205.7 92.2C208.0 91.9 209.9 91.2 212.0 90.5C214.1 89.8 216.0 89.0 218.0 88.3C220.0 87.6 221.8 87.1 224.0 86.4C226.2 85.8 228.6 84.9 231.0 84.4C233.4 83.9 236.0 83.7 238.3 83.6C240.6 83.5 242.6 83.8 245.0 84.0C247.4 84.2 249.8 84.7 252.6 85.0C255.4 85.3 258.0 85.6 262.0 85.9C266.0 86.2 274.2 86.9 276.7 87.1" fill="none" stroke="#2a2a2a" stroke-width=".85" stroke-dasharray="1.6 1.1"/>
<path d="M163.5 106.0C164.2 106.0 166.2 105.9 168.0 105.7C169.8 105.5 172.1 105.3 174.3 104.9C176.5 104.5 179.0 103.8 181.4 103.2C183.8 102.6 186.2 102.1 188.6 101.3C191.0 100.5 193.3 99.4 195.7 98.5C198.1 97.6 200.8 96.6 202.9 96.0C205.0 95.4 206.3 95.1 208.0 94.8C209.7 94.5 211.2 94.3 212.9 94.3C214.6 94.3 216.2 94.4 218.0 94.6C219.8 94.8 220.6 94.9 224.0 95.4C227.4 95.9 233.5 96.7 238.3 97.4C243.1 98.2 247.8 99.1 252.6 99.9C257.4 100.7 262.9 101.4 266.9 102.0C270.9 102.6 275.1 103.2 276.7 103.4" fill="none" stroke="#9a9a9a" stroke-width=".85"/>
<path d="M163.5 106.0C164.2 106.0 166.2 105.9 168.0 105.7C169.8 105.5 172.1 105.3 174.3 104.9C176.5 104.5 179.0 103.8 181.4 103.2C183.8 102.6 186.2 102.1 188.6 101.3C191.0 100.5 193.3 99.4 195.7 98.5C198.1 97.6 200.8 96.6 202.9 96.0C205.0 95.4 206.3 95.1 208.0 94.8C209.7 94.5 211.2 94.3 212.9 94.3C214.6 94.3 216.2 94.4 218.0 94.6C219.8 94.8 220.6 94.9 224.0 95.4C227.4 95.9 233.5 96.7 238.3 97.4C243.1 98.2 247.8 99.1 252.6 99.9C257.4 100.7 262.9 101.4 266.9 102.0C270.9 102.6 275.1 103.2 276.7 103.4" fill="none" stroke="#2a2a2a" stroke-width=".85" stroke-dasharray="1.6 1.1"/>
<path d="M163.5 106.4C166.5 106.4 176.0 106.3 181.4 106.4C186.8 106.5 192.1 106.6 195.7 106.8C199.3 107.0 200.5 107.1 202.9 107.4C205.3 107.7 207.7 108.1 210.0 108.4C212.3 108.7 214.7 109.1 217.0 109.4C219.3 109.7 220.4 109.8 224.0 110.4C227.6 111.0 233.5 112.2 238.3 113.1C243.1 114.0 247.8 115.2 252.6 116.0C257.4 116.8 262.9 117.6 266.9 118.1C270.9 118.6 275.1 118.9 276.7 119.1" fill="none" stroke="#9a9a9a" stroke-width=".85"/>
<path d="M163.5 106.4C166.5 106.4 176.0 106.3 181.4 106.4C186.8 106.5 192.1 106.6 195.7 106.8C199.3 107.0 200.5 107.1 202.9 107.4C205.3 107.7 207.7 108.1 210.0 108.4C212.3 108.7 214.7 109.1 217.0 109.4C219.3 109.7 220.4 109.8 224.0 110.4C227.6 111.0 233.5 112.2 238.3 113.1C243.1 114.0 247.8 115.2 252.6 116.0C257.4 116.8 262.9 117.6 266.9 118.1C270.9 118.6 275.1 118.9 276.7 119.1" fill="none" stroke="#2a2a2a" stroke-width=".85" stroke-dasharray="1.6 1.1"/>
<path d="M163.5 120.6C166.5 120.6 177.2 120.8 181.4 120.9C185.6 121.0 186.2 121.1 188.6 121.3C191.0 121.5 193.3 121.7 195.7 122.0C198.1 122.3 200.5 122.7 202.9 123.1C205.3 123.5 207.7 123.9 210.0 124.3C212.3 124.7 214.7 125.1 217.0 125.6C219.3 126.0 220.4 126.2 224.0 127.0C227.6 127.8 233.5 129.3 238.3 130.4C243.1 131.5 247.8 132.5 252.6 133.3C257.4 134.1 262.9 134.7 266.9 135.0C270.9 135.3 275.1 135.3 276.7 135.4" fill="none" stroke="#9a9a9a" stroke-width=".85"/>
<path d="M163.5 120.6C166.5 120.6 177.2 120.8 181.4 120.9C185.6 121.0 186.2 121.1 188.6 121.3C191.0 121.5 193.3 121.7 195.7 122.0C198.1 122.3 200.5 122.7 202.9 123.1C205.3 123.5 207.7 123.9 210.0 124.3C212.3 124.7 214.7 125.1 217.0 125.6C219.3 126.0 220.4 126.2 224.0 127.0C227.6 127.8 233.5 129.3 238.3 130.4C243.1 131.5 247.8 132.5 252.6 133.3C257.4 134.1 262.9 134.7 266.9 135.0C270.9 135.3 275.1 135.3 276.7 135.4" fill="none" stroke="#2a2a2a" stroke-width=".85" stroke-dasharray="1.6 1.1"/>
<path d="M163.5 134.7C165.3 134.7 171.3 134.7 174.3 134.8C177.3 134.9 179.0 135.1 181.4 135.4C183.8 135.7 186.2 136.3 188.6 136.8C191.0 137.3 193.3 137.8 195.7 138.4C198.1 139.0 200.5 139.8 202.9 140.4C205.3 141.1 207.7 141.7 210.0 142.3C212.3 142.9 214.7 143.6 217.0 144.2C219.3 144.8 220.4 145.0 224.0 145.7C227.6 146.4 233.5 147.9 238.3 148.6C243.1 149.3 247.8 149.8 252.6 150.1C257.4 150.4 262.9 150.5 266.9 150.6C270.9 150.7 275.1 150.4 276.7 150.4" fill="none" stroke="#9a9a9a" stroke-width=".85"/>
<path d="M163.5 134.7C165.3 134.7 171.3 134.7 174.3 134.8C177.3 134.9 179.0 135.1 181.4 135.4C183.8 135.7 186.2 136.3 188.6 136.8C191.0 137.3 193.3 137.8 195.7 138.4C198.1 139.0 200.5 139.8 202.9 140.4C205.3 141.1 207.7 141.7 210.0 142.3C212.3 142.9 214.7 143.6 217.0 144.2C219.3 144.8 220.4 145.0 224.0 145.7C227.6 146.4 233.5 147.9 238.3 148.6C243.1 149.3 247.8 149.8 252.6 150.1C257.4 150.4 262.9 150.5 266.9 150.6C270.9 150.7 275.1 150.4 276.7 150.4" fill="none" stroke="#2a2a2a" stroke-width=".85" stroke-dasharray="1.6 1.1"/>
<path d="M163.5 148.8C164.2 148.9 166.2 148.9 168.0 149.2C169.8 149.5 172.1 149.8 174.3 150.4C176.5 151.0 179.0 151.8 181.4 152.6C183.8 153.4 186.2 154.5 188.6 155.4C191.0 156.3 193.3 157.3 195.7 158.2C198.1 159.1 200.5 159.9 202.9 160.7C205.3 161.5 207.7 162.4 210.0 163.1C212.3 163.8 214.7 164.2 217.0 164.6C219.3 165.0 221.7 165.2 224.0 165.4C226.3 165.6 228.6 165.7 231.0 165.7C233.4 165.7 234.7 165.5 238.3 165.3C241.9 165.1 247.8 164.8 252.6 164.6C257.4 164.4 262.9 164.2 266.9 164.0C270.9 163.8 275.1 163.8 276.7 163.7" fill="none" stroke="#9a9a9a" stroke-width=".85"/>
<path d="M163.5 148.8C164.2 148.9 166.2 148.9 168.0 149.2C169.8 149.5 172.1 149.8 174.3 150.4C176.5 151.0 179.0 151.8 181.4 152.6C183.8 153.4 186.2 154.5 188.6 155.4C191.0 156.3 193.3 157.3 195.7 158.2C198.1 159.1 200.5 159.9 202.9 160.7C205.3 161.5 207.7 162.4 210.0 163.1C212.3 163.8 214.7 164.2 217.0 164.6C219.3 165.0 221.7 165.2 224.0 165.4C226.3 165.6 228.6 165.7 231.0 165.7C233.4 165.7 234.7 165.5 238.3 165.3C241.9 165.1 247.8 164.8 252.6 164.6C257.4 164.4 262.9 164.2 266.9 164.0C270.9 163.8 275.1 163.8 276.7 163.7" fill="none" stroke="#2a2a2a" stroke-width=".85" stroke-dasharray="1.6 1.1"/>
</g>
<g filter="url(#bl)"><rect x="427" y="68" width="4.8" height="106.4" fill="url(#cb)"/>
<path d="M427.0 153.1h4.8" stroke="#333" stroke-opacity=".55" stroke-width=".8"/>
<path d="M427.0 131.8h4.8" stroke="#333" stroke-opacity=".55" stroke-width=".8"/>
<path d="M427.0 110.6h4.8" stroke="#333" stroke-opacity=".55" stroke-width=".8"/>
<path d="M427.0 89.3h4.8" stroke="#333" stroke-opacity=".55" stroke-width=".8"/>
</g>
<rect x="303.3" y="63.4" width="113.2" height="112.6" fill="none" stroke="#bbb" stroke-opacity=".6" stroke-width=".6"/>
<text x="24.3" y="57.4" font-family="Liberation Sans, Arial, sans-serif" font-size="8.1" fill="#222">(a)</text>
<text x="166.4" y="57.4" font-family="Liberation Sans, Arial, sans-serif" font-size="8.1" fill="#222">(b)</text>
<text x="306.4" y="57.4" font-family="Liberation Sans, Arial, sans-serif" font-size="8.1" fill="#222">(c)</text>
<text x="22.9" y="186.0" text-anchor="middle" font-family="Liberation Sans, Arial, sans-serif" font-size="8.6" fill="#111" stroke="#111" stroke-width=".12" >-2</text>
<text x="51.8" y="186.0" text-anchor="middle" font-family="Liberation Sans, Arial, sans-serif" font-size="8.6" fill="#111" stroke="#111" stroke-width=".12" >-1</text>
<text x="81.6" y="186.0" text-anchor="middle" font-family="Liberation Sans, Arial, sans-serif" font-size="8.6" fill="#111" stroke="#111" stroke-width=".12" >0</text>
<text x="109.1" y="186.0" text-anchor="middle" font-family="Liberation Sans, Arial, sans-serif" font-size="8.6" fill="#111" stroke="#111" stroke-width=".12" >1</text>
<text x="137.5" y="186.0" text-anchor="middle" font-family="Liberation Sans, Arial, sans-serif" font-size="8.6" fill="#111" stroke="#111" stroke-width=".12" >2</text>
<text x="20.8" y="67.8" text-anchor="end" font-family="Liberation Sans, Arial, sans-serif" font-size="8.6" fill="#111" stroke="#111" stroke-width=".12" >2</text>
<text x="20.8" y="95.9" text-anchor="end" font-family="Liberation Sans, Arial, sans-serif" font-size="8.6" fill="#111" stroke="#111" stroke-width=".12" >1</text>
<text x="20.8" y="124.0" text-anchor="end" font-family="Liberation Sans, Arial, sans-serif" font-size="8.6" fill="#111" stroke="#111" stroke-width=".12" >0</text>
<text x="20.8" y="152.1" text-anchor="end" font-family="Liberation Sans, Arial, sans-serif" font-size="8.6" fill="#111" stroke="#111" stroke-width=".12" >-1</text>
<text x="20.8" y="180.2" text-anchor="end" font-family="Liberation Sans, Arial, sans-serif" font-size="8.6" fill="#111" stroke="#111" stroke-width=".12" >-2</text>
<text x="163.5" y="186.3" text-anchor="middle" font-family="Liberation Sans, Arial, sans-serif" font-size="8.6" fill="#111" stroke="#111" stroke-width=".12" >0</text>
<text x="186.1" y="186.3" text-anchor="middle" font-family="Liberation Sans, Arial, sans-serif" font-size="8.6" fill="#111" stroke="#111" stroke-width=".12" >1</text>
<text x="208.8" y="186.3" text-anchor="middle" font-family="Liberation Sans, Arial, sans-serif" font-size="8.6" fill="#111" stroke="#111" stroke-width=".12" >2</text>
<text x="231.4" y="186.3" text-anchor="middle" font-family="Liberation Sans, Arial, sans-serif" font-size="8.6" fill="#111" stroke="#111" stroke-width=".12" >3</text>
<text x="254.1" y="186.3" text-anchor="middle" font-family="Liberation Sans, Arial, sans-serif" font-size="8.6" fill="#111" stroke="#111" stroke-width=".12" >4</text>
<text x="276.7" y="186.3" text-anchor="middle" font-family="Liberation Sans, Arial, sans-serif" font-size="8.6" fill="#111" stroke="#111" stroke-width=".12" >5</text>
<text x="160.5" y="152.1" text-anchor="end" font-family="Liberation Sans, Arial, sans-serif" font-size="8.6" fill="#111" stroke="#111" stroke-width=".12" >2</text>
<text x="160.5" y="124.1" text-anchor="end" font-family="Liberation Sans, Arial, sans-serif" font-size="8.6" fill="#111" stroke="#111" stroke-width=".12" >4</text>
<text x="160.5" y="96.0" text-anchor="end" font-family="Liberation Sans, Arial, sans-serif" font-size="8.6" fill="#111" stroke="#111" stroke-width=".12" >6</text>
<text x="160.5" y="67.7" text-anchor="end" font-family="Liberation Sans, Arial, sans-serif" font-size="8.6" fill="#111" stroke="#111" stroke-width=".12" >8</text>
<text x="160.3" y="176.0" text-anchor="end" font-family="Liberation Sans, Arial, sans-serif" font-size="8.6" fill="#111" stroke="#111" stroke-width=".12" >0</text>
<text x="303.3" y="185.1" text-anchor="middle" font-family="Liberation Sans, Arial, sans-serif" font-size="8.6" fill="#111" stroke="#111" stroke-width=".12" >0</text>
<text x="325.9" y="185.1" text-anchor="middle" font-family="Liberation Sans, Arial, sans-serif" font-size="8.6" fill="#111" stroke="#111" stroke-width=".12" >1</text>
<text x="348.6" y="185.1" text-anchor="middle" font-family="Liberation Sans, Arial, sans-serif" font-size="8.6" fill="#111" stroke="#111" stroke-width=".12" >2</text>
<text x="371.2" y="185.1" text-anchor="middle" font-family="Liberation Sans, Arial, sans-serif" font-size="8.6" fill="#111" stroke="#111" stroke-width=".12" >3</text>
<text x="393.9" y="185.1" text-anchor="middle" font-family="Liberation Sans, Arial, sans-serif" font-size="8.6" fill="#111" stroke="#111" stroke-width=".12" >4</text>
<text x="416.5" y="185.1" text-anchor="middle" font-family="Liberation Sans, Arial, sans-serif" font-size="8.6" fill="#111" stroke="#111" stroke-width=".12" >5</text>
<text x="300.4" y="151.2" text-anchor="end" font-family="Liberation Sans, Arial, sans-serif" font-size="8.6" fill="#111" stroke="#111" stroke-width=".12" >2</text>
<text x="300.4" y="123.1" text-anchor="end" font-family="Liberation Sans, Arial, sans-serif" font-size="8.6" fill="#111" stroke="#111" stroke-width=".12" >4</text>
<text x="300.4" y="95.0" text-anchor="end" font-family="Liberation Sans, Arial, sans-serif" font-size="8.6" fill="#111" stroke="#111" stroke-width=".12" >6</text>
<text x="300.4" y="67.1" text-anchor="end" font-family="Liberation Sans, Arial, sans-serif" font-size="8.6" fill="#111" stroke="#111" stroke-width=".12" >8</text>
<text x="300.3" y="175.4" text-anchor="end" font-family="Liberation Sans, Arial, sans-serif" font-size="8.6" fill="#111" stroke="#111" stroke-width=".12" >0</text>
<text x="434.2" y="177.9" font-family="Liberation Sans, Arial, sans-serif" font-size="8.5" fill="#111" stroke="#111" stroke-width=".12">0.0</text>
<text x="434.2" y="156.6" font-family="Liberation Sans, Arial, sans-serif" font-size="8.5" fill="#111" stroke="#111" stroke-width=".12">0.2</text>
<text x="434.2" y="135.3" font-family="Liberation Sans, Arial, sans-serif" font-size="8.5" fill="#111" stroke="#111" stroke-width=".12">0.4</text>
<text x="434.2" y="114.1" font-family="Liberation Sans, Arial, sans-serif" font-size="8.5" fill="#111" stroke="#111" stroke-width=".12">0.6</text>
<text x="434.2" y="92.8" font-family="Liberation Sans, Arial, sans-serif" font-size="8.5" fill="#111" stroke="#111" stroke-width=".12">0.8</text>
<text x="434.2" y="71.5" font-family="Liberation Sans, Arial, sans-serif" font-size="8.5" fill="#111" stroke="#111" stroke-width=".12">1.0</text>
<text font-family="Liberation Serif, Times New Roman, serif" fill="#1c1c1c" stroke="#1c1c1c" stroke-width=".22" transform="translate(0 195.4)"><tspan x="62.0" y="0.0" font-size="10.4" font-style="italic">u</tspan><tspan x="67.0" y="1.9" font-size="7.8" font-style="italic">y</tspan><tspan x="75.2" y="0.0" font-size="10.4">=</tspan><tspan x="85.0" y="0.0" font-size="10.4" font-style="italic">v</tspan><tspan x="89.3" y="1.9" font-size="7.8" font-style="italic">y</tspan><tspan x="95.8" y="0.8" font-size="11.4" font-style="italic">/</tspan><tspan x="100.2" y="0.0" font-size="10.4" font-style="italic">W</tspan></text>
<text font-family="Liberation Serif, Times New Roman, serif" fill="#1c1c1c" stroke="#1c1c1c" stroke-width=".22" transform="translate(10.9 141.9) rotate(-90)"><tspan x="0.0" y="0.0" font-size="10.4" font-style="italic">u</tspan><tspan x="5.0" y="1.9" font-size="7.8" font-style="italic">z</tspan><tspan x="11.9" y="0.0" font-size="10.4">=</tspan><tspan x="19.7" y="0.0" font-size="10.4" font-style="italic">v</tspan><tspan x="24.1" y="1.9" font-size="7.8" font-style="italic">z</tspan><tspan x="29.3" y="0.8" font-size="11.4" font-style="italic">/</tspan><tspan x="34.7" y="0.0" font-size="10.4" font-style="italic">W</tspan></text>
<text font-family="Liberation Serif, Times New Roman, serif" fill="#1c1c1c" stroke="#1c1c1c" stroke-width=".22" transform="translate(152.0 145.8) rotate(-90)"><tspan x="0.0" y="0.0" font-size="10.4">Ω</tspan><tspan x="9.9" y="0.0" font-size="10.4">=</tspan><tspan x="20.6" y="0.0" font-size="10.4" font-style="italic">ω</tspan><tspan x="27.6" y="0.8" font-size="11.4" font-style="italic">/</tspan><tspan x="32.6" y="0.0" font-size="10.4" font-style="italic">ω</tspan><tspan x="38.5" y="1.9" font-size="7.8" font-style="italic">c</tspan></text>
<text font-family="Liberation Serif, Times New Roman, serif" fill="#1c1c1c" stroke="#1c1c1c" stroke-width=".22" transform="translate(292.0 144.8) rotate(-90)"><tspan x="0.0" y="0.0" font-size="10.4">Ω</tspan><tspan x="9.9" y="0.0" font-size="10.4">=</tspan><tspan x="20.6" y="0.0" font-size="10.4" font-style="italic">ω</tspan><tspan x="27.6" y="0.8" font-size="11.4" font-style="italic">/</tspan><tspan x="32.6" y="0.0" font-size="10.4" font-style="italic">ω</tspan><tspan x="38.5" y="1.9" font-size="7.8" font-style="italic">c</tspan></text>
<text font-family="Liberation Serif, Times New Roman, serif" fill="#1c1c1c" stroke="#1c1c1c" stroke-width=".22" transform="translate(0.0 195.3)"><tspan x="197.0" y="0.0" font-size="10.4" font-style="italic">κ</tspan><tspan x="205.8" y="0.0" font-size="10.4">=</tspan><tspan x="215.6" y="0.0" font-size="10.4" font-style="italic">k</tspan><tspan x="220.4" y="0.0" font-size="10.4" font-style="italic">W</tspan><tspan x="231.3" y="0.8" font-size="11.4" font-style="italic">/</tspan><tspan x="236.2" y="0.0" font-size="10.4" font-style="italic">ω</tspan><tspan x="242.4" y="1.9" font-size="7.8" font-style="italic">c</tspan></text>
<text font-family="Liberation Serif, Times New Roman, serif" fill="#1c1c1c" stroke="#1c1c1c" stroke-width=".22" transform="translate(140.0 194.6)"><tspan x="197.0" y="0.0" font-size="10.4" font-style="italic">κ</tspan><tspan x="205.8" y="0.0" font-size="10.4">=</tspan><tspan x="215.6" y="0.0" font-size="10.4" font-style="italic">k</tspan><tspan x="220.4" y="0.0" font-size="10.4" font-style="italic">W</tspan><tspan x="231.3" y="0.8" font-size="11.4" font-style="italic">/</tspan><tspan x="236.2" y="0.0" font-size="10.4" font-style="italic">ω</tspan><tspan x="242.4" y="1.9" font-size="7.8" font-style="italic">c</tspan></text>
</svg>
</div></body></html>
